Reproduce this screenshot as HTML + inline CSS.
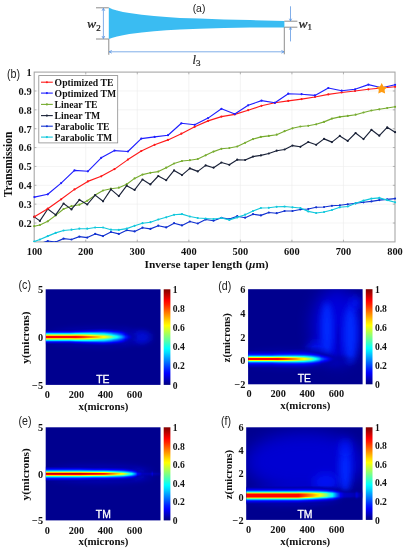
<!DOCTYPE html>
<html lang="en">
<head>
<meta charset="utf-8">
<title>Inverse taper transmission figure</title>
<style>
html,body{margin:0;padding:0;background:#fff;}
body{width:405px;height:550px;overflow:hidden;font-family:'Liberation Sans',sans-serif;}
svg{display:block;}
</style>
</head>
<body>
<svg width="405" height="550" viewBox="0 0 405 550">
<defs>
<clipPath id="cpb"><rect x="32.7" y="70.6" width="363.8" height="171.3"/></clipPath>
<clipPath id="c1"><rect x="45.7" y="289.3" width="114.8" height="95.6"/></clipPath>
<filter id="f2" x="-100%" y="-100%" width="300%" height="300%"><feGaussianBlur stdDeviation="4"/></filter>
<filter id="f3" x="-100%" y="-100%" width="300%" height="300%"><feGaussianBlur stdDeviation="3.2"/></filter>
<filter id="f4" x="-100%" y="-100%" width="300%" height="300%"><feGaussianBlur stdDeviation="3"/></filter>
<linearGradient id="g6" gradientUnits="userSpaceOnUse" x1="45.7" x2="160.5" y1="0" y2="0"><stop offset="-0" stop-color="#000080" stop-opacity="0"/><stop offset="0.45" stop-color="#000080" stop-opacity="0"/><stop offset="0.47" stop-color="#000083" stop-opacity="0"/><stop offset="0.5" stop-color="#000085" stop-opacity="0.03"/><stop offset="0.57" stop-color="#000085" stop-opacity="0.03"/><stop offset="0.59" stop-color="#000085" stop-opacity="0.02"/><stop offset="0.62" stop-color="#000084" stop-opacity="0.01"/><stop offset="0.66" stop-color="#000083" stop-opacity="0"/><stop offset="0.69" stop-color="#000082" stop-opacity="0"/><stop offset="0.69" stop-color="#000082" stop-opacity="0"/><stop offset="0.72" stop-color="#000081" stop-opacity="0"/><stop offset="0.74" stop-color="#000081" stop-opacity="0"/><stop offset="0.76" stop-color="#000080" stop-opacity="0"/><stop offset="1" stop-color="#000080" stop-opacity="0"/></linearGradient>
<linearGradient id="g7" gradientUnits="userSpaceOnUse" x1="45.7" x2="160.5" y1="0" y2="0"><stop offset="-0" stop-color="#000080" stop-opacity="0"/><stop offset="0.33" stop-color="#000080" stop-opacity="0"/><stop offset="0.36" stop-color="#000084" stop-opacity="0"/><stop offset="0.39" stop-color="#000087" stop-opacity="0.06"/><stop offset="0.42" stop-color="#000089" stop-opacity="0.12"/><stop offset="0.45" stop-color="#00008c" stop-opacity="0.16"/><stop offset="0.47" stop-color="#00008e" stop-opacity="0.2"/><stop offset="0.5" stop-color="#000091" stop-opacity="0.26"/><stop offset="0.51" stop-color="#000091" stop-opacity="0.26"/><stop offset="0.54" stop-color="#000090" stop-opacity="0.25"/><stop offset="0.57" stop-color="#00008f" stop-opacity="0.23"/><stop offset="0.59" stop-color="#00008e" stop-opacity="0.2"/><stop offset="0.62" stop-color="#00008c" stop-opacity="0.17"/><stop offset="0.66" stop-color="#00008a" stop-opacity="0.12"/><stop offset="0.69" stop-color="#000086" stop-opacity="0.05"/><stop offset="0.69" stop-color="#000086" stop-opacity="0.05"/><stop offset="0.72" stop-color="#000083" stop-opacity="0"/><stop offset="0.74" stop-color="#000082" stop-opacity="0"/><stop offset="0.76" stop-color="#000081" stop-opacity="0"/><stop offset="0.78" stop-color="#000081" stop-opacity="0"/><stop offset="0.8" stop-color="#000080" stop-opacity="0"/><stop offset="1" stop-color="#000080" stop-opacity="0"/></linearGradient>
<linearGradient id="g8" gradientUnits="userSpaceOnUse" x1="45.7" x2="160.5" y1="0" y2="0"><stop offset="-0" stop-color="#000080" stop-opacity="0"/><stop offset="0.21" stop-color="#000080" stop-opacity="0"/><stop offset="0.24" stop-color="#000083" stop-opacity="0"/><stop offset="0.26" stop-color="#000087" stop-opacity="0.06"/><stop offset="0.29" stop-color="#00008a" stop-opacity="0.12"/><stop offset="0.31" stop-color="#00008c" stop-opacity="0.17"/><stop offset="0.33" stop-color="#00008f" stop-opacity="0.22"/><stop offset="0.36" stop-color="#000093" stop-opacity="0.3"/><stop offset="0.39" stop-color="#000098" stop-opacity="0.4"/><stop offset="0.42" stop-color="#00009c" stop-opacity="0.48"/><stop offset="0.45" stop-color="#00009f" stop-opacity="0.53"/><stop offset="0.47" stop-color="#0000a1" stop-opacity="0.58"/><stop offset="0.5" stop-color="#0000a3" stop-opacity="0.62"/><stop offset="0.51" stop-color="#0000a3" stop-opacity="0.61"/><stop offset="0.54" stop-color="#0000a0" stop-opacity="0.56"/><stop offset="0.57" stop-color="#00009e" stop-opacity="0.52"/><stop offset="0.59" stop-color="#00009b" stop-opacity="0.46"/><stop offset="0.62" stop-color="#000098" stop-opacity="0.4"/><stop offset="0.66" stop-color="#000092" stop-opacity="0.29"/><stop offset="0.69" stop-color="#00008c" stop-opacity="0.16"/><stop offset="0.69" stop-color="#00008b" stop-opacity="0.15"/><stop offset="0.72" stop-color="#000086" stop-opacity="0.06"/><stop offset="0.74" stop-color="#000084" stop-opacity="0.01"/><stop offset="0.76" stop-color="#000082" stop-opacity="0"/><stop offset="0.78" stop-color="#000081" stop-opacity="0"/><stop offset="0.8" stop-color="#000081" stop-opacity="0"/><stop offset="0.83" stop-color="#000080" stop-opacity="0"/><stop offset="1" stop-color="#000080" stop-opacity="0"/></linearGradient>
<linearGradient id="g9" gradientUnits="userSpaceOnUse" x1="45.7" x2="160.5" y1="0" y2="0"><stop offset="-0" stop-color="#000091" stop-opacity="0.27"/><stop offset="0.21" stop-color="#000091" stop-opacity="0.27"/><stop offset="0.24" stop-color="#000097" stop-opacity="0.39"/><stop offset="0.26" stop-color="#00009d" stop-opacity="0.5"/><stop offset="0.29" stop-color="#0000a2" stop-opacity="0.59"/><stop offset="0.31" stop-color="#0000a6" stop-opacity="0.67"/><stop offset="0.33" stop-color="#0000a9" stop-opacity="0.74"/><stop offset="0.36" stop-color="#0000ad" stop-opacity="0.81"/><stop offset="0.39" stop-color="#0000b2" stop-opacity="0.9"/><stop offset="0.42" stop-color="#0000b6" stop-opacity="0.98"/><stop offset="0.45" stop-color="#0000b9" stop-opacity="1"/><stop offset="0.47" stop-color="#0000bc" stop-opacity="1"/><stop offset="0.5" stop-color="#0000be" stop-opacity="1"/><stop offset="0.51" stop-color="#0000be" stop-opacity="1"/><stop offset="0.54" stop-color="#0000b9" stop-opacity="1"/><stop offset="0.57" stop-color="#0000b4" stop-opacity="0.95"/><stop offset="0.59" stop-color="#0000ae" stop-opacity="0.84"/><stop offset="0.62" stop-color="#0000a9" stop-opacity="0.73"/><stop offset="0.66" stop-color="#00009f" stop-opacity="0.53"/><stop offset="0.69" stop-color="#000094" stop-opacity="0.32"/><stop offset="0.69" stop-color="#000093" stop-opacity="0.3"/><stop offset="0.72" stop-color="#00008b" stop-opacity="0.14"/><stop offset="0.74" stop-color="#000087" stop-opacity="0.08"/><stop offset="0.76" stop-color="#000084" stop-opacity="0.01"/><stop offset="0.78" stop-color="#000083" stop-opacity="0"/><stop offset="0.8" stop-color="#000081" stop-opacity="0"/><stop offset="0.88" stop-color="#000081" stop-opacity="0"/><stop offset="0.9" stop-color="#000080" stop-opacity="0"/><stop offset="1" stop-color="#000080" stop-opacity="0"/></linearGradient>
<linearGradient id="g10" gradientUnits="userSpaceOnUse" x1="45.7" x2="160.5" y1="0" y2="0"><stop offset="-0" stop-color="#0000b2" stop-opacity="0.92"/><stop offset="0.11" stop-color="#0000b2" stop-opacity="0.92"/><stop offset="0.13" stop-color="#0000b2" stop-opacity="0.91"/><stop offset="0.21" stop-color="#0000b2" stop-opacity="0.91"/><stop offset="0.24" stop-color="#0000ba" stop-opacity="1"/><stop offset="0.26" stop-color="#0000c1" stop-opacity="1"/><stop offset="0.29" stop-color="#0000c5" stop-opacity="1"/><stop offset="0.31" stop-color="#0000ca" stop-opacity="1"/><stop offset="0.33" stop-color="#0000cf" stop-opacity="1"/><stop offset="0.36" stop-color="#0000d4" stop-opacity="1"/><stop offset="0.39" stop-color="#0000d8" stop-opacity="1"/><stop offset="0.42" stop-color="#0000dd" stop-opacity="1"/><stop offset="0.45" stop-color="#0000e0" stop-opacity="1"/><stop offset="0.47" stop-color="#0000e2" stop-opacity="1"/><stop offset="0.5" stop-color="#0000e3" stop-opacity="1"/><stop offset="0.51" stop-color="#0000e2" stop-opacity="1"/><stop offset="0.54" stop-color="#0000da" stop-opacity="1"/><stop offset="0.57" stop-color="#0000d2" stop-opacity="1"/><stop offset="0.59" stop-color="#0000ca" stop-opacity="1"/><stop offset="0.62" stop-color="#0000c1" stop-opacity="1"/><stop offset="0.66" stop-color="#0000b1" stop-opacity="0.88"/><stop offset="0.69" stop-color="#0000a0" stop-opacity="0.55"/><stop offset="0.69" stop-color="#00009e" stop-opacity="0.51"/><stop offset="0.72" stop-color="#000091" stop-opacity="0.27"/><stop offset="0.74" stop-color="#00008c" stop-opacity="0.17"/><stop offset="0.76" stop-color="#000087" stop-opacity="0.06"/><stop offset="0.78" stop-color="#000084" stop-opacity="0.02"/><stop offset="0.8" stop-color="#000082" stop-opacity="0"/><stop offset="0.85" stop-color="#000082" stop-opacity="0"/><stop offset="0.88" stop-color="#000081" stop-opacity="0"/><stop offset="0.93" stop-color="#000081" stop-opacity="0"/><stop offset="0.95" stop-color="#000080" stop-opacity="0"/><stop offset="1" stop-color="#000080" stop-opacity="0"/></linearGradient>
<linearGradient id="g11" gradientUnits="userSpaceOnUse" x1="45.7" x2="160.5" y1="0" y2="0"><stop offset="-0" stop-color="#0000e6" stop-opacity="1"/><stop offset="0.21" stop-color="#0000e6" stop-opacity="1"/><stop offset="0.24" stop-color="#0000ef" stop-opacity="1"/><stop offset="0.26" stop-color="#0000f9" stop-opacity="1"/><stop offset="0.29" stop-color="#0000fe" stop-opacity="1"/><stop offset="0.31" stop-color="#0004ff" stop-opacity="1"/><stop offset="0.33" stop-color="#000aff" stop-opacity="1"/><stop offset="0.36" stop-color="#0011ff" stop-opacity="1"/><stop offset="0.39" stop-color="#0015ff" stop-opacity="1"/><stop offset="0.42" stop-color="#0018ff" stop-opacity="1"/><stop offset="0.45" stop-color="#001eff" stop-opacity="1"/><stop offset="0.47" stop-color="#0023ff" stop-opacity="1"/><stop offset="0.5" stop-color="#0026ff" stop-opacity="1"/><stop offset="0.51" stop-color="#0025ff" stop-opacity="1"/><stop offset="0.54" stop-color="#0017ff" stop-opacity="1"/><stop offset="0.57" stop-color="#0009ff" stop-opacity="1"/><stop offset="0.59" stop-color="#0000fa" stop-opacity="1"/><stop offset="0.62" stop-color="#0000eb" stop-opacity="1"/><stop offset="0.66" stop-color="#0000d0" stop-opacity="1"/><stop offset="0.69" stop-color="#0000b4" stop-opacity="0.95"/><stop offset="0.69" stop-color="#0000b1" stop-opacity="0.89"/><stop offset="0.72" stop-color="#00009d" stop-opacity="0.49"/><stop offset="0.74" stop-color="#000094" stop-opacity="0.32"/><stop offset="0.76" stop-color="#00008b" stop-opacity="0.15"/><stop offset="0.78" stop-color="#000088" stop-opacity="0.08"/><stop offset="0.8" stop-color="#000084" stop-opacity="0.01"/><stop offset="0.83" stop-color="#000083" stop-opacity="0"/><stop offset="0.85" stop-color="#000083" stop-opacity="0"/><stop offset="0.88" stop-color="#000082" stop-opacity="0"/><stop offset="0.9" stop-color="#000082" stop-opacity="0"/><stop offset="0.93" stop-color="#000081" stop-opacity="0"/><stop offset="0.95" stop-color="#000081" stop-opacity="0"/><stop offset="0.98" stop-color="#000080" stop-opacity="0"/><stop offset="1" stop-color="#000080" stop-opacity="0"/></linearGradient>
<linearGradient id="g12" gradientUnits="userSpaceOnUse" x1="45.7" x2="160.5" y1="0" y2="0"><stop offset="-0" stop-color="#003cff" stop-opacity="1"/><stop offset="0.08" stop-color="#003cff" stop-opacity="1"/><stop offset="0.11" stop-color="#003bff" stop-opacity="1"/><stop offset="0.21" stop-color="#003bff" stop-opacity="1"/><stop offset="0.24" stop-color="#004dff" stop-opacity="1"/><stop offset="0.26" stop-color="#005eff" stop-opacity="1"/><stop offset="0.29" stop-color="#0068ff" stop-opacity="1"/><stop offset="0.31" stop-color="#0071ff" stop-opacity="1"/><stop offset="0.33" stop-color="#0079ff" stop-opacity="1"/><stop offset="0.36" stop-color="#007fff" stop-opacity="1"/><stop offset="0.39" stop-color="#0084ff" stop-opacity="1"/><stop offset="0.42" stop-color="#0086ff" stop-opacity="1"/><stop offset="0.45" stop-color="#0086ff" stop-opacity="1"/><stop offset="0.47" stop-color="#0085ff" stop-opacity="1"/><stop offset="0.5" stop-color="#0082ff" stop-opacity="1"/><stop offset="0.51" stop-color="#007fff" stop-opacity="1"/><stop offset="0.54" stop-color="#0069ff" stop-opacity="1"/><stop offset="0.57" stop-color="#0052ff" stop-opacity="1"/><stop offset="0.59" stop-color="#003aff" stop-opacity="1"/><stop offset="0.62" stop-color="#0022ff" stop-opacity="1"/><stop offset="0.66" stop-color="#0000f8" stop-opacity="1"/><stop offset="0.69" stop-color="#0000ce" stop-opacity="1"/><stop offset="0.69" stop-color="#0000c9" stop-opacity="1"/><stop offset="0.72" stop-color="#0000ab" stop-opacity="0.77"/><stop offset="0.74" stop-color="#00009e" stop-opacity="0.52"/><stop offset="0.76" stop-color="#000091" stop-opacity="0.26"/><stop offset="0.78" stop-color="#00008b" stop-opacity="0.15"/><stop offset="0.8" stop-color="#000086" stop-opacity="0.05"/><stop offset="0.83" stop-color="#000085" stop-opacity="0.03"/><stop offset="0.85" stop-color="#000084" stop-opacity="0.02"/><stop offset="0.88" stop-color="#000084" stop-opacity="0"/><stop offset="0.9" stop-color="#000083" stop-opacity="0"/><stop offset="0.93" stop-color="#000082" stop-opacity="0"/><stop offset="0.95" stop-color="#000081" stop-opacity="0"/><stop offset="0.98" stop-color="#000080" stop-opacity="0"/><stop offset="1" stop-color="#000080" stop-opacity="0"/></linearGradient>
<linearGradient id="g13" gradientUnits="userSpaceOnUse" x1="45.7" x2="160.5" y1="0" y2="0"><stop offset="-0" stop-color="#00e1ff" stop-opacity="1"/><stop offset="0.05" stop-color="#00e1ff" stop-opacity="1"/><stop offset="0.08" stop-color="#00e0ff" stop-opacity="1"/><stop offset="0.19" stop-color="#00e0ff" stop-opacity="1"/><stop offset="0.21" stop-color="#00dfff" stop-opacity="1"/><stop offset="0.24" stop-color="#00eeff" stop-opacity="1"/><stop offset="0.26" stop-color="#00fcff" stop-opacity="1"/><stop offset="0.29" stop-color="#01fffe" stop-opacity="1"/><stop offset="0.31" stop-color="#05fffa" stop-opacity="1"/><stop offset="0.33" stop-color="#07fff8" stop-opacity="1"/><stop offset="0.36" stop-color="#05fffa" stop-opacity="1"/><stop offset="0.39" stop-color="#00ffff" stop-opacity="1"/><stop offset="0.42" stop-color="#00f8ff" stop-opacity="1"/><stop offset="0.45" stop-color="#00f0ff" stop-opacity="1"/><stop offset="0.47" stop-color="#00e8ff" stop-opacity="1"/><stop offset="0.5" stop-color="#00deff" stop-opacity="1"/><stop offset="0.51" stop-color="#00daff" stop-opacity="1"/><stop offset="0.54" stop-color="#00baff" stop-opacity="1"/><stop offset="0.57" stop-color="#009aff" stop-opacity="1"/><stop offset="0.59" stop-color="#0079ff" stop-opacity="1"/><stop offset="0.62" stop-color="#0058ff" stop-opacity="1"/><stop offset="0.66" stop-color="#0020ff" stop-opacity="1"/><stop offset="0.69" stop-color="#0000e7" stop-opacity="1"/><stop offset="0.69" stop-color="#0000e0" stop-opacity="1"/><stop offset="0.72" stop-color="#0000b9" stop-opacity="1"/><stop offset="0.74" stop-color="#0000a8" stop-opacity="0.71"/><stop offset="0.76" stop-color="#000096" stop-opacity="0.37"/><stop offset="0.78" stop-color="#00008f" stop-opacity="0.23"/><stop offset="0.8" stop-color="#000088" stop-opacity="0.09"/><stop offset="0.83" stop-color="#000087" stop-opacity="0.07"/><stop offset="0.85" stop-color="#000086" stop-opacity="0.05"/><stop offset="0.88" stop-color="#000085" stop-opacity="0.03"/><stop offset="0.9" stop-color="#000084" stop-opacity="0"/><stop offset="0.93" stop-color="#000083" stop-opacity="0"/><stop offset="0.95" stop-color="#000082" stop-opacity="0"/><stop offset="0.98" stop-color="#000081" stop-opacity="0"/><stop offset="1" stop-color="#000080" stop-opacity="0"/></linearGradient>
<linearGradient id="g14" gradientUnits="userSpaceOnUse" x1="45.7" x2="160.5" y1="0" y2="0"><stop offset="-0" stop-color="#87ff78" stop-opacity="1"/><stop offset="0.05" stop-color="#87ff78" stop-opacity="1"/><stop offset="0.08" stop-color="#86ff79" stop-opacity="1"/><stop offset="0.13" stop-color="#86ff79" stop-opacity="1"/><stop offset="0.16" stop-color="#85ff7a" stop-opacity="1"/><stop offset="0.21" stop-color="#85ff7a" stop-opacity="1"/><stop offset="0.24" stop-color="#8fff70" stop-opacity="1"/><stop offset="0.26" stop-color="#98ff67" stop-opacity="1"/><stop offset="0.29" stop-color="#95ff6a" stop-opacity="1"/><stop offset="0.31" stop-color="#92ff6d" stop-opacity="1"/><stop offset="0.33" stop-color="#8fff70" stop-opacity="1"/><stop offset="0.36" stop-color="#82ff7d" stop-opacity="1"/><stop offset="0.39" stop-color="#75ff8a" stop-opacity="1"/><stop offset="0.42" stop-color="#66ff99" stop-opacity="1"/><stop offset="0.45" stop-color="#57ffa8" stop-opacity="1"/><stop offset="0.47" stop-color="#48ffb7" stop-opacity="1"/><stop offset="0.5" stop-color="#38ffc7" stop-opacity="1"/><stop offset="0.51" stop-color="#33ffcc" stop-opacity="1"/><stop offset="0.54" stop-color="#0afff5" stop-opacity="1"/><stop offset="0.57" stop-color="#00e0ff" stop-opacity="1"/><stop offset="0.59" stop-color="#00b7ff" stop-opacity="1"/><stop offset="0.62" stop-color="#008dff" stop-opacity="1"/><stop offset="0.66" stop-color="#0047ff" stop-opacity="1"/><stop offset="0.69" stop-color="#0001ff" stop-opacity="1"/><stop offset="0.69" stop-color="#0000f8" stop-opacity="1"/><stop offset="0.72" stop-color="#0000c7" stop-opacity="1"/><stop offset="0.74" stop-color="#0000b1" stop-opacity="0.9"/><stop offset="0.76" stop-color="#00009c" stop-opacity="0.48"/><stop offset="0.78" stop-color="#000093" stop-opacity="0.3"/><stop offset="0.8" stop-color="#00008a" stop-opacity="0.13"/><stop offset="0.83" stop-color="#000089" stop-opacity="0.1"/><stop offset="0.85" stop-color="#000088" stop-opacity="0.08"/><stop offset="0.88" stop-color="#000086" stop-opacity="0.05"/><stop offset="0.9" stop-color="#000085" stop-opacity="0.02"/><stop offset="0.93" stop-color="#000084" stop-opacity="0"/><stop offset="0.95" stop-color="#000082" stop-opacity="0"/><stop offset="0.98" stop-color="#000081" stop-opacity="0"/><stop offset="1" stop-color="#000080" stop-opacity="0"/></linearGradient>
<linearGradient id="g15" gradientUnits="userSpaceOnUse" x1="45.7" x2="160.5" y1="0" y2="0"><stop offset="-0" stop-color="#ffd200" stop-opacity="1"/><stop offset="0.03" stop-color="#ffd200" stop-opacity="1"/><stop offset="0.05" stop-color="#ffd300" stop-opacity="1"/><stop offset="0.11" stop-color="#ffd300" stop-opacity="1"/><stop offset="0.13" stop-color="#ffd400" stop-opacity="1"/><stop offset="0.19" stop-color="#ffd400" stop-opacity="1"/><stop offset="0.21" stop-color="#ffd500" stop-opacity="1"/><stop offset="0.24" stop-color="#ffcc00" stop-opacity="1"/><stop offset="0.26" stop-color="#ffc400" stop-opacity="1"/><stop offset="0.29" stop-color="#ffca00" stop-opacity="1"/><stop offset="0.31" stop-color="#ffd100" stop-opacity="1"/><stop offset="0.33" stop-color="#ffd800" stop-opacity="1"/><stop offset="0.36" stop-color="#ffec00" stop-opacity="1"/><stop offset="0.39" stop-color="#feff01" stop-opacity="1"/><stop offset="0.42" stop-color="#e8ff17" stop-opacity="1"/><stop offset="0.45" stop-color="#d3ff2c" stop-opacity="1"/><stop offset="0.47" stop-color="#bdff42" stop-opacity="1"/><stop offset="0.5" stop-color="#a7ff58" stop-opacity="1"/><stop offset="0.51" stop-color="#a1ff5e" stop-opacity="1"/><stop offset="0.54" stop-color="#6dff92" stop-opacity="1"/><stop offset="0.57" stop-color="#39ffc6" stop-opacity="1"/><stop offset="0.59" stop-color="#05fffa" stop-opacity="1"/><stop offset="0.62" stop-color="#00d0ff" stop-opacity="1"/><stop offset="0.66" stop-color="#0078ff" stop-opacity="1"/><stop offset="0.69" stop-color="#0020ff" stop-opacity="1"/><stop offset="0.69" stop-color="#0016ff" stop-opacity="1"/><stop offset="0.72" stop-color="#0000d8" stop-opacity="1"/><stop offset="0.74" stop-color="#0000be" stop-opacity="1"/><stop offset="0.76" stop-color="#0000a3" stop-opacity="0.62"/><stop offset="0.78" stop-color="#000098" stop-opacity="0.4"/><stop offset="0.8" stop-color="#00008d" stop-opacity="0.18"/><stop offset="0.83" stop-color="#00008b" stop-opacity="0.15"/><stop offset="0.85" stop-color="#000089" stop-opacity="0.12"/><stop offset="0.88" stop-color="#000088" stop-opacity="0.08"/><stop offset="0.9" stop-color="#000086" stop-opacity="0.05"/><stop offset="0.93" stop-color="#000084" stop-opacity="0.02"/><stop offset="0.95" stop-color="#000083" stop-opacity="0"/><stop offset="0.98" stop-color="#000081" stop-opacity="0"/><stop offset="1" stop-color="#000080" stop-opacity="0"/></linearGradient>
<linearGradient id="g16" gradientUnits="userSpaceOnUse" x1="45.7" x2="160.5" y1="0" y2="0"><stop offset="-0" stop-color="#ff0000" stop-opacity="1"/><stop offset="0" stop-color="#ff0000" stop-opacity="1"/><stop offset="0.03" stop-color="#ff0100" stop-opacity="1"/><stop offset="0.05" stop-color="#ff0100" stop-opacity="1"/><stop offset="0.08" stop-color="#ff0200" stop-opacity="1"/><stop offset="0.11" stop-color="#ff0200" stop-opacity="1"/><stop offset="0.13" stop-color="#ff0300" stop-opacity="1"/><stop offset="0.16" stop-color="#ff0300" stop-opacity="1"/><stop offset="0.19" stop-color="#ff0400" stop-opacity="1"/><stop offset="0.21" stop-color="#ff0400" stop-opacity="1"/><stop offset="0.24" stop-color="#ff0500" stop-opacity="1"/><stop offset="0.26" stop-color="#ff0500" stop-opacity="1"/><stop offset="0.29" stop-color="#ff1600" stop-opacity="1"/><stop offset="0.31" stop-color="#ff2700" stop-opacity="1"/><stop offset="0.33" stop-color="#ff3800" stop-opacity="1"/><stop offset="0.36" stop-color="#ff5a00" stop-opacity="1"/><stop offset="0.39" stop-color="#ff7c00" stop-opacity="1"/><stop offset="0.42" stop-color="#ff9e00" stop-opacity="1"/><stop offset="0.45" stop-color="#ffbd00" stop-opacity="1"/><stop offset="0.47" stop-color="#ffdd00" stop-opacity="1"/><stop offset="0.5" stop-color="#fffc00" stop-opacity="1"/><stop offset="0.51" stop-color="#faff05" stop-opacity="1"/><stop offset="0.54" stop-color="#bdff42" stop-opacity="1"/><stop offset="0.57" stop-color="#80ff80" stop-opacity="1"/><stop offset="0.59" stop-color="#42ffbd" stop-opacity="1"/><stop offset="0.62" stop-color="#05fffa" stop-opacity="1"/><stop offset="0.66" stop-color="#009eff" stop-opacity="1"/><stop offset="0.69" stop-color="#0038ff" stop-opacity="1"/><stop offset="0.69" stop-color="#002cff" stop-opacity="1"/><stop offset="0.72" stop-color="#0000e6" stop-opacity="1"/><stop offset="0.74" stop-color="#0000c7" stop-opacity="1"/><stop offset="0.76" stop-color="#0000a8" stop-opacity="0.72"/><stop offset="0.78" stop-color="#00009c" stop-opacity="0.47"/><stop offset="0.8" stop-color="#00008f" stop-opacity="0.22"/><stop offset="0.83" stop-color="#00008d" stop-opacity="0.18"/><stop offset="0.85" stop-color="#00008b" stop-opacity="0.14"/><stop offset="0.88" stop-color="#000089" stop-opacity="0.11"/><stop offset="0.9" stop-color="#000087" stop-opacity="0.07"/><stop offset="0.93" stop-color="#000085" stop-opacity="0.03"/><stop offset="0.95" stop-color="#000083" stop-opacity="0"/><stop offset="0.98" stop-color="#000081" stop-opacity="0"/><stop offset="1" stop-color="#000080" stop-opacity="0"/></linearGradient>
<linearGradient id="g17" gradientUnits="userSpaceOnUse" x1="45.7" x2="160.5" y1="0" y2="0"><stop offset="-0" stop-color="#ff0000" stop-opacity="1"/><stop offset="0" stop-color="#ff0000" stop-opacity="1"/><stop offset="0.03" stop-color="#ff0100" stop-opacity="1"/><stop offset="0.05" stop-color="#ff0100" stop-opacity="1"/><stop offset="0.08" stop-color="#ff0200" stop-opacity="1"/><stop offset="0.11" stop-color="#ff0200" stop-opacity="1"/><stop offset="0.13" stop-color="#ff0300" stop-opacity="1"/><stop offset="0.16" stop-color="#ff0300" stop-opacity="1"/><stop offset="0.19" stop-color="#ff0400" stop-opacity="1"/><stop offset="0.21" stop-color="#ff0400" stop-opacity="1"/><stop offset="0.24" stop-color="#ff0500" stop-opacity="1"/><stop offset="0.26" stop-color="#ff0500" stop-opacity="1"/><stop offset="0.29" stop-color="#ff1600" stop-opacity="1"/><stop offset="0.31" stop-color="#ff2700" stop-opacity="1"/><stop offset="0.33" stop-color="#ff3800" stop-opacity="1"/><stop offset="0.36" stop-color="#ff5a00" stop-opacity="1"/><stop offset="0.39" stop-color="#ff7c00" stop-opacity="1"/><stop offset="0.42" stop-color="#ff9e00" stop-opacity="1"/><stop offset="0.45" stop-color="#ffbd00" stop-opacity="1"/><stop offset="0.47" stop-color="#ffdd00" stop-opacity="1"/><stop offset="0.5" stop-color="#fffc00" stop-opacity="1"/><stop offset="0.51" stop-color="#faff05" stop-opacity="1"/><stop offset="0.54" stop-color="#bdff42" stop-opacity="1"/><stop offset="0.57" stop-color="#80ff80" stop-opacity="1"/><stop offset="0.59" stop-color="#42ffbd" stop-opacity="1"/><stop offset="0.62" stop-color="#05fffa" stop-opacity="1"/><stop offset="0.66" stop-color="#009eff" stop-opacity="1"/><stop offset="0.69" stop-color="#0038ff" stop-opacity="1"/><stop offset="0.69" stop-color="#002cff" stop-opacity="1"/><stop offset="0.72" stop-color="#0000e6" stop-opacity="1"/><stop offset="0.74" stop-color="#0000c7" stop-opacity="1"/><stop offset="0.76" stop-color="#0000a8" stop-opacity="0.72"/><stop offset="0.78" stop-color="#00009c" stop-opacity="0.47"/><stop offset="0.8" stop-color="#00008f" stop-opacity="0.22"/><stop offset="0.83" stop-color="#00008d" stop-opacity="0.18"/><stop offset="0.85" stop-color="#00008b" stop-opacity="0.14"/><stop offset="0.88" stop-color="#000089" stop-opacity="0.11"/><stop offset="0.9" stop-color="#000087" stop-opacity="0.07"/><stop offset="0.93" stop-color="#000085" stop-opacity="0.03"/><stop offset="0.95" stop-color="#000083" stop-opacity="0"/><stop offset="0.98" stop-color="#000081" stop-opacity="0"/><stop offset="1" stop-color="#000080" stop-opacity="0"/></linearGradient>
<linearGradient id="g18" gradientUnits="userSpaceOnUse" x1="45.7" x2="160.5" y1="0" y2="0"><stop offset="-0" stop-color="#ffd200" stop-opacity="1"/><stop offset="0.03" stop-color="#ffd200" stop-opacity="1"/><stop offset="0.05" stop-color="#ffd300" stop-opacity="1"/><stop offset="0.11" stop-color="#ffd300" stop-opacity="1"/><stop offset="0.13" stop-color="#ffd400" stop-opacity="1"/><stop offset="0.19" stop-color="#ffd400" stop-opacity="1"/><stop offset="0.21" stop-color="#ffd500" stop-opacity="1"/><stop offset="0.24" stop-color="#ffcc00" stop-opacity="1"/><stop offset="0.26" stop-color="#ffc400" stop-opacity="1"/><stop offset="0.29" stop-color="#ffca00" stop-opacity="1"/><stop offset="0.31" stop-color="#ffd100" stop-opacity="1"/><stop offset="0.33" stop-color="#ffd800" stop-opacity="1"/><stop offset="0.36" stop-color="#ffec00" stop-opacity="1"/><stop offset="0.39" stop-color="#feff01" stop-opacity="1"/><stop offset="0.42" stop-color="#e8ff17" stop-opacity="1"/><stop offset="0.45" stop-color="#d3ff2c" stop-opacity="1"/><stop offset="0.47" stop-color="#bdff42" stop-opacity="1"/><stop offset="0.5" stop-color="#a7ff58" stop-opacity="1"/><stop offset="0.51" stop-color="#a1ff5e" stop-opacity="1"/><stop offset="0.54" stop-color="#6dff92" stop-opacity="1"/><stop offset="0.57" stop-color="#39ffc6" stop-opacity="1"/><stop offset="0.59" stop-color="#05fffa" stop-opacity="1"/><stop offset="0.62" stop-color="#00d0ff" stop-opacity="1"/><stop offset="0.66" stop-color="#0078ff" stop-opacity="1"/><stop offset="0.69" stop-color="#0020ff" stop-opacity="1"/><stop offset="0.69" stop-color="#0016ff" stop-opacity="1"/><stop offset="0.72" stop-color="#0000d8" stop-opacity="1"/><stop offset="0.74" stop-color="#0000be" stop-opacity="1"/><stop offset="0.76" stop-color="#0000a3" stop-opacity="0.62"/><stop offset="0.78" stop-color="#000098" stop-opacity="0.4"/><stop offset="0.8" stop-color="#00008d" stop-opacity="0.18"/><stop offset="0.83" stop-color="#00008b" stop-opacity="0.15"/><stop offset="0.85" stop-color="#000089" stop-opacity="0.12"/><stop offset="0.88" stop-color="#000088" stop-opacity="0.08"/><stop offset="0.9" stop-color="#000086" stop-opacity="0.05"/><stop offset="0.93" stop-color="#000084" stop-opacity="0.02"/><stop offset="0.95" stop-color="#000083" stop-opacity="0"/><stop offset="0.98" stop-color="#000081" stop-opacity="0"/><stop offset="1" stop-color="#000080" stop-opacity="0"/></linearGradient>
<linearGradient id="g19" gradientUnits="userSpaceOnUse" x1="45.7" x2="160.5" y1="0" y2="0"><stop offset="-0" stop-color="#87ff78" stop-opacity="1"/><stop offset="0.05" stop-color="#87ff78" stop-opacity="1"/><stop offset="0.08" stop-color="#86ff79" stop-opacity="1"/><stop offset="0.13" stop-color="#86ff79" stop-opacity="1"/><stop offset="0.16" stop-color="#85ff7a" stop-opacity="1"/><stop offset="0.21" stop-color="#85ff7a" stop-opacity="1"/><stop offset="0.24" stop-color="#8fff70" stop-opacity="1"/><stop offset="0.26" stop-color="#98ff67" stop-opacity="1"/><stop offset="0.29" stop-color="#95ff6a" stop-opacity="1"/><stop offset="0.31" stop-color="#92ff6d" stop-opacity="1"/><stop offset="0.33" stop-color="#8fff70" stop-opacity="1"/><stop offset="0.36" stop-color="#82ff7d" stop-opacity="1"/><stop offset="0.39" stop-color="#75ff8a" stop-opacity="1"/><stop offset="0.42" stop-color="#66ff99" stop-opacity="1"/><stop offset="0.45" stop-color="#57ffa8" stop-opacity="1"/><stop offset="0.47" stop-color="#48ffb7" stop-opacity="1"/><stop offset="0.5" stop-color="#38ffc7" stop-opacity="1"/><stop offset="0.51" stop-color="#33ffcc" stop-opacity="1"/><stop offset="0.54" stop-color="#0afff5" stop-opacity="1"/><stop offset="0.57" stop-color="#00e0ff" stop-opacity="1"/><stop offset="0.59" stop-color="#00b7ff" stop-opacity="1"/><stop offset="0.62" stop-color="#008dff" stop-opacity="1"/><stop offset="0.66" stop-color="#0047ff" stop-opacity="1"/><stop offset="0.69" stop-color="#0001ff" stop-opacity="1"/><stop offset="0.69" stop-color="#0000f8" stop-opacity="1"/><stop offset="0.72" stop-color="#0000c7" stop-opacity="1"/><stop offset="0.74" stop-color="#0000b1" stop-opacity="0.9"/><stop offset="0.76" stop-color="#00009c" stop-opacity="0.48"/><stop offset="0.78" stop-color="#000093" stop-opacity="0.3"/><stop offset="0.8" stop-color="#00008a" stop-opacity="0.13"/><stop offset="0.83" stop-color="#000089" stop-opacity="0.1"/><stop offset="0.85" stop-color="#000088" stop-opacity="0.08"/><stop offset="0.88" stop-color="#000086" stop-opacity="0.05"/><stop offset="0.9" stop-color="#000085" stop-opacity="0.02"/><stop offset="0.93" stop-color="#000084" stop-opacity="0"/><stop offset="0.95" stop-color="#000082" stop-opacity="0"/><stop offset="0.98" stop-color="#000081" stop-opacity="0"/><stop offset="1" stop-color="#000080" stop-opacity="0"/></linearGradient>
<linearGradient id="g20" gradientUnits="userSpaceOnUse" x1="45.7" x2="160.5" y1="0" y2="0"><stop offset="-0" stop-color="#00e1ff" stop-opacity="1"/><stop offset="0.05" stop-color="#00e1ff" stop-opacity="1"/><stop offset="0.08" stop-color="#00e0ff" stop-opacity="1"/><stop offset="0.19" stop-color="#00e0ff" stop-opacity="1"/><stop offset="0.21" stop-color="#00dfff" stop-opacity="1"/><stop offset="0.24" stop-color="#00eeff" stop-opacity="1"/><stop offset="0.26" stop-color="#00fcff" stop-opacity="1"/><stop offset="0.29" stop-color="#01fffe" stop-opacity="1"/><stop offset="0.31" stop-color="#05fffa" stop-opacity="1"/><stop offset="0.33" stop-color="#07fff8" stop-opacity="1"/><stop offset="0.36" stop-color="#05fffa" stop-opacity="1"/><stop offset="0.39" stop-color="#00ffff" stop-opacity="1"/><stop offset="0.42" stop-color="#00f8ff" stop-opacity="1"/><stop offset="0.45" stop-color="#00f0ff" stop-opacity="1"/><stop offset="0.47" stop-color="#00e8ff" stop-opacity="1"/><stop offset="0.5" stop-color="#00deff" stop-opacity="1"/><stop offset="0.51" stop-color="#00daff" stop-opacity="1"/><stop offset="0.54" stop-color="#00baff" stop-opacity="1"/><stop offset="0.57" stop-color="#009aff" stop-opacity="1"/><stop offset="0.59" stop-color="#0079ff" stop-opacity="1"/><stop offset="0.62" stop-color="#0058ff" stop-opacity="1"/><stop offset="0.66" stop-color="#0020ff" stop-opacity="1"/><stop offset="0.69" stop-color="#0000e7" stop-opacity="1"/><stop offset="0.69" stop-color="#0000e0" stop-opacity="1"/><stop offset="0.72" stop-color="#0000b9" stop-opacity="1"/><stop offset="0.74" stop-color="#0000a8" stop-opacity="0.71"/><stop offset="0.76" stop-color="#000096" stop-opacity="0.37"/><stop offset="0.78" stop-color="#00008f" stop-opacity="0.23"/><stop offset="0.8" stop-color="#000088" stop-opacity="0.09"/><stop offset="0.83" stop-color="#000087" stop-opacity="0.07"/><stop offset="0.85" stop-color="#000086" stop-opacity="0.05"/><stop offset="0.88" stop-color="#000085" stop-opacity="0.03"/><stop offset="0.9" stop-color="#000084" stop-opacity="0"/><stop offset="0.93" stop-color="#000083" stop-opacity="0"/><stop offset="0.95" stop-color="#000082" stop-opacity="0"/><stop offset="0.98" stop-color="#000081" stop-opacity="0"/><stop offset="1" stop-color="#000080" stop-opacity="0"/></linearGradient>
<linearGradient id="g21" gradientUnits="userSpaceOnUse" x1="45.7" x2="160.5" y1="0" y2="0"><stop offset="-0" stop-color="#003cff" stop-opacity="1"/><stop offset="0.08" stop-color="#003cff" stop-opacity="1"/><stop offset="0.11" stop-color="#003bff" stop-opacity="1"/><stop offset="0.21" stop-color="#003bff" stop-opacity="1"/><stop offset="0.24" stop-color="#004dff" stop-opacity="1"/><stop offset="0.26" stop-color="#005eff" stop-opacity="1"/><stop offset="0.29" stop-color="#0068ff" stop-opacity="1"/><stop offset="0.31" stop-color="#0071ff" stop-opacity="1"/><stop offset="0.33" stop-color="#0079ff" stop-opacity="1"/><stop offset="0.36" stop-color="#007fff" stop-opacity="1"/><stop offset="0.39" stop-color="#0084ff" stop-opacity="1"/><stop offset="0.42" stop-color="#0086ff" stop-opacity="1"/><stop offset="0.45" stop-color="#0086ff" stop-opacity="1"/><stop offset="0.47" stop-color="#0085ff" stop-opacity="1"/><stop offset="0.5" stop-color="#0082ff" stop-opacity="1"/><stop offset="0.51" stop-color="#007fff" stop-opacity="1"/><stop offset="0.54" stop-color="#0069ff" stop-opacity="1"/><stop offset="0.57" stop-color="#0052ff" stop-opacity="1"/><stop offset="0.59" stop-color="#003aff" stop-opacity="1"/><stop offset="0.62" stop-color="#0022ff" stop-opacity="1"/><stop offset="0.66" stop-color="#0000f8" stop-opacity="1"/><stop offset="0.69" stop-color="#0000ce" stop-opacity="1"/><stop offset="0.69" stop-color="#0000c9" stop-opacity="1"/><stop offset="0.72" stop-color="#0000ab" stop-opacity="0.77"/><stop offset="0.74" stop-color="#00009e" stop-opacity="0.52"/><stop offset="0.76" stop-color="#000091" stop-opacity="0.26"/><stop offset="0.78" stop-color="#00008b" stop-opacity="0.15"/><stop offset="0.8" stop-color="#000086" stop-opacity="0.05"/><stop offset="0.83" stop-color="#000085" stop-opacity="0.03"/><stop offset="0.85" stop-color="#000084" stop-opacity="0.02"/><stop offset="0.88" stop-color="#000084" stop-opacity="0"/><stop offset="0.9" stop-color="#000083" stop-opacity="0"/><stop offset="0.93" stop-color="#000082" stop-opacity="0"/><stop offset="0.95" stop-color="#000081" stop-opacity="0"/><stop offset="0.98" stop-color="#000080" stop-opacity="0"/><stop offset="1" stop-color="#000080" stop-opacity="0"/></linearGradient>
<linearGradient id="g22" gradientUnits="userSpaceOnUse" x1="45.7" x2="160.5" y1="0" y2="0"><stop offset="-0" stop-color="#0000e6" stop-opacity="1"/><stop offset="0.21" stop-color="#0000e6" stop-opacity="1"/><stop offset="0.24" stop-color="#0000ef" stop-opacity="1"/><stop offset="0.26" stop-color="#0000f9" stop-opacity="1"/><stop offset="0.29" stop-color="#0000fe" stop-opacity="1"/><stop offset="0.31" stop-color="#0004ff" stop-opacity="1"/><stop offset="0.33" stop-color="#000aff" stop-opacity="1"/><stop offset="0.36" stop-color="#0011ff" stop-opacity="1"/><stop offset="0.39" stop-color="#0015ff" stop-opacity="1"/><stop offset="0.42" stop-color="#0018ff" stop-opacity="1"/><stop offset="0.45" stop-color="#001eff" stop-opacity="1"/><stop offset="0.47" stop-color="#0023ff" stop-opacity="1"/><stop offset="0.5" stop-color="#0026ff" stop-opacity="1"/><stop offset="0.51" stop-color="#0025ff" stop-opacity="1"/><stop offset="0.54" stop-color="#0017ff" stop-opacity="1"/><stop offset="0.57" stop-color="#0009ff" stop-opacity="1"/><stop offset="0.59" stop-color="#0000fa" stop-opacity="1"/><stop offset="0.62" stop-color="#0000eb" stop-opacity="1"/><stop offset="0.66" stop-color="#0000d0" stop-opacity="1"/><stop offset="0.69" stop-color="#0000b4" stop-opacity="0.95"/><stop offset="0.69" stop-color="#0000b1" stop-opacity="0.89"/><stop offset="0.72" stop-color="#00009d" stop-opacity="0.49"/><stop offset="0.74" stop-color="#000094" stop-opacity="0.32"/><stop offset="0.76" stop-color="#00008b" stop-opacity="0.15"/><stop offset="0.78" stop-color="#000088" stop-opacity="0.08"/><stop offset="0.8" stop-color="#000084" stop-opacity="0.01"/><stop offset="0.83" stop-color="#000083" stop-opacity="0"/><stop offset="0.85" stop-color="#000083" stop-opacity="0"/><stop offset="0.88" stop-color="#000082" stop-opacity="0"/><stop offset="0.9" stop-color="#000082" stop-opacity="0"/><stop offset="0.93" stop-color="#000081" stop-opacity="0"/><stop offset="0.95" stop-color="#000081" stop-opacity="0"/><stop offset="0.98" stop-color="#000080" stop-opacity="0"/><stop offset="1" stop-color="#000080" stop-opacity="0"/></linearGradient>
<linearGradient id="g23" gradientUnits="userSpaceOnUse" x1="45.7" x2="160.5" y1="0" y2="0"><stop offset="-0" stop-color="#0000b2" stop-opacity="0.92"/><stop offset="0.11" stop-color="#0000b2" stop-opacity="0.92"/><stop offset="0.13" stop-color="#0000b2" stop-opacity="0.91"/><stop offset="0.21" stop-color="#0000b2" stop-opacity="0.91"/><stop offset="0.24" stop-color="#0000ba" stop-opacity="1"/><stop offset="0.26" stop-color="#0000c1" stop-opacity="1"/><stop offset="0.29" stop-color="#0000c5" stop-opacity="1"/><stop offset="0.31" stop-color="#0000ca" stop-opacity="1"/><stop offset="0.33" stop-color="#0000cf" stop-opacity="1"/><stop offset="0.36" stop-color="#0000d4" stop-opacity="1"/><stop offset="0.39" stop-color="#0000d8" stop-opacity="1"/><stop offset="0.42" stop-color="#0000dd" stop-opacity="1"/><stop offset="0.45" stop-color="#0000e0" stop-opacity="1"/><stop offset="0.47" stop-color="#0000e2" stop-opacity="1"/><stop offset="0.5" stop-color="#0000e3" stop-opacity="1"/><stop offset="0.51" stop-color="#0000e2" stop-opacity="1"/><stop offset="0.54" stop-color="#0000da" stop-opacity="1"/><stop offset="0.57" stop-color="#0000d2" stop-opacity="1"/><stop offset="0.59" stop-color="#0000ca" stop-opacity="1"/><stop offset="0.62" stop-color="#0000c1" stop-opacity="1"/><stop offset="0.66" stop-color="#0000b1" stop-opacity="0.88"/><stop offset="0.69" stop-color="#0000a0" stop-opacity="0.55"/><stop offset="0.69" stop-color="#00009e" stop-opacity="0.51"/><stop offset="0.72" stop-color="#000091" stop-opacity="0.27"/><stop offset="0.74" stop-color="#00008c" stop-opacity="0.17"/><stop offset="0.76" stop-color="#000087" stop-opacity="0.06"/><stop offset="0.78" stop-color="#000084" stop-opacity="0.02"/><stop offset="0.8" stop-color="#000082" stop-opacity="0"/><stop offset="0.85" stop-color="#000082" stop-opacity="0"/><stop offset="0.88" stop-color="#000081" stop-opacity="0"/><stop offset="0.93" stop-color="#000081" stop-opacity="0"/><stop offset="0.95" stop-color="#000080" stop-opacity="0"/><stop offset="1" stop-color="#000080" stop-opacity="0"/></linearGradient>
<linearGradient id="g24" gradientUnits="userSpaceOnUse" x1="45.7" x2="160.5" y1="0" y2="0"><stop offset="-0" stop-color="#000091" stop-opacity="0.27"/><stop offset="0.21" stop-color="#000091" stop-opacity="0.27"/><stop offset="0.24" stop-color="#000097" stop-opacity="0.39"/><stop offset="0.26" stop-color="#00009d" stop-opacity="0.5"/><stop offset="0.29" stop-color="#0000a2" stop-opacity="0.59"/><stop offset="0.31" stop-color="#0000a6" stop-opacity="0.67"/><stop offset="0.33" stop-color="#0000a9" stop-opacity="0.74"/><stop offset="0.36" stop-color="#0000ad" stop-opacity="0.81"/><stop offset="0.39" stop-color="#0000b2" stop-opacity="0.9"/><stop offset="0.42" stop-color="#0000b6" stop-opacity="0.98"/><stop offset="0.45" stop-color="#0000b9" stop-opacity="1"/><stop offset="0.47" stop-color="#0000bc" stop-opacity="1"/><stop offset="0.5" stop-color="#0000be" stop-opacity="1"/><stop offset="0.51" stop-color="#0000be" stop-opacity="1"/><stop offset="0.54" stop-color="#0000b9" stop-opacity="1"/><stop offset="0.57" stop-color="#0000b4" stop-opacity="0.95"/><stop offset="0.59" stop-color="#0000ae" stop-opacity="0.84"/><stop offset="0.62" stop-color="#0000a9" stop-opacity="0.73"/><stop offset="0.66" stop-color="#00009f" stop-opacity="0.53"/><stop offset="0.69" stop-color="#000094" stop-opacity="0.32"/><stop offset="0.69" stop-color="#000093" stop-opacity="0.3"/><stop offset="0.72" stop-color="#00008b" stop-opacity="0.14"/><stop offset="0.74" stop-color="#000087" stop-opacity="0.08"/><stop offset="0.76" stop-color="#000084" stop-opacity="0.01"/><stop offset="0.78" stop-color="#000083" stop-opacity="0"/><stop offset="0.8" stop-color="#000081" stop-opacity="0"/><stop offset="0.88" stop-color="#000081" stop-opacity="0"/><stop offset="0.9" stop-color="#000080" stop-opacity="0"/><stop offset="1" stop-color="#000080" stop-opacity="0"/></linearGradient>
<linearGradient id="g25" gradientUnits="userSpaceOnUse" x1="45.7" x2="160.5" y1="0" y2="0"><stop offset="-0" stop-color="#000080" stop-opacity="0"/><stop offset="0.21" stop-color="#000080" stop-opacity="0"/><stop offset="0.24" stop-color="#000083" stop-opacity="0"/><stop offset="0.26" stop-color="#000087" stop-opacity="0.06"/><stop offset="0.29" stop-color="#00008a" stop-opacity="0.12"/><stop offset="0.31" stop-color="#00008c" stop-opacity="0.17"/><stop offset="0.33" stop-color="#00008f" stop-opacity="0.22"/><stop offset="0.36" stop-color="#000093" stop-opacity="0.3"/><stop offset="0.39" stop-color="#000098" stop-opacity="0.4"/><stop offset="0.42" stop-color="#00009c" stop-opacity="0.48"/><stop offset="0.45" stop-color="#00009f" stop-opacity="0.53"/><stop offset="0.47" stop-color="#0000a1" stop-opacity="0.58"/><stop offset="0.5" stop-color="#0000a3" stop-opacity="0.62"/><stop offset="0.51" stop-color="#0000a3" stop-opacity="0.61"/><stop offset="0.54" stop-color="#0000a0" stop-opacity="0.56"/><stop offset="0.57" stop-color="#00009e" stop-opacity="0.52"/><stop offset="0.59" stop-color="#00009b" stop-opacity="0.46"/><stop offset="0.62" stop-color="#000098" stop-opacity="0.4"/><stop offset="0.66" stop-color="#000092" stop-opacity="0.29"/><stop offset="0.69" stop-color="#00008c" stop-opacity="0.16"/><stop offset="0.69" stop-color="#00008b" stop-opacity="0.15"/><stop offset="0.72" stop-color="#000086" stop-opacity="0.06"/><stop offset="0.74" stop-color="#000084" stop-opacity="0.01"/><stop offset="0.76" stop-color="#000082" stop-opacity="0"/><stop offset="0.78" stop-color="#000081" stop-opacity="0"/><stop offset="0.8" stop-color="#000081" stop-opacity="0"/><stop offset="0.83" stop-color="#000080" stop-opacity="0"/><stop offset="1" stop-color="#000080" stop-opacity="0"/></linearGradient>
<linearGradient id="g26" gradientUnits="userSpaceOnUse" x1="45.7" x2="160.5" y1="0" y2="0"><stop offset="-0" stop-color="#000080" stop-opacity="0"/><stop offset="0.33" stop-color="#000080" stop-opacity="0"/><stop offset="0.36" stop-color="#000084" stop-opacity="0"/><stop offset="0.39" stop-color="#000087" stop-opacity="0.06"/><stop offset="0.42" stop-color="#000089" stop-opacity="0.12"/><stop offset="0.45" stop-color="#00008c" stop-opacity="0.16"/><stop offset="0.47" stop-color="#00008e" stop-opacity="0.2"/><stop offset="0.5" stop-color="#000091" stop-opacity="0.26"/><stop offset="0.51" stop-color="#000091" stop-opacity="0.26"/><stop offset="0.54" stop-color="#000090" stop-opacity="0.25"/><stop offset="0.57" stop-color="#00008f" stop-opacity="0.23"/><stop offset="0.59" stop-color="#00008e" stop-opacity="0.2"/><stop offset="0.62" stop-color="#00008c" stop-opacity="0.17"/><stop offset="0.66" stop-color="#00008a" stop-opacity="0.12"/><stop offset="0.69" stop-color="#000086" stop-opacity="0.05"/><stop offset="0.69" stop-color="#000086" stop-opacity="0.05"/><stop offset="0.72" stop-color="#000083" stop-opacity="0"/><stop offset="0.74" stop-color="#000082" stop-opacity="0"/><stop offset="0.76" stop-color="#000081" stop-opacity="0"/><stop offset="0.78" stop-color="#000081" stop-opacity="0"/><stop offset="0.8" stop-color="#000080" stop-opacity="0"/><stop offset="1" stop-color="#000080" stop-opacity="0"/></linearGradient>
<linearGradient id="g27" gradientUnits="userSpaceOnUse" x1="45.7" x2="160.5" y1="0" y2="0"><stop offset="-0" stop-color="#000080" stop-opacity="0"/><stop offset="0.45" stop-color="#000080" stop-opacity="0"/><stop offset="0.47" stop-color="#000083" stop-opacity="0"/><stop offset="0.5" stop-color="#000085" stop-opacity="0.03"/><stop offset="0.57" stop-color="#000085" stop-opacity="0.03"/><stop offset="0.59" stop-color="#000085" stop-opacity="0.02"/><stop offset="0.62" stop-color="#000084" stop-opacity="0.01"/><stop offset="0.66" stop-color="#000083" stop-opacity="0"/><stop offset="0.69" stop-color="#000082" stop-opacity="0"/><stop offset="0.69" stop-color="#000082" stop-opacity="0"/><stop offset="0.72" stop-color="#000081" stop-opacity="0"/><stop offset="0.74" stop-color="#000081" stop-opacity="0"/><stop offset="0.76" stop-color="#000080" stop-opacity="0"/><stop offset="1" stop-color="#000080" stop-opacity="0"/></linearGradient>
<linearGradient id="g30" x1="0" x2="0" y1="0" y2="1"><stop offset="0" stop-color="#800000"/><stop offset="0.03" stop-color="#9f0000"/><stop offset="0.06" stop-color="#bf0000"/><stop offset="0.09" stop-color="#df0000"/><stop offset="0.12" stop-color="#ff0000"/><stop offset="0.16" stop-color="#ff2000"/><stop offset="0.19" stop-color="#ff4000"/><stop offset="0.22" stop-color="#ff6000"/><stop offset="0.25" stop-color="#ff8000"/><stop offset="0.28" stop-color="#ff9f00"/><stop offset="0.31" stop-color="#ffbf00"/><stop offset="0.34" stop-color="#ffdf00"/><stop offset="0.38" stop-color="#ffff00"/><stop offset="0.41" stop-color="#dfff20"/><stop offset="0.44" stop-color="#bfff40"/><stop offset="0.47" stop-color="#9fff60"/><stop offset="0.5" stop-color="#80ff80"/><stop offset="0.53" stop-color="#60ff9f"/><stop offset="0.56" stop-color="#40ffbf"/><stop offset="0.59" stop-color="#20ffdf"/><stop offset="0.62" stop-color="#00ffff"/><stop offset="0.66" stop-color="#00dfff"/><stop offset="0.69" stop-color="#00bfff"/><stop offset="0.72" stop-color="#009fff"/><stop offset="0.75" stop-color="#0080ff"/><stop offset="0.78" stop-color="#0060ff"/><stop offset="0.81" stop-color="#0040ff"/><stop offset="0.84" stop-color="#0020ff"/><stop offset="0.88" stop-color="#0000ff"/><stop offset="0.91" stop-color="#0000df"/><stop offset="0.94" stop-color="#0000bf"/><stop offset="0.97" stop-color="#00009f"/><stop offset="1" stop-color="#000080"/></linearGradient>
<clipPath id="c31"><rect x="248.1" y="289.2" width="114.5" height="95.1"/></clipPath>
<filter id="f32" x="-100%" y="-100%" width="300%" height="300%"><feGaussianBlur stdDeviation="8"/></filter>
<filter id="f33" x="-100%" y="-100%" width="300%" height="300%"><feGaussianBlur stdDeviation="4"/></filter>
<filter id="f34" x="-100%" y="-100%" width="300%" height="300%"><feGaussianBlur stdDeviation="4.5"/></filter>
<filter id="f35" x="-100%" y="-100%" width="300%" height="300%"><feGaussianBlur stdDeviation="3.2"/></filter>
<filter id="f36" x="-100%" y="-100%" width="300%" height="300%"><feGaussianBlur stdDeviation="3.4"/></filter>
<filter id="f37" x="-100%" y="-100%" width="300%" height="300%"><feGaussianBlur stdDeviation="3.5"/></filter>
<filter id="f38" x="-100%" y="-100%" width="300%" height="300%"><feGaussianBlur stdDeviation="1.5"/></filter>
<linearGradient id="g41" gradientUnits="userSpaceOnUse" x1="248.1" x2="362.6" y1="0" y2="0"><stop offset="-0" stop-color="#000080" stop-opacity="0"/><stop offset="0.36" stop-color="#000080" stop-opacity="0"/><stop offset="0.39" stop-color="#000081" stop-opacity="0"/><stop offset="0.42" stop-color="#000086" stop-opacity="0.04"/><stop offset="0.44" stop-color="#000088" stop-opacity="0.1"/><stop offset="0.46" stop-color="#00008b" stop-opacity="0.14"/><stop offset="0.49" stop-color="#00008d" stop-opacity="0.18"/><stop offset="0.52" stop-color="#00008d" stop-opacity="0.18"/><stop offset="0.55" stop-color="#00008c" stop-opacity="0.17"/><stop offset="0.57" stop-color="#00008c" stop-opacity="0.16"/><stop offset="0.59" stop-color="#00008a" stop-opacity="0.14"/><stop offset="0.62" stop-color="#000089" stop-opacity="0.1"/><stop offset="0.64" stop-color="#000087" stop-opacity="0.06"/><stop offset="0.67" stop-color="#000085" stop-opacity="0.03"/><stop offset="0.68" stop-color="#000085" stop-opacity="0.02"/><stop offset="0.7" stop-color="#000083" stop-opacity="0"/><stop offset="0.72" stop-color="#000082" stop-opacity="0"/><stop offset="0.74" stop-color="#000081" stop-opacity="0"/><stop offset="0.77" stop-color="#000081" stop-opacity="0"/><stop offset="0.79" stop-color="#000080" stop-opacity="0"/><stop offset="1" stop-color="#000080" stop-opacity="0"/></linearGradient>
<linearGradient id="g42" gradientUnits="userSpaceOnUse" x1="248.1" x2="362.6" y1="0" y2="0"><stop offset="-0" stop-color="#000080" stop-opacity="0"/><stop offset="0.26" stop-color="#000080" stop-opacity="0"/><stop offset="0.28" stop-color="#000082" stop-opacity="0"/><stop offset="0.31" stop-color="#000085" stop-opacity="0.03"/><stop offset="0.33" stop-color="#000088" stop-opacity="0.09"/><stop offset="0.36" stop-color="#00008d" stop-opacity="0.18"/><stop offset="0.39" stop-color="#000090" stop-opacity="0.25"/><stop offset="0.42" stop-color="#000094" stop-opacity="0.31"/><stop offset="0.44" stop-color="#000096" stop-opacity="0.35"/><stop offset="0.46" stop-color="#000097" stop-opacity="0.38"/><stop offset="0.49" stop-color="#000098" stop-opacity="0.4"/><stop offset="0.49" stop-color="#000098" stop-opacity="0.41"/><stop offset="0.52" stop-color="#000097" stop-opacity="0.38"/><stop offset="0.55" stop-color="#000095" stop-opacity="0.35"/><stop offset="0.57" stop-color="#000093" stop-opacity="0.31"/><stop offset="0.59" stop-color="#000091" stop-opacity="0.27"/><stop offset="0.62" stop-color="#00008e" stop-opacity="0.2"/><stop offset="0.64" stop-color="#00008a" stop-opacity="0.14"/><stop offset="0.67" stop-color="#000088" stop-opacity="0.08"/><stop offset="0.68" stop-color="#000087" stop-opacity="0.07"/><stop offset="0.7" stop-color="#000085" stop-opacity="0.04"/><stop offset="0.72" stop-color="#000084" stop-opacity="0"/><stop offset="0.74" stop-color="#000082" stop-opacity="0"/><stop offset="0.77" stop-color="#000081" stop-opacity="0"/><stop offset="0.85" stop-color="#000081" stop-opacity="0"/><stop offset="0.87" stop-color="#000080" stop-opacity="0"/><stop offset="1" stop-color="#000080" stop-opacity="0"/></linearGradient>
<linearGradient id="g43" gradientUnits="userSpaceOnUse" x1="248.1" x2="362.6" y1="0" y2="0"><stop offset="-0" stop-color="#00008a" stop-opacity="0.12"/><stop offset="0.21" stop-color="#00008a" stop-opacity="0.12"/><stop offset="0.23" stop-color="#00008e" stop-opacity="0.2"/><stop offset="0.26" stop-color="#000091" stop-opacity="0.27"/><stop offset="0.28" stop-color="#000094" stop-opacity="0.33"/><stop offset="0.31" stop-color="#000097" stop-opacity="0.38"/><stop offset="0.33" stop-color="#000099" stop-opacity="0.43"/><stop offset="0.36" stop-color="#00009d" stop-opacity="0.49"/><stop offset="0.39" stop-color="#00009f" stop-opacity="0.55"/><stop offset="0.42" stop-color="#0000a2" stop-opacity="0.59"/><stop offset="0.44" stop-color="#0000a3" stop-opacity="0.61"/><stop offset="0.46" stop-color="#0000a3" stop-opacity="0.62"/><stop offset="0.49" stop-color="#0000a4" stop-opacity="0.63"/><stop offset="0.49" stop-color="#0000a4" stop-opacity="0.63"/><stop offset="0.52" stop-color="#0000a1" stop-opacity="0.57"/><stop offset="0.55" stop-color="#00009e" stop-opacity="0.52"/><stop offset="0.57" stop-color="#00009b" stop-opacity="0.45"/><stop offset="0.59" stop-color="#000097" stop-opacity="0.39"/><stop offset="0.62" stop-color="#000093" stop-opacity="0.3"/><stop offset="0.64" stop-color="#00008e" stop-opacity="0.2"/><stop offset="0.67" stop-color="#00008a" stop-opacity="0.13"/><stop offset="0.68" stop-color="#000089" stop-opacity="0.11"/><stop offset="0.7" stop-color="#000087" stop-opacity="0.07"/><stop offset="0.72" stop-color="#000085" stop-opacity="0.02"/><stop offset="0.74" stop-color="#000083" stop-opacity="0"/><stop offset="0.77" stop-color="#000081" stop-opacity="0"/><stop offset="0.87" stop-color="#000081" stop-opacity="0"/><stop offset="0.9" stop-color="#000080" stop-opacity="0"/><stop offset="1" stop-color="#000080" stop-opacity="0"/></linearGradient>
<linearGradient id="g44" gradientUnits="userSpaceOnUse" x1="248.1" x2="362.6" y1="0" y2="0"><stop offset="-0" stop-color="#00009e" stop-opacity="0.52"/><stop offset="0" stop-color="#00009e" stop-opacity="0.51"/><stop offset="0.21" stop-color="#00009e" stop-opacity="0.51"/><stop offset="0.23" stop-color="#0000a1" stop-opacity="0.58"/><stop offset="0.26" stop-color="#0000a5" stop-opacity="0.65"/><stop offset="0.28" stop-color="#0000a7" stop-opacity="0.69"/><stop offset="0.31" stop-color="#0000a9" stop-opacity="0.73"/><stop offset="0.33" stop-color="#0000ab" stop-opacity="0.77"/><stop offset="0.36" stop-color="#0000ad" stop-opacity="0.81"/><stop offset="0.39" stop-color="#0000ae" stop-opacity="0.83"/><stop offset="0.44" stop-color="#0000ae" stop-opacity="0.83"/><stop offset="0.46" stop-color="#0000ad" stop-opacity="0.81"/><stop offset="0.49" stop-color="#0000ac" stop-opacity="0.79"/><stop offset="0.49" stop-color="#0000ac" stop-opacity="0.79"/><stop offset="0.52" stop-color="#0000a8" stop-opacity="0.72"/><stop offset="0.55" stop-color="#0000a5" stop-opacity="0.65"/><stop offset="0.57" stop-color="#0000a1" stop-opacity="0.57"/><stop offset="0.59" stop-color="#00009d" stop-opacity="0.49"/><stop offset="0.62" stop-color="#000097" stop-opacity="0.38"/><stop offset="0.64" stop-color="#000091" stop-opacity="0.27"/><stop offset="0.67" stop-color="#00008d" stop-opacity="0.18"/><stop offset="0.68" stop-color="#00008c" stop-opacity="0.16"/><stop offset="0.7" stop-color="#000089" stop-opacity="0.11"/><stop offset="0.72" stop-color="#000086" stop-opacity="0.05"/><stop offset="0.74" stop-color="#000084" stop-opacity="0.01"/><stop offset="0.77" stop-color="#000082" stop-opacity="0"/><stop offset="0.79" stop-color="#000082" stop-opacity="0"/><stop offset="0.82" stop-color="#000081" stop-opacity="0"/><stop offset="0.9" stop-color="#000081" stop-opacity="0"/><stop offset="0.92" stop-color="#000080" stop-opacity="0"/><stop offset="1" stop-color="#000080" stop-opacity="0"/></linearGradient>
<linearGradient id="g45" gradientUnits="userSpaceOnUse" x1="248.1" x2="362.6" y1="0" y2="0"><stop offset="-0" stop-color="#0000b2" stop-opacity="0.92"/><stop offset="0.1" stop-color="#0000b2" stop-opacity="0.92"/><stop offset="0.13" stop-color="#0000b2" stop-opacity="0.91"/><stop offset="0.21" stop-color="#0000b2" stop-opacity="0.91"/><stop offset="0.23" stop-color="#0000b4" stop-opacity="0.96"/><stop offset="0.26" stop-color="#0000b7" stop-opacity="1"/><stop offset="0.28" stop-color="#0000b8" stop-opacity="1"/><stop offset="0.31" stop-color="#0000b8" stop-opacity="1"/><stop offset="0.33" stop-color="#0000b9" stop-opacity="1"/><stop offset="0.36" stop-color="#0000b9" stop-opacity="1"/><stop offset="0.39" stop-color="#0000ba" stop-opacity="1"/><stop offset="0.42" stop-color="#0000bc" stop-opacity="1"/><stop offset="0.46" stop-color="#0000bc" stop-opacity="1"/><stop offset="0.49" stop-color="#0000bb" stop-opacity="1"/><stop offset="0.49" stop-color="#0000bb" stop-opacity="1"/><stop offset="0.52" stop-color="#0000b7" stop-opacity="1"/><stop offset="0.55" stop-color="#0000b2" stop-opacity="0.91"/><stop offset="0.57" stop-color="#0000ad" stop-opacity="0.8"/><stop offset="0.59" stop-color="#0000a7" stop-opacity="0.69"/><stop offset="0.62" stop-color="#00009f" stop-opacity="0.54"/><stop offset="0.64" stop-color="#000097" stop-opacity="0.38"/><stop offset="0.67" stop-color="#000091" stop-opacity="0.26"/><stop offset="0.68" stop-color="#000090" stop-opacity="0.24"/><stop offset="0.7" stop-color="#00008c" stop-opacity="0.17"/><stop offset="0.72" stop-color="#000088" stop-opacity="0.09"/><stop offset="0.74" stop-color="#000086" stop-opacity="0.04"/><stop offset="0.77" stop-color="#000083" stop-opacity="0"/><stop offset="0.79" stop-color="#000082" stop-opacity="0"/><stop offset="0.85" stop-color="#000082" stop-opacity="0"/><stop offset="0.87" stop-color="#000081" stop-opacity="0"/><stop offset="0.92" stop-color="#000081" stop-opacity="0"/><stop offset="0.95" stop-color="#000080" stop-opacity="0"/><stop offset="1" stop-color="#000080" stop-opacity="0"/></linearGradient>
<linearGradient id="g46" gradientUnits="userSpaceOnUse" x1="248.1" x2="362.6" y1="0" y2="0"><stop offset="-0" stop-color="#0000c2" stop-opacity="1"/><stop offset="0.03" stop-color="#0000c2" stop-opacity="1"/><stop offset="0.05" stop-color="#0000c1" stop-opacity="1"/><stop offset="0.21" stop-color="#0000c1" stop-opacity="1"/><stop offset="0.23" stop-color="#0000c5" stop-opacity="1"/><stop offset="0.26" stop-color="#0000c9" stop-opacity="1"/><stop offset="0.28" stop-color="#0000cb" stop-opacity="1"/><stop offset="0.31" stop-color="#0000cd" stop-opacity="1"/><stop offset="0.33" stop-color="#0000cf" stop-opacity="1"/><stop offset="0.36" stop-color="#0000d0" stop-opacity="1"/><stop offset="0.39" stop-color="#0000d1" stop-opacity="1"/><stop offset="0.42" stop-color="#0000d2" stop-opacity="1"/><stop offset="0.44" stop-color="#0000d3" stop-opacity="1"/><stop offset="0.46" stop-color="#0000d3" stop-opacity="1"/><stop offset="0.49" stop-color="#0000d2" stop-opacity="1"/><stop offset="0.49" stop-color="#0000d2" stop-opacity="1"/><stop offset="0.52" stop-color="#0000cc" stop-opacity="1"/><stop offset="0.55" stop-color="#0000c5" stop-opacity="1"/><stop offset="0.57" stop-color="#0000be" stop-opacity="1"/><stop offset="0.59" stop-color="#0000b6" stop-opacity="0.99"/><stop offset="0.62" stop-color="#0000ab" stop-opacity="0.78"/><stop offset="0.64" stop-color="#0000a0" stop-opacity="0.56"/><stop offset="0.67" stop-color="#000098" stop-opacity="0.39"/><stop offset="0.68" stop-color="#000096" stop-opacity="0.36"/><stop offset="0.7" stop-color="#000091" stop-opacity="0.26"/><stop offset="0.72" stop-color="#00008c" stop-opacity="0.16"/><stop offset="0.74" stop-color="#000088" stop-opacity="0.08"/><stop offset="0.77" stop-color="#000084" stop-opacity="0.01"/><stop offset="0.79" stop-color="#000084" stop-opacity="0"/><stop offset="0.82" stop-color="#000083" stop-opacity="0"/><stop offset="0.85" stop-color="#000083" stop-opacity="0"/><stop offset="0.87" stop-color="#000082" stop-opacity="0"/><stop offset="0.9" stop-color="#000082" stop-opacity="0"/><stop offset="0.92" stop-color="#000081" stop-opacity="0"/><stop offset="0.95" stop-color="#000081" stop-opacity="0"/><stop offset="0.97" stop-color="#000080" stop-opacity="0"/><stop offset="1" stop-color="#000080" stop-opacity="0"/></linearGradient>
<linearGradient id="g47" gradientUnits="userSpaceOnUse" x1="248.1" x2="362.6" y1="0" y2="0"><stop offset="-0" stop-color="#0000e1" stop-opacity="1"/><stop offset="0.13" stop-color="#0000e1" stop-opacity="1"/><stop offset="0.16" stop-color="#0000e0" stop-opacity="1"/><stop offset="0.21" stop-color="#0000e0" stop-opacity="1"/><stop offset="0.23" stop-color="#0000e6" stop-opacity="1"/><stop offset="0.26" stop-color="#0000ec" stop-opacity="1"/><stop offset="0.28" stop-color="#0000ee" stop-opacity="1"/><stop offset="0.31" stop-color="#0000f1" stop-opacity="1"/><stop offset="0.33" stop-color="#0000f3" stop-opacity="1"/><stop offset="0.36" stop-color="#0000f4" stop-opacity="1"/><stop offset="0.39" stop-color="#0000f5" stop-opacity="1"/><stop offset="0.42" stop-color="#0000f5" stop-opacity="1"/><stop offset="0.44" stop-color="#0000f3" stop-opacity="1"/><stop offset="0.46" stop-color="#0000f3" stop-opacity="1"/><stop offset="0.49" stop-color="#0000f2" stop-opacity="1"/><stop offset="0.49" stop-color="#0000f1" stop-opacity="1"/><stop offset="0.52" stop-color="#0000e9" stop-opacity="1"/><stop offset="0.55" stop-color="#0000e0" stop-opacity="1"/><stop offset="0.57" stop-color="#0000d5" stop-opacity="1"/><stop offset="0.59" stop-color="#0000cb" stop-opacity="1"/><stop offset="0.62" stop-color="#0000bc" stop-opacity="1"/><stop offset="0.64" stop-color="#0000ac" stop-opacity="0.8"/><stop offset="0.67" stop-color="#0000a0" stop-opacity="0.57"/><stop offset="0.68" stop-color="#00009f" stop-opacity="0.53"/><stop offset="0.7" stop-color="#000097" stop-opacity="0.39"/><stop offset="0.72" stop-color="#000090" stop-opacity="0.25"/><stop offset="0.74" stop-color="#00008b" stop-opacity="0.14"/><stop offset="0.77" stop-color="#000086" stop-opacity="0.04"/><stop offset="0.79" stop-color="#000085" stop-opacity="0.03"/><stop offset="0.82" stop-color="#000084" stop-opacity="0.01"/><stop offset="0.85" stop-color="#000084" stop-opacity="0"/><stop offset="0.87" stop-color="#000083" stop-opacity="0"/><stop offset="0.9" stop-color="#000082" stop-opacity="0"/><stop offset="0.92" stop-color="#000082" stop-opacity="0"/><stop offset="0.95" stop-color="#000081" stop-opacity="0"/><stop offset="0.97" stop-color="#000080" stop-opacity="0"/><stop offset="1" stop-color="#000080" stop-opacity="0"/></linearGradient>
<linearGradient id="g48" gradientUnits="userSpaceOnUse" x1="248.1" x2="362.6" y1="0" y2="0"><stop offset="-0" stop-color="#0015ff" stop-opacity="1"/><stop offset="0.03" stop-color="#0015ff" stop-opacity="1"/><stop offset="0.05" stop-color="#0014ff" stop-opacity="1"/><stop offset="0.21" stop-color="#0014ff" stop-opacity="1"/><stop offset="0.23" stop-color="#001bff" stop-opacity="1"/><stop offset="0.26" stop-color="#0022ff" stop-opacity="1"/><stop offset="0.28" stop-color="#0025ff" stop-opacity="1"/><stop offset="0.31" stop-color="#0027ff" stop-opacity="1"/><stop offset="0.33" stop-color="#0029ff" stop-opacity="1"/><stop offset="0.36" stop-color="#002bff" stop-opacity="1"/><stop offset="0.39" stop-color="#002cff" stop-opacity="1"/><stop offset="0.42" stop-color="#002dff" stop-opacity="1"/><stop offset="0.44" stop-color="#002aff" stop-opacity="1"/><stop offset="0.46" stop-color="#0027ff" stop-opacity="1"/><stop offset="0.49" stop-color="#0024ff" stop-opacity="1"/><stop offset="0.49" stop-color="#0023ff" stop-opacity="1"/><stop offset="0.52" stop-color="#0016ff" stop-opacity="1"/><stop offset="0.55" stop-color="#0009ff" stop-opacity="1"/><stop offset="0.57" stop-color="#0000fa" stop-opacity="1"/><stop offset="0.59" stop-color="#0000eb" stop-opacity="1"/><stop offset="0.62" stop-color="#0000d6" stop-opacity="1"/><stop offset="0.64" stop-color="#0000c0" stop-opacity="1"/><stop offset="0.67" stop-color="#0000af" stop-opacity="0.85"/><stop offset="0.68" stop-color="#0000ac" stop-opacity="0.8"/><stop offset="0.7" stop-color="#0000a2" stop-opacity="0.59"/><stop offset="0.72" stop-color="#000097" stop-opacity="0.39"/><stop offset="0.74" stop-color="#000090" stop-opacity="0.24"/><stop offset="0.77" stop-color="#000088" stop-opacity="0.1"/><stop offset="0.79" stop-color="#000087" stop-opacity="0.08"/><stop offset="0.82" stop-color="#000086" stop-opacity="0.06"/><stop offset="0.85" stop-color="#000085" stop-opacity="0.04"/><stop offset="0.87" stop-color="#000084" stop-opacity="0.02"/><stop offset="0.9" stop-color="#000083" stop-opacity="0"/><stop offset="0.92" stop-color="#000082" stop-opacity="0"/><stop offset="0.95" stop-color="#000081" stop-opacity="0"/><stop offset="0.97" stop-color="#000080" stop-opacity="0"/><stop offset="1" stop-color="#000080" stop-opacity="0"/></linearGradient>
<linearGradient id="g49" gradientUnits="userSpaceOnUse" x1="248.1" x2="362.6" y1="0" y2="0"><stop offset="-0" stop-color="#006bff" stop-opacity="1"/><stop offset="0.13" stop-color="#006bff" stop-opacity="1"/><stop offset="0.16" stop-color="#006aff" stop-opacity="1"/><stop offset="0.21" stop-color="#006aff" stop-opacity="1"/><stop offset="0.23" stop-color="#0075ff" stop-opacity="1"/><stop offset="0.26" stop-color="#0080ff" stop-opacity="1"/><stop offset="0.28" stop-color="#0084ff" stop-opacity="1"/><stop offset="0.31" stop-color="#0088ff" stop-opacity="1"/><stop offset="0.33" stop-color="#008bff" stop-opacity="1"/><stop offset="0.36" stop-color="#008cff" stop-opacity="1"/><stop offset="0.39" stop-color="#008cff" stop-opacity="1"/><stop offset="0.42" stop-color="#008dff" stop-opacity="1"/><stop offset="0.44" stop-color="#0089ff" stop-opacity="1"/><stop offset="0.46" stop-color="#0084ff" stop-opacity="1"/><stop offset="0.49" stop-color="#007eff" stop-opacity="1"/><stop offset="0.49" stop-color="#007dff" stop-opacity="1"/><stop offset="0.52" stop-color="#0069ff" stop-opacity="1"/><stop offset="0.55" stop-color="#0054ff" stop-opacity="1"/><stop offset="0.57" stop-color="#003cff" stop-opacity="1"/><stop offset="0.59" stop-color="#0024ff" stop-opacity="1"/><stop offset="0.62" stop-color="#0003ff" stop-opacity="1"/><stop offset="0.64" stop-color="#0000e0" stop-opacity="1"/><stop offset="0.67" stop-color="#0000c6" stop-opacity="1"/><stop offset="0.68" stop-color="#0000c2" stop-opacity="1"/><stop offset="0.7" stop-color="#0000b3" stop-opacity="0.93"/><stop offset="0.72" stop-color="#0000a3" stop-opacity="0.62"/><stop offset="0.74" stop-color="#000098" stop-opacity="0.4"/><stop offset="0.77" stop-color="#00008d" stop-opacity="0.18"/><stop offset="0.79" stop-color="#00008b" stop-opacity="0.15"/><stop offset="0.82" stop-color="#00008a" stop-opacity="0.12"/><stop offset="0.85" stop-color="#000088" stop-opacity="0.09"/><stop offset="0.87" stop-color="#000087" stop-opacity="0.07"/><stop offset="0.9" stop-color="#000085" stop-opacity="0.04"/><stop offset="0.92" stop-color="#000084" stop-opacity="0.01"/><stop offset="0.95" stop-color="#000082" stop-opacity="0"/><stop offset="0.97" stop-color="#000081" stop-opacity="0"/><stop offset="1" stop-color="#000080" stop-opacity="0"/></linearGradient>
<linearGradient id="g50" gradientUnits="userSpaceOnUse" x1="248.1" x2="362.6" y1="0" y2="0"><stop offset="-0" stop-color="#19ffe6" stop-opacity="1"/><stop offset="0.08" stop-color="#19ffe6" stop-opacity="1"/><stop offset="0.1" stop-color="#18ffe7" stop-opacity="1"/><stop offset="0.21" stop-color="#18ffe7" stop-opacity="1"/><stop offset="0.23" stop-color="#23ffdc" stop-opacity="1"/><stop offset="0.26" stop-color="#2effd1" stop-opacity="1"/><stop offset="0.28" stop-color="#30ffcf" stop-opacity="1"/><stop offset="0.33" stop-color="#30ffcf" stop-opacity="1"/><stop offset="0.36" stop-color="#2cffd3" stop-opacity="1"/><stop offset="0.39" stop-color="#26ffd9" stop-opacity="1"/><stop offset="0.42" stop-color="#1effe1" stop-opacity="1"/><stop offset="0.44" stop-color="#12ffed" stop-opacity="1"/><stop offset="0.46" stop-color="#06fff9" stop-opacity="1"/><stop offset="0.49" stop-color="#00f8ff" stop-opacity="1"/><stop offset="0.49" stop-color="#00f6ff" stop-opacity="1"/><stop offset="0.52" stop-color="#00d6ff" stop-opacity="1"/><stop offset="0.55" stop-color="#00b5ff" stop-opacity="1"/><stop offset="0.57" stop-color="#0092ff" stop-opacity="1"/><stop offset="0.59" stop-color="#006eff" stop-opacity="1"/><stop offset="0.62" stop-color="#003dff" stop-opacity="1"/><stop offset="0.64" stop-color="#000cff" stop-opacity="1"/><stop offset="0.67" stop-color="#0000e5" stop-opacity="1"/><stop offset="0.68" stop-color="#0000df" stop-opacity="1"/><stop offset="0.7" stop-color="#0000c9" stop-opacity="1"/><stop offset="0.72" stop-color="#0000b3" stop-opacity="0.92"/><stop offset="0.74" stop-color="#0000a3" stop-opacity="0.61"/><stop offset="0.77" stop-color="#000093" stop-opacity="0.3"/><stop offset="0.79" stop-color="#000091" stop-opacity="0.25"/><stop offset="0.82" stop-color="#00008e" stop-opacity="0.21"/><stop offset="0.85" stop-color="#00008c" stop-opacity="0.17"/><stop offset="0.87" stop-color="#00008a" stop-opacity="0.13"/><stop offset="0.9" stop-color="#000088" stop-opacity="0.09"/><stop offset="0.92" stop-color="#000086" stop-opacity="0.05"/><stop offset="0.95" stop-color="#000084" stop-opacity="0"/><stop offset="0.97" stop-color="#000082" stop-opacity="0"/><stop offset="1" stop-color="#000080" stop-opacity="0"/></linearGradient>
<linearGradient id="g51" gradientUnits="userSpaceOnUse" x1="248.1" x2="362.6" y1="0" y2="0"><stop offset="-0" stop-color="#fff500" stop-opacity="1"/><stop offset="0" stop-color="#fff500" stop-opacity="1"/><stop offset="0.03" stop-color="#fff600" stop-opacity="1"/><stop offset="0.05" stop-color="#fff600" stop-opacity="1"/><stop offset="0.08" stop-color="#fff700" stop-opacity="1"/><stop offset="0.13" stop-color="#fff700" stop-opacity="1"/><stop offset="0.16" stop-color="#fff800" stop-opacity="1"/><stop offset="0.21" stop-color="#fff800" stop-opacity="1"/><stop offset="0.23" stop-color="#fff100" stop-opacity="1"/><stop offset="0.26" stop-color="#ffe900" stop-opacity="1"/><stop offset="0.28" stop-color="#ffef00" stop-opacity="1"/><stop offset="0.31" stop-color="#fff600" stop-opacity="1"/><stop offset="0.33" stop-color="#fffd00" stop-opacity="1"/><stop offset="0.36" stop-color="#f0ff0f" stop-opacity="1"/><stop offset="0.39" stop-color="#ddff22" stop-opacity="1"/><stop offset="0.42" stop-color="#caff35" stop-opacity="1"/><stop offset="0.44" stop-color="#b4ff4b" stop-opacity="1"/><stop offset="0.46" stop-color="#9dff62" stop-opacity="1"/><stop offset="0.49" stop-color="#86ff79" stop-opacity="1"/><stop offset="0.49" stop-color="#84ff7b" stop-opacity="1"/><stop offset="0.52" stop-color="#55ffaa" stop-opacity="1"/><stop offset="0.55" stop-color="#26ffd9" stop-opacity="1"/><stop offset="0.57" stop-color="#00f3ff" stop-opacity="1"/><stop offset="0.59" stop-color="#00c2ff" stop-opacity="1"/><stop offset="0.62" stop-color="#007fff" stop-opacity="1"/><stop offset="0.64" stop-color="#003cff" stop-opacity="1"/><stop offset="0.67" stop-color="#0008ff" stop-opacity="1"/><stop offset="0.68" stop-color="#0001ff" stop-opacity="1"/><stop offset="0.7" stop-color="#0000e2" stop-opacity="1"/><stop offset="0.72" stop-color="#0000c4" stop-opacity="1"/><stop offset="0.74" stop-color="#0000ae" stop-opacity="0.84"/><stop offset="0.77" stop-color="#000099" stop-opacity="0.42"/><stop offset="0.79" stop-color="#000096" stop-opacity="0.37"/><stop offset="0.82" stop-color="#000093" stop-opacity="0.31"/><stop offset="0.85" stop-color="#000091" stop-opacity="0.26"/><stop offset="0.87" stop-color="#00008e" stop-opacity="0.2"/><stop offset="0.9" stop-color="#00008b" stop-opacity="0.14"/><stop offset="0.92" stop-color="#000088" stop-opacity="0.09"/><stop offset="0.95" stop-color="#000085" stop-opacity="0.03"/><stop offset="0.97" stop-color="#000082" stop-opacity="0"/><stop offset="1" stop-color="#000080" stop-opacity="0"/></linearGradient>
<linearGradient id="g52" gradientUnits="userSpaceOnUse" x1="248.1" x2="362.6" y1="0" y2="0"><stop offset="-0" stop-color="#ff0000" stop-opacity="1"/><stop offset="0" stop-color="#ff0000" stop-opacity="1"/><stop offset="0.03" stop-color="#ff0100" stop-opacity="1"/><stop offset="0.05" stop-color="#ff0100" stop-opacity="1"/><stop offset="0.08" stop-color="#ff0200" stop-opacity="1"/><stop offset="0.1" stop-color="#ff0200" stop-opacity="1"/><stop offset="0.13" stop-color="#ff0300" stop-opacity="1"/><stop offset="0.16" stop-color="#ff0300" stop-opacity="1"/><stop offset="0.18" stop-color="#ff0400" stop-opacity="1"/><stop offset="0.21" stop-color="#ff0400" stop-opacity="1"/><stop offset="0.23" stop-color="#ff0500" stop-opacity="1"/><stop offset="0.26" stop-color="#ff0500" stop-opacity="1"/><stop offset="0.28" stop-color="#ff1600" stop-opacity="1"/><stop offset="0.31" stop-color="#ff2700" stop-opacity="1"/><stop offset="0.33" stop-color="#ff3800" stop-opacity="1"/><stop offset="0.36" stop-color="#ff5a00" stop-opacity="1"/><stop offset="0.39" stop-color="#ff7c00" stop-opacity="1"/><stop offset="0.42" stop-color="#ff9e00" stop-opacity="1"/><stop offset="0.44" stop-color="#ffc000" stop-opacity="1"/><stop offset="0.46" stop-color="#ffe200" stop-opacity="1"/><stop offset="0.49" stop-color="#faff05" stop-opacity="1"/><stop offset="0.49" stop-color="#f6ff09" stop-opacity="1"/><stop offset="0.52" stop-color="#bbff44" stop-opacity="1"/><stop offset="0.55" stop-color="#80ff80" stop-opacity="1"/><stop offset="0.57" stop-color="#42ffbd" stop-opacity="1"/><stop offset="0.59" stop-color="#05fffa" stop-opacity="1"/><stop offset="0.62" stop-color="#00b2ff" stop-opacity="1"/><stop offset="0.64" stop-color="#0061ff" stop-opacity="1"/><stop offset="0.67" stop-color="#0023ff" stop-opacity="1"/><stop offset="0.68" stop-color="#0019ff" stop-opacity="1"/><stop offset="0.7" stop-color="#0000f5" stop-opacity="1"/><stop offset="0.72" stop-color="#0000d1" stop-opacity="1"/><stop offset="0.74" stop-color="#0000b8" stop-opacity="1"/><stop offset="0.77" stop-color="#00009e" stop-opacity="0.52"/><stop offset="0.79" stop-color="#00009b" stop-opacity="0.45"/><stop offset="0.82" stop-color="#000097" stop-opacity="0.39"/><stop offset="0.85" stop-color="#000094" stop-opacity="0.32"/><stop offset="0.87" stop-color="#000090" stop-opacity="0.25"/><stop offset="0.9" stop-color="#00008d" stop-opacity="0.19"/><stop offset="0.92" stop-color="#00008a" stop-opacity="0.12"/><stop offset="0.95" stop-color="#000086" stop-opacity="0.05"/><stop offset="0.97" stop-color="#000083" stop-opacity="0"/><stop offset="1" stop-color="#000080" stop-opacity="0"/></linearGradient>
<linearGradient id="g53" gradientUnits="userSpaceOnUse" x1="248.1" x2="362.6" y1="0" y2="0"><stop offset="-0" stop-color="#ff0000" stop-opacity="1"/><stop offset="0" stop-color="#ff0000" stop-opacity="1"/><stop offset="0.03" stop-color="#ff0100" stop-opacity="1"/><stop offset="0.05" stop-color="#ff0100" stop-opacity="1"/><stop offset="0.08" stop-color="#ff0200" stop-opacity="1"/><stop offset="0.1" stop-color="#ff0200" stop-opacity="1"/><stop offset="0.13" stop-color="#ff0300" stop-opacity="1"/><stop offset="0.16" stop-color="#ff0300" stop-opacity="1"/><stop offset="0.18" stop-color="#ff0400" stop-opacity="1"/><stop offset="0.21" stop-color="#ff0400" stop-opacity="1"/><stop offset="0.23" stop-color="#ff0500" stop-opacity="1"/><stop offset="0.26" stop-color="#ff0500" stop-opacity="1"/><stop offset="0.28" stop-color="#ff1600" stop-opacity="1"/><stop offset="0.31" stop-color="#ff2700" stop-opacity="1"/><stop offset="0.33" stop-color="#ff3800" stop-opacity="1"/><stop offset="0.36" stop-color="#ff5a00" stop-opacity="1"/><stop offset="0.39" stop-color="#ff7c00" stop-opacity="1"/><stop offset="0.42" stop-color="#ff9e00" stop-opacity="1"/><stop offset="0.44" stop-color="#ffc000" stop-opacity="1"/><stop offset="0.46" stop-color="#ffe200" stop-opacity="1"/><stop offset="0.49" stop-color="#faff05" stop-opacity="1"/><stop offset="0.49" stop-color="#f6ff09" stop-opacity="1"/><stop offset="0.52" stop-color="#bbff44" stop-opacity="1"/><stop offset="0.55" stop-color="#80ff80" stop-opacity="1"/><stop offset="0.57" stop-color="#42ffbd" stop-opacity="1"/><stop offset="0.59" stop-color="#05fffa" stop-opacity="1"/><stop offset="0.62" stop-color="#00b2ff" stop-opacity="1"/><stop offset="0.64" stop-color="#0061ff" stop-opacity="1"/><stop offset="0.67" stop-color="#0023ff" stop-opacity="1"/><stop offset="0.68" stop-color="#0019ff" stop-opacity="1"/><stop offset="0.7" stop-color="#0000f5" stop-opacity="1"/><stop offset="0.72" stop-color="#0000d1" stop-opacity="1"/><stop offset="0.74" stop-color="#0000b8" stop-opacity="1"/><stop offset="0.77" stop-color="#00009e" stop-opacity="0.52"/><stop offset="0.79" stop-color="#00009b" stop-opacity="0.45"/><stop offset="0.82" stop-color="#000097" stop-opacity="0.39"/><stop offset="0.85" stop-color="#000094" stop-opacity="0.32"/><stop offset="0.87" stop-color="#000090" stop-opacity="0.25"/><stop offset="0.9" stop-color="#00008d" stop-opacity="0.19"/><stop offset="0.92" stop-color="#00008a" stop-opacity="0.12"/><stop offset="0.95" stop-color="#000086" stop-opacity="0.05"/><stop offset="0.97" stop-color="#000083" stop-opacity="0"/><stop offset="1" stop-color="#000080" stop-opacity="0"/></linearGradient>
<linearGradient id="g54" gradientUnits="userSpaceOnUse" x1="248.1" x2="362.6" y1="0" y2="0"><stop offset="-0" stop-color="#fff500" stop-opacity="1"/><stop offset="0" stop-color="#fff500" stop-opacity="1"/><stop offset="0.03" stop-color="#fff600" stop-opacity="1"/><stop offset="0.05" stop-color="#fff600" stop-opacity="1"/><stop offset="0.08" stop-color="#fff700" stop-opacity="1"/><stop offset="0.13" stop-color="#fff700" stop-opacity="1"/><stop offset="0.16" stop-color="#fff800" stop-opacity="1"/><stop offset="0.21" stop-color="#fff800" stop-opacity="1"/><stop offset="0.23" stop-color="#fff100" stop-opacity="1"/><stop offset="0.26" stop-color="#ffe900" stop-opacity="1"/><stop offset="0.28" stop-color="#ffef00" stop-opacity="1"/><stop offset="0.31" stop-color="#fff600" stop-opacity="1"/><stop offset="0.33" stop-color="#fffd00" stop-opacity="1"/><stop offset="0.36" stop-color="#f0ff0f" stop-opacity="1"/><stop offset="0.39" stop-color="#ddff22" stop-opacity="1"/><stop offset="0.42" stop-color="#caff35" stop-opacity="1"/><stop offset="0.44" stop-color="#b4ff4b" stop-opacity="1"/><stop offset="0.46" stop-color="#9dff62" stop-opacity="1"/><stop offset="0.49" stop-color="#86ff79" stop-opacity="1"/><stop offset="0.49" stop-color="#84ff7b" stop-opacity="1"/><stop offset="0.52" stop-color="#55ffaa" stop-opacity="1"/><stop offset="0.55" stop-color="#26ffd9" stop-opacity="1"/><stop offset="0.57" stop-color="#00f3ff" stop-opacity="1"/><stop offset="0.59" stop-color="#00c2ff" stop-opacity="1"/><stop offset="0.62" stop-color="#007fff" stop-opacity="1"/><stop offset="0.64" stop-color="#003cff" stop-opacity="1"/><stop offset="0.67" stop-color="#0008ff" stop-opacity="1"/><stop offset="0.68" stop-color="#0001ff" stop-opacity="1"/><stop offset="0.7" stop-color="#0000e2" stop-opacity="1"/><stop offset="0.72" stop-color="#0000c4" stop-opacity="1"/><stop offset="0.74" stop-color="#0000ae" stop-opacity="0.84"/><stop offset="0.77" stop-color="#000099" stop-opacity="0.42"/><stop offset="0.79" stop-color="#000096" stop-opacity="0.37"/><stop offset="0.82" stop-color="#000093" stop-opacity="0.31"/><stop offset="0.85" stop-color="#000091" stop-opacity="0.26"/><stop offset="0.87" stop-color="#00008e" stop-opacity="0.2"/><stop offset="0.9" stop-color="#00008b" stop-opacity="0.14"/><stop offset="0.92" stop-color="#000088" stop-opacity="0.09"/><stop offset="0.95" stop-color="#000085" stop-opacity="0.03"/><stop offset="0.97" stop-color="#000082" stop-opacity="0"/><stop offset="1" stop-color="#000080" stop-opacity="0"/></linearGradient>
<linearGradient id="g55" gradientUnits="userSpaceOnUse" x1="248.1" x2="362.6" y1="0" y2="0"><stop offset="-0" stop-color="#19ffe6" stop-opacity="1"/><stop offset="0.08" stop-color="#19ffe6" stop-opacity="1"/><stop offset="0.1" stop-color="#18ffe7" stop-opacity="1"/><stop offset="0.21" stop-color="#18ffe7" stop-opacity="1"/><stop offset="0.23" stop-color="#23ffdc" stop-opacity="1"/><stop offset="0.26" stop-color="#2effd1" stop-opacity="1"/><stop offset="0.28" stop-color="#30ffcf" stop-opacity="1"/><stop offset="0.33" stop-color="#30ffcf" stop-opacity="1"/><stop offset="0.36" stop-color="#2cffd3" stop-opacity="1"/><stop offset="0.39" stop-color="#26ffd9" stop-opacity="1"/><stop offset="0.42" stop-color="#1effe1" stop-opacity="1"/><stop offset="0.44" stop-color="#12ffed" stop-opacity="1"/><stop offset="0.46" stop-color="#06fff9" stop-opacity="1"/><stop offset="0.49" stop-color="#00f8ff" stop-opacity="1"/><stop offset="0.49" stop-color="#00f6ff" stop-opacity="1"/><stop offset="0.52" stop-color="#00d6ff" stop-opacity="1"/><stop offset="0.55" stop-color="#00b5ff" stop-opacity="1"/><stop offset="0.57" stop-color="#0092ff" stop-opacity="1"/><stop offset="0.59" stop-color="#006eff" stop-opacity="1"/><stop offset="0.62" stop-color="#003dff" stop-opacity="1"/><stop offset="0.64" stop-color="#000cff" stop-opacity="1"/><stop offset="0.67" stop-color="#0000e5" stop-opacity="1"/><stop offset="0.68" stop-color="#0000df" stop-opacity="1"/><stop offset="0.7" stop-color="#0000c9" stop-opacity="1"/><stop offset="0.72" stop-color="#0000b3" stop-opacity="0.92"/><stop offset="0.74" stop-color="#0000a3" stop-opacity="0.61"/><stop offset="0.77" stop-color="#000093" stop-opacity="0.3"/><stop offset="0.79" stop-color="#000091" stop-opacity="0.25"/><stop offset="0.82" stop-color="#00008e" stop-opacity="0.21"/><stop offset="0.85" stop-color="#00008c" stop-opacity="0.17"/><stop offset="0.87" stop-color="#00008a" stop-opacity="0.13"/><stop offset="0.9" stop-color="#000088" stop-opacity="0.09"/><stop offset="0.92" stop-color="#000086" stop-opacity="0.05"/><stop offset="0.95" stop-color="#000084" stop-opacity="0"/><stop offset="0.97" stop-color="#000082" stop-opacity="0"/><stop offset="1" stop-color="#000080" stop-opacity="0"/></linearGradient>
<linearGradient id="g56" gradientUnits="userSpaceOnUse" x1="248.1" x2="362.6" y1="0" y2="0"><stop offset="-0" stop-color="#006bff" stop-opacity="1"/><stop offset="0.13" stop-color="#006bff" stop-opacity="1"/><stop offset="0.16" stop-color="#006aff" stop-opacity="1"/><stop offset="0.21" stop-color="#006aff" stop-opacity="1"/><stop offset="0.23" stop-color="#0075ff" stop-opacity="1"/><stop offset="0.26" stop-color="#0080ff" stop-opacity="1"/><stop offset="0.28" stop-color="#0084ff" stop-opacity="1"/><stop offset="0.31" stop-color="#0088ff" stop-opacity="1"/><stop offset="0.33" stop-color="#008bff" stop-opacity="1"/><stop offset="0.36" stop-color="#008cff" stop-opacity="1"/><stop offset="0.39" stop-color="#008cff" stop-opacity="1"/><stop offset="0.42" stop-color="#008dff" stop-opacity="1"/><stop offset="0.44" stop-color="#0089ff" stop-opacity="1"/><stop offset="0.46" stop-color="#0084ff" stop-opacity="1"/><stop offset="0.49" stop-color="#007eff" stop-opacity="1"/><stop offset="0.49" stop-color="#007dff" stop-opacity="1"/><stop offset="0.52" stop-color="#0069ff" stop-opacity="1"/><stop offset="0.55" stop-color="#0054ff" stop-opacity="1"/><stop offset="0.57" stop-color="#003cff" stop-opacity="1"/><stop offset="0.59" stop-color="#0024ff" stop-opacity="1"/><stop offset="0.62" stop-color="#0003ff" stop-opacity="1"/><stop offset="0.64" stop-color="#0000e0" stop-opacity="1"/><stop offset="0.67" stop-color="#0000c6" stop-opacity="1"/><stop offset="0.68" stop-color="#0000c2" stop-opacity="1"/><stop offset="0.7" stop-color="#0000b3" stop-opacity="0.93"/><stop offset="0.72" stop-color="#0000a3" stop-opacity="0.62"/><stop offset="0.74" stop-color="#000098" stop-opacity="0.4"/><stop offset="0.77" stop-color="#00008d" stop-opacity="0.18"/><stop offset="0.79" stop-color="#00008b" stop-opacity="0.15"/><stop offset="0.82" stop-color="#00008a" stop-opacity="0.12"/><stop offset="0.85" stop-color="#000088" stop-opacity="0.09"/><stop offset="0.87" stop-color="#000087" stop-opacity="0.07"/><stop offset="0.9" stop-color="#000085" stop-opacity="0.04"/><stop offset="0.92" stop-color="#000084" stop-opacity="0.01"/><stop offset="0.95" stop-color="#000082" stop-opacity="0"/><stop offset="0.97" stop-color="#000081" stop-opacity="0"/><stop offset="1" stop-color="#000080" stop-opacity="0"/></linearGradient>
<linearGradient id="g57" gradientUnits="userSpaceOnUse" x1="248.1" x2="362.6" y1="0" y2="0"><stop offset="-0" stop-color="#0015ff" stop-opacity="1"/><stop offset="0.03" stop-color="#0015ff" stop-opacity="1"/><stop offset="0.05" stop-color="#0014ff" stop-opacity="1"/><stop offset="0.21" stop-color="#0014ff" stop-opacity="1"/><stop offset="0.23" stop-color="#001bff" stop-opacity="1"/><stop offset="0.26" stop-color="#0022ff" stop-opacity="1"/><stop offset="0.28" stop-color="#0025ff" stop-opacity="1"/><stop offset="0.31" stop-color="#0027ff" stop-opacity="1"/><stop offset="0.33" stop-color="#0029ff" stop-opacity="1"/><stop offset="0.36" stop-color="#002bff" stop-opacity="1"/><stop offset="0.39" stop-color="#002cff" stop-opacity="1"/><stop offset="0.42" stop-color="#002dff" stop-opacity="1"/><stop offset="0.44" stop-color="#002aff" stop-opacity="1"/><stop offset="0.46" stop-color="#0027ff" stop-opacity="1"/><stop offset="0.49" stop-color="#0024ff" stop-opacity="1"/><stop offset="0.49" stop-color="#0023ff" stop-opacity="1"/><stop offset="0.52" stop-color="#0016ff" stop-opacity="1"/><stop offset="0.55" stop-color="#0009ff" stop-opacity="1"/><stop offset="0.57" stop-color="#0000fa" stop-opacity="1"/><stop offset="0.59" stop-color="#0000eb" stop-opacity="1"/><stop offset="0.62" stop-color="#0000d6" stop-opacity="1"/><stop offset="0.64" stop-color="#0000c0" stop-opacity="1"/><stop offset="0.67" stop-color="#0000af" stop-opacity="0.85"/><stop offset="0.68" stop-color="#0000ac" stop-opacity="0.8"/><stop offset="0.7" stop-color="#0000a2" stop-opacity="0.59"/><stop offset="0.72" stop-color="#000097" stop-opacity="0.39"/><stop offset="0.74" stop-color="#000090" stop-opacity="0.24"/><stop offset="0.77" stop-color="#000088" stop-opacity="0.1"/><stop offset="0.79" stop-color="#000087" stop-opacity="0.08"/><stop offset="0.82" stop-color="#000086" stop-opacity="0.06"/><stop offset="0.85" stop-color="#000085" stop-opacity="0.04"/><stop offset="0.87" stop-color="#000084" stop-opacity="0.02"/><stop offset="0.9" stop-color="#000083" stop-opacity="0"/><stop offset="0.92" stop-color="#000082" stop-opacity="0"/><stop offset="0.95" stop-color="#000081" stop-opacity="0"/><stop offset="0.97" stop-color="#000080" stop-opacity="0"/><stop offset="1" stop-color="#000080" stop-opacity="0"/></linearGradient>
<linearGradient id="g58" gradientUnits="userSpaceOnUse" x1="248.1" x2="362.6" y1="0" y2="0"><stop offset="-0" stop-color="#0000e1" stop-opacity="1"/><stop offset="0.13" stop-color="#0000e1" stop-opacity="1"/><stop offset="0.16" stop-color="#0000e0" stop-opacity="1"/><stop offset="0.21" stop-color="#0000e0" stop-opacity="1"/><stop offset="0.23" stop-color="#0000e6" stop-opacity="1"/><stop offset="0.26" stop-color="#0000ec" stop-opacity="1"/><stop offset="0.28" stop-color="#0000ee" stop-opacity="1"/><stop offset="0.31" stop-color="#0000f1" stop-opacity="1"/><stop offset="0.33" stop-color="#0000f3" stop-opacity="1"/><stop offset="0.36" stop-color="#0000f4" stop-opacity="1"/><stop offset="0.39" stop-color="#0000f5" stop-opacity="1"/><stop offset="0.42" stop-color="#0000f5" stop-opacity="1"/><stop offset="0.44" stop-color="#0000f3" stop-opacity="1"/><stop offset="0.46" stop-color="#0000f3" stop-opacity="1"/><stop offset="0.49" stop-color="#0000f2" stop-opacity="1"/><stop offset="0.49" stop-color="#0000f1" stop-opacity="1"/><stop offset="0.52" stop-color="#0000e9" stop-opacity="1"/><stop offset="0.55" stop-color="#0000e0" stop-opacity="1"/><stop offset="0.57" stop-color="#0000d5" stop-opacity="1"/><stop offset="0.59" stop-color="#0000cb" stop-opacity="1"/><stop offset="0.62" stop-color="#0000bc" stop-opacity="1"/><stop offset="0.64" stop-color="#0000ac" stop-opacity="0.8"/><stop offset="0.67" stop-color="#0000a0" stop-opacity="0.57"/><stop offset="0.68" stop-color="#00009f" stop-opacity="0.53"/><stop offset="0.7" stop-color="#000097" stop-opacity="0.39"/><stop offset="0.72" stop-color="#000090" stop-opacity="0.25"/><stop offset="0.74" stop-color="#00008b" stop-opacity="0.14"/><stop offset="0.77" stop-color="#000086" stop-opacity="0.04"/><stop offset="0.79" stop-color="#000085" stop-opacity="0.03"/><stop offset="0.82" stop-color="#000084" stop-opacity="0.01"/><stop offset="0.85" stop-color="#000084" stop-opacity="0"/><stop offset="0.87" stop-color="#000083" stop-opacity="0"/><stop offset="0.9" stop-color="#000082" stop-opacity="0"/><stop offset="0.92" stop-color="#000082" stop-opacity="0"/><stop offset="0.95" stop-color="#000081" stop-opacity="0"/><stop offset="0.97" stop-color="#000080" stop-opacity="0"/><stop offset="1" stop-color="#000080" stop-opacity="0"/></linearGradient>
<linearGradient id="g59" gradientUnits="userSpaceOnUse" x1="248.1" x2="362.6" y1="0" y2="0"><stop offset="-0" stop-color="#0000c2" stop-opacity="1"/><stop offset="0.03" stop-color="#0000c2" stop-opacity="1"/><stop offset="0.05" stop-color="#0000c1" stop-opacity="1"/><stop offset="0.21" stop-color="#0000c1" stop-opacity="1"/><stop offset="0.23" stop-color="#0000c5" stop-opacity="1"/><stop offset="0.26" stop-color="#0000c9" stop-opacity="1"/><stop offset="0.28" stop-color="#0000cb" stop-opacity="1"/><stop offset="0.31" stop-color="#0000cd" stop-opacity="1"/><stop offset="0.33" stop-color="#0000cf" stop-opacity="1"/><stop offset="0.36" stop-color="#0000d0" stop-opacity="1"/><stop offset="0.39" stop-color="#0000d1" stop-opacity="1"/><stop offset="0.42" stop-color="#0000d2" stop-opacity="1"/><stop offset="0.44" stop-color="#0000d3" stop-opacity="1"/><stop offset="0.46" stop-color="#0000d3" stop-opacity="1"/><stop offset="0.49" stop-color="#0000d2" stop-opacity="1"/><stop offset="0.49" stop-color="#0000d2" stop-opacity="1"/><stop offset="0.52" stop-color="#0000cc" stop-opacity="1"/><stop offset="0.55" stop-color="#0000c5" stop-opacity="1"/><stop offset="0.57" stop-color="#0000be" stop-opacity="1"/><stop offset="0.59" stop-color="#0000b6" stop-opacity="0.99"/><stop offset="0.62" stop-color="#0000ab" stop-opacity="0.78"/><stop offset="0.64" stop-color="#0000a0" stop-opacity="0.56"/><stop offset="0.67" stop-color="#000098" stop-opacity="0.39"/><stop offset="0.68" stop-color="#000096" stop-opacity="0.36"/><stop offset="0.7" stop-color="#000091" stop-opacity="0.26"/><stop offset="0.72" stop-color="#00008c" stop-opacity="0.16"/><stop offset="0.74" stop-color="#000088" stop-opacity="0.08"/><stop offset="0.77" stop-color="#000084" stop-opacity="0.01"/><stop offset="0.79" stop-color="#000084" stop-opacity="0"/><stop offset="0.82" stop-color="#000083" stop-opacity="0"/><stop offset="0.85" stop-color="#000083" stop-opacity="0"/><stop offset="0.87" stop-color="#000082" stop-opacity="0"/><stop offset="0.9" stop-color="#000082" stop-opacity="0"/><stop offset="0.92" stop-color="#000081" stop-opacity="0"/><stop offset="0.95" stop-color="#000081" stop-opacity="0"/><stop offset="0.97" stop-color="#000080" stop-opacity="0"/><stop offset="1" stop-color="#000080" stop-opacity="0"/></linearGradient>
<linearGradient id="g60" gradientUnits="userSpaceOnUse" x1="248.1" x2="362.6" y1="0" y2="0"><stop offset="-0" stop-color="#0000b2" stop-opacity="0.92"/><stop offset="0.1" stop-color="#0000b2" stop-opacity="0.92"/><stop offset="0.13" stop-color="#0000b2" stop-opacity="0.91"/><stop offset="0.21" stop-color="#0000b2" stop-opacity="0.91"/><stop offset="0.23" stop-color="#0000b4" stop-opacity="0.96"/><stop offset="0.26" stop-color="#0000b7" stop-opacity="1"/><stop offset="0.28" stop-color="#0000b8" stop-opacity="1"/><stop offset="0.31" stop-color="#0000b8" stop-opacity="1"/><stop offset="0.33" stop-color="#0000b9" stop-opacity="1"/><stop offset="0.36" stop-color="#0000b9" stop-opacity="1"/><stop offset="0.39" stop-color="#0000ba" stop-opacity="1"/><stop offset="0.42" stop-color="#0000bc" stop-opacity="1"/><stop offset="0.46" stop-color="#0000bc" stop-opacity="1"/><stop offset="0.49" stop-color="#0000bb" stop-opacity="1"/><stop offset="0.49" stop-color="#0000bb" stop-opacity="1"/><stop offset="0.52" stop-color="#0000b7" stop-opacity="1"/><stop offset="0.55" stop-color="#0000b2" stop-opacity="0.91"/><stop offset="0.57" stop-color="#0000ad" stop-opacity="0.8"/><stop offset="0.59" stop-color="#0000a7" stop-opacity="0.69"/><stop offset="0.62" stop-color="#00009f" stop-opacity="0.54"/><stop offset="0.64" stop-color="#000097" stop-opacity="0.38"/><stop offset="0.67" stop-color="#000091" stop-opacity="0.26"/><stop offset="0.68" stop-color="#000090" stop-opacity="0.24"/><stop offset="0.7" stop-color="#00008c" stop-opacity="0.17"/><stop offset="0.72" stop-color="#000088" stop-opacity="0.09"/><stop offset="0.74" stop-color="#000086" stop-opacity="0.04"/><stop offset="0.77" stop-color="#000083" stop-opacity="0"/><stop offset="0.79" stop-color="#000082" stop-opacity="0"/><stop offset="0.85" stop-color="#000082" stop-opacity="0"/><stop offset="0.87" stop-color="#000081" stop-opacity="0"/><stop offset="0.92" stop-color="#000081" stop-opacity="0"/><stop offset="0.95" stop-color="#000080" stop-opacity="0"/><stop offset="1" stop-color="#000080" stop-opacity="0"/></linearGradient>
<linearGradient id="g61" gradientUnits="userSpaceOnUse" x1="248.1" x2="362.6" y1="0" y2="0"><stop offset="-0" stop-color="#00009e" stop-opacity="0.52"/><stop offset="0" stop-color="#00009e" stop-opacity="0.51"/><stop offset="0.21" stop-color="#00009e" stop-opacity="0.51"/><stop offset="0.23" stop-color="#0000a1" stop-opacity="0.58"/><stop offset="0.26" stop-color="#0000a5" stop-opacity="0.65"/><stop offset="0.28" stop-color="#0000a7" stop-opacity="0.69"/><stop offset="0.31" stop-color="#0000a9" stop-opacity="0.73"/><stop offset="0.33" stop-color="#0000ab" stop-opacity="0.77"/><stop offset="0.36" stop-color="#0000ad" stop-opacity="0.81"/><stop offset="0.39" stop-color="#0000ae" stop-opacity="0.83"/><stop offset="0.44" stop-color="#0000ae" stop-opacity="0.83"/><stop offset="0.46" stop-color="#0000ad" stop-opacity="0.81"/><stop offset="0.49" stop-color="#0000ac" stop-opacity="0.79"/><stop offset="0.49" stop-color="#0000ac" stop-opacity="0.79"/><stop offset="0.52" stop-color="#0000a8" stop-opacity="0.72"/><stop offset="0.55" stop-color="#0000a5" stop-opacity="0.65"/><stop offset="0.57" stop-color="#0000a1" stop-opacity="0.57"/><stop offset="0.59" stop-color="#00009d" stop-opacity="0.49"/><stop offset="0.62" stop-color="#000097" stop-opacity="0.38"/><stop offset="0.64" stop-color="#000091" stop-opacity="0.27"/><stop offset="0.67" stop-color="#00008d" stop-opacity="0.18"/><stop offset="0.68" stop-color="#00008c" stop-opacity="0.16"/><stop offset="0.7" stop-color="#000089" stop-opacity="0.11"/><stop offset="0.72" stop-color="#000086" stop-opacity="0.05"/><stop offset="0.74" stop-color="#000084" stop-opacity="0.01"/><stop offset="0.77" stop-color="#000082" stop-opacity="0"/><stop offset="0.79" stop-color="#000082" stop-opacity="0"/><stop offset="0.82" stop-color="#000081" stop-opacity="0"/><stop offset="0.9" stop-color="#000081" stop-opacity="0"/><stop offset="0.92" stop-color="#000080" stop-opacity="0"/><stop offset="1" stop-color="#000080" stop-opacity="0"/></linearGradient>
<linearGradient id="g62" gradientUnits="userSpaceOnUse" x1="248.1" x2="362.6" y1="0" y2="0"><stop offset="-0" stop-color="#00008a" stop-opacity="0.12"/><stop offset="0.21" stop-color="#00008a" stop-opacity="0.12"/><stop offset="0.23" stop-color="#00008e" stop-opacity="0.2"/><stop offset="0.26" stop-color="#000091" stop-opacity="0.27"/><stop offset="0.28" stop-color="#000094" stop-opacity="0.33"/><stop offset="0.31" stop-color="#000097" stop-opacity="0.38"/><stop offset="0.33" stop-color="#000099" stop-opacity="0.43"/><stop offset="0.36" stop-color="#00009d" stop-opacity="0.49"/><stop offset="0.39" stop-color="#00009f" stop-opacity="0.55"/><stop offset="0.42" stop-color="#0000a2" stop-opacity="0.59"/><stop offset="0.44" stop-color="#0000a3" stop-opacity="0.61"/><stop offset="0.46" stop-color="#0000a3" stop-opacity="0.62"/><stop offset="0.49" stop-color="#0000a4" stop-opacity="0.63"/><stop offset="0.49" stop-color="#0000a4" stop-opacity="0.63"/><stop offset="0.52" stop-color="#0000a1" stop-opacity="0.57"/><stop offset="0.55" stop-color="#00009e" stop-opacity="0.52"/><stop offset="0.57" stop-color="#00009b" stop-opacity="0.45"/><stop offset="0.59" stop-color="#000097" stop-opacity="0.39"/><stop offset="0.62" stop-color="#000093" stop-opacity="0.3"/><stop offset="0.64" stop-color="#00008e" stop-opacity="0.2"/><stop offset="0.67" stop-color="#00008a" stop-opacity="0.13"/><stop offset="0.68" stop-color="#000089" stop-opacity="0.11"/><stop offset="0.7" stop-color="#000087" stop-opacity="0.07"/><stop offset="0.72" stop-color="#000085" stop-opacity="0.02"/><stop offset="0.74" stop-color="#000083" stop-opacity="0"/><stop offset="0.77" stop-color="#000081" stop-opacity="0"/><stop offset="0.87" stop-color="#000081" stop-opacity="0"/><stop offset="0.9" stop-color="#000080" stop-opacity="0"/><stop offset="1" stop-color="#000080" stop-opacity="0"/></linearGradient>
<linearGradient id="g63" gradientUnits="userSpaceOnUse" x1="248.1" x2="362.6" y1="0" y2="0"><stop offset="-0" stop-color="#000080" stop-opacity="0"/><stop offset="0.26" stop-color="#000080" stop-opacity="0"/><stop offset="0.28" stop-color="#000082" stop-opacity="0"/><stop offset="0.31" stop-color="#000085" stop-opacity="0.03"/><stop offset="0.33" stop-color="#000088" stop-opacity="0.09"/><stop offset="0.36" stop-color="#00008d" stop-opacity="0.18"/><stop offset="0.39" stop-color="#000090" stop-opacity="0.25"/><stop offset="0.42" stop-color="#000094" stop-opacity="0.31"/><stop offset="0.44" stop-color="#000096" stop-opacity="0.35"/><stop offset="0.46" stop-color="#000097" stop-opacity="0.38"/><stop offset="0.49" stop-color="#000098" stop-opacity="0.4"/><stop offset="0.49" stop-color="#000098" stop-opacity="0.41"/><stop offset="0.52" stop-color="#000097" stop-opacity="0.38"/><stop offset="0.55" stop-color="#000095" stop-opacity="0.35"/><stop offset="0.57" stop-color="#000093" stop-opacity="0.31"/><stop offset="0.59" stop-color="#000091" stop-opacity="0.27"/><stop offset="0.62" stop-color="#00008e" stop-opacity="0.2"/><stop offset="0.64" stop-color="#00008a" stop-opacity="0.14"/><stop offset="0.67" stop-color="#000088" stop-opacity="0.08"/><stop offset="0.68" stop-color="#000087" stop-opacity="0.07"/><stop offset="0.7" stop-color="#000085" stop-opacity="0.04"/><stop offset="0.72" stop-color="#000084" stop-opacity="0"/><stop offset="0.74" stop-color="#000082" stop-opacity="0"/><stop offset="0.77" stop-color="#000081" stop-opacity="0"/><stop offset="0.85" stop-color="#000081" stop-opacity="0"/><stop offset="0.87" stop-color="#000080" stop-opacity="0"/><stop offset="1" stop-color="#000080" stop-opacity="0"/></linearGradient>
<linearGradient id="g64" gradientUnits="userSpaceOnUse" x1="248.1" x2="362.6" y1="0" y2="0"><stop offset="-0" stop-color="#000080" stop-opacity="0"/><stop offset="0.36" stop-color="#000080" stop-opacity="0"/><stop offset="0.39" stop-color="#000081" stop-opacity="0"/><stop offset="0.42" stop-color="#000086" stop-opacity="0.04"/><stop offset="0.44" stop-color="#000088" stop-opacity="0.1"/><stop offset="0.46" stop-color="#00008b" stop-opacity="0.14"/><stop offset="0.49" stop-color="#00008d" stop-opacity="0.18"/><stop offset="0.52" stop-color="#00008d" stop-opacity="0.18"/><stop offset="0.55" stop-color="#00008c" stop-opacity="0.17"/><stop offset="0.57" stop-color="#00008c" stop-opacity="0.16"/><stop offset="0.59" stop-color="#00008a" stop-opacity="0.14"/><stop offset="0.62" stop-color="#000089" stop-opacity="0.1"/><stop offset="0.64" stop-color="#000087" stop-opacity="0.06"/><stop offset="0.67" stop-color="#000085" stop-opacity="0.03"/><stop offset="0.68" stop-color="#000085" stop-opacity="0.02"/><stop offset="0.7" stop-color="#000083" stop-opacity="0"/><stop offset="0.72" stop-color="#000082" stop-opacity="0"/><stop offset="0.74" stop-color="#000081" stop-opacity="0"/><stop offset="0.77" stop-color="#000081" stop-opacity="0"/><stop offset="0.79" stop-color="#000080" stop-opacity="0"/><stop offset="1" stop-color="#000080" stop-opacity="0"/></linearGradient>
<linearGradient id="g68" x1="0" x2="0" y1="0" y2="1"><stop offset="0" stop-color="#800000"/><stop offset="0.03" stop-color="#9f0000"/><stop offset="0.06" stop-color="#bf0000"/><stop offset="0.09" stop-color="#df0000"/><stop offset="0.12" stop-color="#ff0000"/><stop offset="0.16" stop-color="#ff2000"/><stop offset="0.19" stop-color="#ff4000"/><stop offset="0.22" stop-color="#ff6000"/><stop offset="0.25" stop-color="#ff8000"/><stop offset="0.28" stop-color="#ff9f00"/><stop offset="0.31" stop-color="#ffbf00"/><stop offset="0.34" stop-color="#ffdf00"/><stop offset="0.38" stop-color="#ffff00"/><stop offset="0.41" stop-color="#dfff20"/><stop offset="0.44" stop-color="#bfff40"/><stop offset="0.47" stop-color="#9fff60"/><stop offset="0.5" stop-color="#80ff80"/><stop offset="0.53" stop-color="#60ff9f"/><stop offset="0.56" stop-color="#40ffbf"/><stop offset="0.59" stop-color="#20ffdf"/><stop offset="0.62" stop-color="#00ffff"/><stop offset="0.66" stop-color="#00dfff"/><stop offset="0.69" stop-color="#00bfff"/><stop offset="0.72" stop-color="#009fff"/><stop offset="0.75" stop-color="#0080ff"/><stop offset="0.78" stop-color="#0060ff"/><stop offset="0.81" stop-color="#0040ff"/><stop offset="0.84" stop-color="#0020ff"/><stop offset="0.88" stop-color="#0000ff"/><stop offset="0.91" stop-color="#0000df"/><stop offset="0.94" stop-color="#0000bf"/><stop offset="0.97" stop-color="#00009f"/><stop offset="1" stop-color="#000080"/></linearGradient>
<clipPath id="c69"><rect x="45.7" y="427.3" width="114.8" height="93.1"/></clipPath>
<filter id="f70" x="-100%" y="-100%" width="300%" height="300%"><feGaussianBlur stdDeviation="4"/></filter>
<filter id="f71" x="-100%" y="-100%" width="300%" height="300%"><feGaussianBlur stdDeviation="2.5"/></filter>
<linearGradient id="g73" gradientUnits="userSpaceOnUse" x1="45.7" x2="160.5" y1="0" y2="0"><stop offset="-0" stop-color="#000096" stop-opacity="0.36"/><stop offset="0.3" stop-color="#000096" stop-opacity="0.36"/><stop offset="0.32" stop-color="#000093" stop-opacity="0.31"/><stop offset="0.35" stop-color="#000091" stop-opacity="0.27"/><stop offset="0.38" stop-color="#000090" stop-opacity="0.24"/><stop offset="0.4" stop-color="#00008e" stop-opacity="0.21"/><stop offset="0.43" stop-color="#00008d" stop-opacity="0.18"/><stop offset="0.46" stop-color="#00008d" stop-opacity="0.19"/><stop offset="0.48" stop-color="#00008e" stop-opacity="0.2"/><stop offset="0.51" stop-color="#00008f" stop-opacity="0.22"/><stop offset="0.66" stop-color="#00008f" stop-opacity="0.22"/><stop offset="0.68" stop-color="#00008e" stop-opacity="0.2"/><stop offset="0.71" stop-color="#00008b" stop-opacity="0.15"/><stop offset="0.73" stop-color="#00008a" stop-opacity="0.13"/><stop offset="0.75" stop-color="#000089" stop-opacity="0.1"/><stop offset="0.78" stop-color="#000085" stop-opacity="0.04"/><stop offset="0.8" stop-color="#000083" stop-opacity="0"/><stop offset="0.84" stop-color="#000081" stop-opacity="0"/><stop offset="0.91" stop-color="#000081" stop-opacity="0"/><stop offset="0.93" stop-color="#000082" stop-opacity="0"/><stop offset="0.94" stop-color="#000081" stop-opacity="0"/><stop offset="0.97" stop-color="#000081" stop-opacity="0"/><stop offset="1" stop-color="#000080" stop-opacity="0"/></linearGradient>
<linearGradient id="g74" gradientUnits="userSpaceOnUse" x1="45.7" x2="160.5" y1="0" y2="0"><stop offset="-0" stop-color="#0000b6" stop-opacity="1"/><stop offset="0.3" stop-color="#0000b6" stop-opacity="1"/><stop offset="0.32" stop-color="#0000b3" stop-opacity="0.94"/><stop offset="0.35" stop-color="#0000b0" stop-opacity="0.88"/><stop offset="0.38" stop-color="#0000ae" stop-opacity="0.83"/><stop offset="0.4" stop-color="#0000ab" stop-opacity="0.78"/><stop offset="0.43" stop-color="#0000a9" stop-opacity="0.73"/><stop offset="0.46" stop-color="#0000aa" stop-opacity="0.75"/><stop offset="0.48" stop-color="#0000aa" stop-opacity="0.76"/><stop offset="0.51" stop-color="#0000ab" stop-opacity="0.78"/><stop offset="0.54" stop-color="#0000aa" stop-opacity="0.76"/><stop offset="0.56" stop-color="#0000a9" stop-opacity="0.74"/><stop offset="0.59" stop-color="#0000a8" stop-opacity="0.72"/><stop offset="0.62" stop-color="#0000a7" stop-opacity="0.69"/><stop offset="0.65" stop-color="#0000a5" stop-opacity="0.66"/><stop offset="0.66" stop-color="#0000a5" stop-opacity="0.65"/><stop offset="0.68" stop-color="#0000a3" stop-opacity="0.61"/><stop offset="0.71" stop-color="#00009d" stop-opacity="0.49"/><stop offset="0.73" stop-color="#000099" stop-opacity="0.42"/><stop offset="0.75" stop-color="#000096" stop-opacity="0.36"/><stop offset="0.78" stop-color="#00008e" stop-opacity="0.21"/><stop offset="0.8" stop-color="#000087" stop-opacity="0.07"/><stop offset="0.84" stop-color="#000083" stop-opacity="0"/><stop offset="0.89" stop-color="#000083" stop-opacity="0"/><stop offset="0.91" stop-color="#000082" stop-opacity="0"/><stop offset="0.93" stop-color="#000085" stop-opacity="0.02"/><stop offset="0.94" stop-color="#000082" stop-opacity="0"/><stop offset="1" stop-color="#000082" stop-opacity="0"/></linearGradient>
<linearGradient id="g75" gradientUnits="userSpaceOnUse" x1="45.7" x2="160.5" y1="0" y2="0"><stop offset="-0" stop-color="#0000e1" stop-opacity="1"/><stop offset="0.3" stop-color="#0000e1" stop-opacity="1"/><stop offset="0.32" stop-color="#0000dd" stop-opacity="1"/><stop offset="0.35" stop-color="#0000da" stop-opacity="1"/><stop offset="0.38" stop-color="#0000d7" stop-opacity="1"/><stop offset="0.4" stop-color="#0000d3" stop-opacity="1"/><stop offset="0.43" stop-color="#0000d0" stop-opacity="1"/><stop offset="0.46" stop-color="#0000d1" stop-opacity="1"/><stop offset="0.48" stop-color="#0000d1" stop-opacity="1"/><stop offset="0.51" stop-color="#0000d2" stop-opacity="1"/><stop offset="0.54" stop-color="#0000cf" stop-opacity="1"/><stop offset="0.56" stop-color="#0000cc" stop-opacity="1"/><stop offset="0.59" stop-color="#0000ca" stop-opacity="1"/><stop offset="0.62" stop-color="#0000c6" stop-opacity="1"/><stop offset="0.65" stop-color="#0000c3" stop-opacity="1"/><stop offset="0.66" stop-color="#0000c2" stop-opacity="1"/><stop offset="0.68" stop-color="#0000be" stop-opacity="1"/><stop offset="0.71" stop-color="#0000b3" stop-opacity="0.94"/><stop offset="0.73" stop-color="#0000ad" stop-opacity="0.82"/><stop offset="0.75" stop-color="#0000a7" stop-opacity="0.69"/><stop offset="0.78" stop-color="#000099" stop-opacity="0.43"/><stop offset="0.8" stop-color="#00008d" stop-opacity="0.18"/><stop offset="0.84" stop-color="#000086" stop-opacity="0.04"/><stop offset="0.86" stop-color="#000085" stop-opacity="0.04"/><stop offset="0.89" stop-color="#000085" stop-opacity="0.03"/><stop offset="0.91" stop-color="#000085" stop-opacity="0.02"/><stop offset="0.93" stop-color="#000089" stop-opacity="0.1"/><stop offset="0.94" stop-color="#000085" stop-opacity="0.02"/><stop offset="0.97" stop-color="#000084" stop-opacity="0.01"/><stop offset="1" stop-color="#000084" stop-opacity="0"/></linearGradient>
<linearGradient id="g76" gradientUnits="userSpaceOnUse" x1="45.7" x2="160.5" y1="0" y2="0"><stop offset="-0" stop-color="#001fff" stop-opacity="1"/><stop offset="0.3" stop-color="#001fff" stop-opacity="1"/><stop offset="0.32" stop-color="#0019ff" stop-opacity="1"/><stop offset="0.35" stop-color="#0013ff" stop-opacity="1"/><stop offset="0.38" stop-color="#000eff" stop-opacity="1"/><stop offset="0.4" stop-color="#000bff" stop-opacity="1"/><stop offset="0.43" stop-color="#0007ff" stop-opacity="1"/><stop offset="0.51" stop-color="#0007ff" stop-opacity="1"/><stop offset="0.54" stop-color="#0002ff" stop-opacity="1"/><stop offset="0.56" stop-color="#0000fc" stop-opacity="1"/><stop offset="0.59" stop-color="#0000f8" stop-opacity="1"/><stop offset="0.62" stop-color="#0000f3" stop-opacity="1"/><stop offset="0.65" stop-color="#0000ec" stop-opacity="1"/><stop offset="0.66" stop-color="#0000eb" stop-opacity="1"/><stop offset="0.68" stop-color="#0000e5" stop-opacity="1"/><stop offset="0.71" stop-color="#0000d4" stop-opacity="1"/><stop offset="0.73" stop-color="#0000ca" stop-opacity="1"/><stop offset="0.75" stop-color="#0000c0" stop-opacity="1"/><stop offset="0.78" stop-color="#0000aa" stop-opacity="0.75"/><stop offset="0.8" stop-color="#000095" stop-opacity="0.35"/><stop offset="0.84" stop-color="#00008a" stop-opacity="0.12"/><stop offset="0.86" stop-color="#000089" stop-opacity="0.11"/><stop offset="0.89" stop-color="#000088" stop-opacity="0.1"/><stop offset="0.91" stop-color="#000088" stop-opacity="0.09"/><stop offset="0.93" stop-color="#00008f" stop-opacity="0.22"/><stop offset="0.94" stop-color="#000088" stop-opacity="0.09"/><stop offset="0.97" stop-color="#000087" stop-opacity="0.07"/><stop offset="1" stop-color="#000086" stop-opacity="0.05"/></linearGradient>
<linearGradient id="g77" gradientUnits="userSpaceOnUse" x1="45.7" x2="160.5" y1="0" y2="0"><stop offset="-0" stop-color="#0094ff" stop-opacity="1"/><stop offset="0.3" stop-color="#0094ff" stop-opacity="1"/><stop offset="0.32" stop-color="#008eff" stop-opacity="1"/><stop offset="0.35" stop-color="#0088ff" stop-opacity="1"/><stop offset="0.38" stop-color="#0082ff" stop-opacity="1"/><stop offset="0.4" stop-color="#007cff" stop-opacity="1"/><stop offset="0.43" stop-color="#0076ff" stop-opacity="1"/><stop offset="0.46" stop-color="#0075ff" stop-opacity="1"/><stop offset="0.48" stop-color="#0075ff" stop-opacity="1"/><stop offset="0.51" stop-color="#0074ff" stop-opacity="1"/><stop offset="0.54" stop-color="#006bff" stop-opacity="1"/><stop offset="0.56" stop-color="#0061ff" stop-opacity="1"/><stop offset="0.59" stop-color="#0058ff" stop-opacity="1"/><stop offset="0.62" stop-color="#004bff" stop-opacity="1"/><stop offset="0.65" stop-color="#003eff" stop-opacity="1"/><stop offset="0.66" stop-color="#003bff" stop-opacity="1"/><stop offset="0.68" stop-color="#0030ff" stop-opacity="1"/><stop offset="0.71" stop-color="#0013ff" stop-opacity="1"/><stop offset="0.73" stop-color="#0001ff" stop-opacity="1"/><stop offset="0.75" stop-color="#0000ef" stop-opacity="1"/><stop offset="0.78" stop-color="#0000c9" stop-opacity="1"/><stop offset="0.8" stop-color="#0000a6" stop-opacity="0.67"/><stop offset="0.84" stop-color="#000091" stop-opacity="0.26"/><stop offset="0.86" stop-color="#000090" stop-opacity="0.25"/><stop offset="0.89" stop-color="#00008f" stop-opacity="0.23"/><stop offset="0.91" stop-color="#00008e" stop-opacity="0.21"/><stop offset="0.93" stop-color="#00009a" stop-opacity="0.44"/><stop offset="0.94" stop-color="#00008e" stop-opacity="0.21"/><stop offset="0.97" stop-color="#00008d" stop-opacity="0.18"/><stop offset="1" stop-color="#00008b" stop-opacity="0.15"/></linearGradient>
<linearGradient id="g78" gradientUnits="userSpaceOnUse" x1="45.7" x2="160.5" y1="0" y2="0"><stop offset="-0" stop-color="#4effb1" stop-opacity="1"/><stop offset="0.3" stop-color="#4effb1" stop-opacity="1"/><stop offset="0.32" stop-color="#43ffbc" stop-opacity="1"/><stop offset="0.35" stop-color="#39ffc6" stop-opacity="1"/><stop offset="0.38" stop-color="#2fffd0" stop-opacity="1"/><stop offset="0.4" stop-color="#25ffda" stop-opacity="1"/><stop offset="0.43" stop-color="#1affe5" stop-opacity="1"/><stop offset="0.46" stop-color="#1affe5" stop-opacity="1"/><stop offset="0.48" stop-color="#19ffe6" stop-opacity="1"/><stop offset="0.51" stop-color="#18ffe7" stop-opacity="1"/><stop offset="0.54" stop-color="#09fff6" stop-opacity="1"/><stop offset="0.56" stop-color="#00f8ff" stop-opacity="1"/><stop offset="0.59" stop-color="#00e8ff" stop-opacity="1"/><stop offset="0.62" stop-color="#00d3ff" stop-opacity="1"/><stop offset="0.65" stop-color="#00beff" stop-opacity="1"/><stop offset="0.66" stop-color="#00b8ff" stop-opacity="1"/><stop offset="0.68" stop-color="#00a6ff" stop-opacity="1"/><stop offset="0.71" stop-color="#0075ff" stop-opacity="1"/><stop offset="0.73" stop-color="#0058ff" stop-opacity="1"/><stop offset="0.75" stop-color="#003bff" stop-opacity="1"/><stop offset="0.78" stop-color="#0000fa" stop-opacity="1"/><stop offset="0.8" stop-color="#0000bf" stop-opacity="1"/><stop offset="0.84" stop-color="#00009d" stop-opacity="0.5"/><stop offset="0.86" stop-color="#00009b" stop-opacity="0.46"/><stop offset="0.89" stop-color="#00009a" stop-opacity="0.43"/><stop offset="0.91" stop-color="#000098" stop-opacity="0.4"/><stop offset="0.93" stop-color="#0000ac" stop-opacity="0.78"/><stop offset="0.94" stop-color="#000098" stop-opacity="0.4"/><stop offset="0.97" stop-color="#000096" stop-opacity="0.35"/><stop offset="1" stop-color="#000093" stop-opacity="0.3"/></linearGradient>
<linearGradient id="g79" gradientUnits="userSpaceOnUse" x1="45.7" x2="160.5" y1="0" y2="0"><stop offset="-0" stop-color="#ffc500" stop-opacity="1"/><stop offset="0.3" stop-color="#ffc500" stop-opacity="1"/><stop offset="0.32" stop-color="#ffcd00" stop-opacity="1"/><stop offset="0.35" stop-color="#ffd500" stop-opacity="1"/><stop offset="0.38" stop-color="#ffdc00" stop-opacity="1"/><stop offset="0.4" stop-color="#ffe400" stop-opacity="1"/><stop offset="0.43" stop-color="#ffeb00" stop-opacity="1"/><stop offset="0.46" stop-color="#fff200" stop-opacity="1"/><stop offset="0.48" stop-color="#fff800" stop-opacity="1"/><stop offset="0.51" stop-color="#fffe00" stop-opacity="1"/><stop offset="0.54" stop-color="#e3ff1c" stop-opacity="1"/><stop offset="0.56" stop-color="#c7ff38" stop-opacity="1"/><stop offset="0.59" stop-color="#aaff55" stop-opacity="1"/><stop offset="0.62" stop-color="#86ff79" stop-opacity="1"/><stop offset="0.65" stop-color="#62ff9d" stop-opacity="1"/><stop offset="0.66" stop-color="#58ffa7" stop-opacity="1"/><stop offset="0.68" stop-color="#3dffc2" stop-opacity="1"/><stop offset="0.71" stop-color="#00f2ff" stop-opacity="1"/><stop offset="0.73" stop-color="#00c6ff" stop-opacity="1"/><stop offset="0.75" stop-color="#009aff" stop-opacity="1"/><stop offset="0.78" stop-color="#0039ff" stop-opacity="1"/><stop offset="0.8" stop-color="#0000e0" stop-opacity="1"/><stop offset="0.84" stop-color="#0000ac" stop-opacity="0.79"/><stop offset="0.86" stop-color="#0000a9" stop-opacity="0.74"/><stop offset="0.89" stop-color="#0000a7" stop-opacity="0.69"/><stop offset="0.91" stop-color="#0000a4" stop-opacity="0.65"/><stop offset="0.93" stop-color="#0000c2" stop-opacity="1"/><stop offset="0.94" stop-color="#0000a4" stop-opacity="0.65"/><stop offset="0.97" stop-color="#0000a1" stop-opacity="0.57"/><stop offset="1" stop-color="#00009d" stop-opacity="0.5"/></linearGradient>
<linearGradient id="g80" gradientUnits="userSpaceOnUse" x1="45.7" x2="160.5" y1="0" y2="0"><stop offset="-0" stop-color="#c60000" stop-opacity="1"/><stop offset="0.3" stop-color="#c60000" stop-opacity="1"/><stop offset="0.32" stop-color="#cf0000" stop-opacity="1"/><stop offset="0.35" stop-color="#d90000" stop-opacity="1"/><stop offset="0.38" stop-color="#e20000" stop-opacity="1"/><stop offset="0.4" stop-color="#eb0000" stop-opacity="1"/><stop offset="0.43" stop-color="#f40000" stop-opacity="1"/><stop offset="0.46" stop-color="#fd0000" stop-opacity="1"/><stop offset="0.48" stop-color="#ff0800" stop-opacity="1"/><stop offset="0.51" stop-color="#ff1100" stop-opacity="1"/><stop offset="0.54" stop-color="#ff3900" stop-opacity="1"/><stop offset="0.56" stop-color="#ff6100" stop-opacity="1"/><stop offset="0.59" stop-color="#ff8800" stop-opacity="1"/><stop offset="0.62" stop-color="#ffba00" stop-opacity="1"/><stop offset="0.65" stop-color="#ffec00" stop-opacity="1"/><stop offset="0.66" stop-color="#fffb00" stop-opacity="1"/><stop offset="0.68" stop-color="#dfff20" stop-opacity="1"/><stop offset="0.71" stop-color="#7aff85" stop-opacity="1"/><stop offset="0.73" stop-color="#3effc1" stop-opacity="1"/><stop offset="0.75" stop-color="#01fffe" stop-opacity="1"/><stop offset="0.78" stop-color="#007dff" stop-opacity="1"/><stop offset="0.8" stop-color="#0004ff" stop-opacity="1"/><stop offset="0.84" stop-color="#0000bc" stop-opacity="1"/><stop offset="0.86" stop-color="#0000b9" stop-opacity="1"/><stop offset="0.89" stop-color="#0000b5" stop-opacity="0.98"/><stop offset="0.91" stop-color="#0000b2" stop-opacity="0.91"/><stop offset="0.93" stop-color="#0000da" stop-opacity="1"/><stop offset="0.94" stop-color="#0000b2" stop-opacity="0.91"/><stop offset="0.97" stop-color="#0000ad" stop-opacity="0.81"/><stop offset="1" stop-color="#0000a8" stop-opacity="0.71"/></linearGradient>
<linearGradient id="g81" gradientUnits="userSpaceOnUse" x1="45.7" x2="160.5" y1="0" y2="0"><stop offset="-0" stop-color="#fb0000" stop-opacity="1"/><stop offset="0.3" stop-color="#fb0000" stop-opacity="1"/><stop offset="0.32" stop-color="#ff0500" stop-opacity="1"/><stop offset="0.35" stop-color="#ff0e00" stop-opacity="1"/><stop offset="0.38" stop-color="#ff1700" stop-opacity="1"/><stop offset="0.4" stop-color="#ff2100" stop-opacity="1"/><stop offset="0.43" stop-color="#ff2a00" stop-opacity="1"/><stop offset="0.46" stop-color="#ff3200" stop-opacity="1"/><stop offset="0.48" stop-color="#ff3b00" stop-opacity="1"/><stop offset="0.51" stop-color="#ff4400" stop-opacity="1"/><stop offset="0.54" stop-color="#ff6900" stop-opacity="1"/><stop offset="0.56" stop-color="#ff8e00" stop-opacity="1"/><stop offset="0.59" stop-color="#ffb300" stop-opacity="1"/><stop offset="0.62" stop-color="#ffe200" stop-opacity="1"/><stop offset="0.65" stop-color="#edff12" stop-opacity="1"/><stop offset="0.66" stop-color="#e0ff1f" stop-opacity="1"/><stop offset="0.68" stop-color="#beff41" stop-opacity="1"/><stop offset="0.71" stop-color="#5effa1" stop-opacity="1"/><stop offset="0.73" stop-color="#25ffda" stop-opacity="1"/><stop offset="0.75" stop-color="#00ebff" stop-opacity="1"/><stop offset="0.78" stop-color="#006fff" stop-opacity="1"/><stop offset="0.8" stop-color="#0000fb" stop-opacity="1"/><stop offset="0.84" stop-color="#0000b9" stop-opacity="1"/><stop offset="0.86" stop-color="#0000b6" stop-opacity="0.98"/><stop offset="0.89" stop-color="#0000b2" stop-opacity="0.92"/><stop offset="0.91" stop-color="#0000af" stop-opacity="0.85"/><stop offset="0.93" stop-color="#0000d5" stop-opacity="1"/><stop offset="0.94" stop-color="#0000af" stop-opacity="0.85"/><stop offset="0.97" stop-color="#0000aa" stop-opacity="0.76"/><stop offset="1" stop-color="#0000a6" stop-opacity="0.67"/></linearGradient>
<linearGradient id="g82" gradientUnits="userSpaceOnUse" x1="45.7" x2="160.5" y1="0" y2="0"><stop offset="-0" stop-color="#ffdd00" stop-opacity="1"/><stop offset="0.3" stop-color="#ffdd00" stop-opacity="1"/><stop offset="0.32" stop-color="#ffe700" stop-opacity="1"/><stop offset="0.35" stop-color="#fff100" stop-opacity="1"/><stop offset="0.38" stop-color="#fffb00" stop-opacity="1"/><stop offset="0.4" stop-color="#f9ff06" stop-opacity="1"/><stop offset="0.43" stop-color="#efff10" stop-opacity="1"/><stop offset="0.46" stop-color="#eaff15" stop-opacity="1"/><stop offset="0.48" stop-color="#e6ff19" stop-opacity="1"/><stop offset="0.51" stop-color="#e1ff1e" stop-opacity="1"/><stop offset="0.54" stop-color="#c8ff37" stop-opacity="1"/><stop offset="0.56" stop-color="#aeff51" stop-opacity="1"/><stop offset="0.59" stop-color="#94ff6b" stop-opacity="1"/><stop offset="0.62" stop-color="#73ff8c" stop-opacity="1"/><stop offset="0.65" stop-color="#51ffae" stop-opacity="1"/><stop offset="0.66" stop-color="#47ffb8" stop-opacity="1"/><stop offset="0.68" stop-color="#2effd1" stop-opacity="1"/><stop offset="0.71" stop-color="#00e5ff" stop-opacity="1"/><stop offset="0.73" stop-color="#00bbff" stop-opacity="1"/><stop offset="0.75" stop-color="#0090ff" stop-opacity="1"/><stop offset="0.78" stop-color="#0033ff" stop-opacity="1"/><stop offset="0.8" stop-color="#0000dc" stop-opacity="1"/><stop offset="0.84" stop-color="#0000aa" stop-opacity="0.76"/><stop offset="0.86" stop-color="#0000a8" stop-opacity="0.71"/><stop offset="0.89" stop-color="#0000a6" stop-opacity="0.67"/><stop offset="0.91" stop-color="#0000a3" stop-opacity="0.62"/><stop offset="0.93" stop-color="#0000c0" stop-opacity="1"/><stop offset="0.94" stop-color="#0000a3" stop-opacity="0.62"/><stop offset="0.97" stop-color="#0000a0" stop-opacity="0.55"/><stop offset="1" stop-color="#00009c" stop-opacity="0.48"/></linearGradient>
<linearGradient id="g83" gradientUnits="userSpaceOnUse" x1="45.7" x2="160.5" y1="0" y2="0"><stop offset="-0" stop-color="#19ffe6" stop-opacity="1"/><stop offset="0.3" stop-color="#19ffe6" stop-opacity="1"/><stop offset="0.32" stop-color="#11ffee" stop-opacity="1"/><stop offset="0.35" stop-color="#09fff6" stop-opacity="1"/><stop offset="0.38" stop-color="#00ffff" stop-opacity="1"/><stop offset="0.4" stop-color="#00f7ff" stop-opacity="1"/><stop offset="0.43" stop-color="#00efff" stop-opacity="1"/><stop offset="0.46" stop-color="#00eeff" stop-opacity="1"/><stop offset="0.48" stop-color="#00ecff" stop-opacity="1"/><stop offset="0.51" stop-color="#00ebff" stop-opacity="1"/><stop offset="0.54" stop-color="#00ddff" stop-opacity="1"/><stop offset="0.56" stop-color="#00cfff" stop-opacity="1"/><stop offset="0.59" stop-color="#00c0ff" stop-opacity="1"/><stop offset="0.62" stop-color="#00adff" stop-opacity="1"/><stop offset="0.65" stop-color="#009aff" stop-opacity="1"/><stop offset="0.66" stop-color="#0094ff" stop-opacity="1"/><stop offset="0.68" stop-color="#0085ff" stop-opacity="1"/><stop offset="0.71" stop-color="#0059ff" stop-opacity="1"/><stop offset="0.73" stop-color="#003fff" stop-opacity="1"/><stop offset="0.75" stop-color="#0025ff" stop-opacity="1"/><stop offset="0.78" stop-color="#0000ec" stop-opacity="1"/><stop offset="0.8" stop-color="#0000b8" stop-opacity="1"/><stop offset="0.84" stop-color="#00009a" stop-opacity="0.43"/><stop offset="0.86" stop-color="#000098" stop-opacity="0.4"/><stop offset="0.89" stop-color="#000097" stop-opacity="0.37"/><stop offset="0.91" stop-color="#000095" stop-opacity="0.34"/><stop offset="0.93" stop-color="#0000a7" stop-opacity="0.68"/><stop offset="0.94" stop-color="#000095" stop-opacity="0.34"/><stop offset="0.97" stop-color="#000093" stop-opacity="0.3"/><stop offset="1" stop-color="#000091" stop-opacity="0.26"/></linearGradient>
<linearGradient id="g84" gradientUnits="userSpaceOnUse" x1="45.7" x2="160.5" y1="0" y2="0"><stop offset="-0" stop-color="#007fff" stop-opacity="1"/><stop offset="0.3" stop-color="#007fff" stop-opacity="1"/><stop offset="0.32" stop-color="#0078ff" stop-opacity="1"/><stop offset="0.35" stop-color="#0071ff" stop-opacity="1"/><stop offset="0.38" stop-color="#006aff" stop-opacity="1"/><stop offset="0.4" stop-color="#0063ff" stop-opacity="1"/><stop offset="0.43" stop-color="#005cff" stop-opacity="1"/><stop offset="0.46" stop-color="#005cff" stop-opacity="1"/><stop offset="0.48" stop-color="#005dff" stop-opacity="1"/><stop offset="0.51" stop-color="#005dff" stop-opacity="1"/><stop offset="0.54" stop-color="#0055ff" stop-opacity="1"/><stop offset="0.56" stop-color="#004eff" stop-opacity="1"/><stop offset="0.59" stop-color="#0046ff" stop-opacity="1"/><stop offset="0.62" stop-color="#003bff" stop-opacity="1"/><stop offset="0.65" stop-color="#0030ff" stop-opacity="1"/><stop offset="0.66" stop-color="#002cff" stop-opacity="1"/><stop offset="0.68" stop-color="#0023ff" stop-opacity="1"/><stop offset="0.71" stop-color="#0008ff" stop-opacity="1"/><stop offset="0.73" stop-color="#0000f6" stop-opacity="1"/><stop offset="0.75" stop-color="#0000e6" stop-opacity="1"/><stop offset="0.78" stop-color="#0000c3" stop-opacity="1"/><stop offset="0.8" stop-color="#0000a3" stop-opacity="0.61"/><stop offset="0.84" stop-color="#000090" stop-opacity="0.24"/><stop offset="0.86" stop-color="#00008f" stop-opacity="0.22"/><stop offset="0.89" stop-color="#00008e" stop-opacity="0.2"/><stop offset="0.91" stop-color="#00008d" stop-opacity="0.18"/><stop offset="0.93" stop-color="#000098" stop-opacity="0.4"/><stop offset="0.94" stop-color="#00008d" stop-opacity="0.18"/><stop offset="0.97" stop-color="#00008c" stop-opacity="0.16"/><stop offset="1" stop-color="#00008a" stop-opacity="0.13"/></linearGradient>
<linearGradient id="g85" gradientUnits="userSpaceOnUse" x1="45.7" x2="160.5" y1="0" y2="0"><stop offset="-0" stop-color="#000fff" stop-opacity="1"/><stop offset="0.3" stop-color="#000fff" stop-opacity="1"/><stop offset="0.32" stop-color="#000bff" stop-opacity="1"/><stop offset="0.35" stop-color="#0007ff" stop-opacity="1"/><stop offset="0.38" stop-color="#0003ff" stop-opacity="1"/><stop offset="0.4" stop-color="#0000fe" stop-opacity="1"/><stop offset="0.43" stop-color="#0000fb" stop-opacity="1"/><stop offset="0.51" stop-color="#0000fb" stop-opacity="1"/><stop offset="0.54" stop-color="#0000f7" stop-opacity="1"/><stop offset="0.56" stop-color="#0000f2" stop-opacity="1"/><stop offset="0.59" stop-color="#0000ee" stop-opacity="1"/><stop offset="0.62" stop-color="#0000e8" stop-opacity="1"/><stop offset="0.65" stop-color="#0000e1" stop-opacity="1"/><stop offset="0.66" stop-color="#0000e0" stop-opacity="1"/><stop offset="0.68" stop-color="#0000da" stop-opacity="1"/><stop offset="0.71" stop-color="#0000cb" stop-opacity="1"/><stop offset="0.73" stop-color="#0000c2" stop-opacity="1"/><stop offset="0.75" stop-color="#0000b9" stop-opacity="1"/><stop offset="0.78" stop-color="#0000a5" stop-opacity="0.66"/><stop offset="0.8" stop-color="#000093" stop-opacity="0.31"/><stop offset="0.84" stop-color="#000089" stop-opacity="0.1"/><stop offset="0.86" stop-color="#000088" stop-opacity="0.09"/><stop offset="0.89" stop-color="#000088" stop-opacity="0.08"/><stop offset="0.91" stop-color="#000087" stop-opacity="0.07"/><stop offset="0.93" stop-color="#00008d" stop-opacity="0.19"/><stop offset="0.94" stop-color="#000087" stop-opacity="0.07"/><stop offset="0.97" stop-color="#000086" stop-opacity="0.05"/><stop offset="1" stop-color="#000086" stop-opacity="0.04"/></linearGradient>
<linearGradient id="g86" gradientUnits="userSpaceOnUse" x1="45.7" x2="160.5" y1="0" y2="0"><stop offset="-0" stop-color="#0000d7" stop-opacity="1"/><stop offset="0.3" stop-color="#0000d7" stop-opacity="1"/><stop offset="0.32" stop-color="#0000d4" stop-opacity="1"/><stop offset="0.35" stop-color="#0000d1" stop-opacity="1"/><stop offset="0.38" stop-color="#0000ce" stop-opacity="1"/><stop offset="0.4" stop-color="#0000cb" stop-opacity="1"/><stop offset="0.43" stop-color="#0000c8" stop-opacity="1"/><stop offset="0.46" stop-color="#0000c9" stop-opacity="1"/><stop offset="0.48" stop-color="#0000c9" stop-opacity="1"/><stop offset="0.51" stop-color="#0000ca" stop-opacity="1"/><stop offset="0.54" stop-color="#0000c8" stop-opacity="1"/><stop offset="0.56" stop-color="#0000c5" stop-opacity="1"/><stop offset="0.59" stop-color="#0000c3" stop-opacity="1"/><stop offset="0.62" stop-color="#0000c0" stop-opacity="1"/><stop offset="0.65" stop-color="#0000bc" stop-opacity="1"/><stop offset="0.66" stop-color="#0000bb" stop-opacity="1"/><stop offset="0.68" stop-color="#0000b8" stop-opacity="1"/><stop offset="0.71" stop-color="#0000ae" stop-opacity="0.84"/><stop offset="0.73" stop-color="#0000a9" stop-opacity="0.73"/><stop offset="0.75" stop-color="#0000a3" stop-opacity="0.62"/><stop offset="0.78" stop-color="#000097" stop-opacity="0.38"/><stop offset="0.8" stop-color="#00008c" stop-opacity="0.16"/><stop offset="0.84" stop-color="#000085" stop-opacity="0.03"/><stop offset="0.86" stop-color="#000085" stop-opacity="0.02"/><stop offset="0.89" stop-color="#000084" stop-opacity="0.02"/><stop offset="0.91" stop-color="#000084" stop-opacity="0.01"/><stop offset="0.93" stop-color="#000088" stop-opacity="0.09"/><stop offset="0.94" stop-color="#000084" stop-opacity="0.01"/><stop offset="0.97" stop-color="#000084" stop-opacity="0"/><stop offset="1" stop-color="#000083" stop-opacity="0"/></linearGradient>
<linearGradient id="g87" gradientUnits="userSpaceOnUse" x1="45.7" x2="160.5" y1="0" y2="0"><stop offset="-0" stop-color="#0000af" stop-opacity="0.85"/><stop offset="0.3" stop-color="#0000af" stop-opacity="0.85"/><stop offset="0.32" stop-color="#0000ad" stop-opacity="0.81"/><stop offset="0.35" stop-color="#0000aa" stop-opacity="0.76"/><stop offset="0.38" stop-color="#0000a8" stop-opacity="0.71"/><stop offset="0.4" stop-color="#0000a5" stop-opacity="0.66"/><stop offset="0.43" stop-color="#0000a3" stop-opacity="0.61"/><stop offset="0.46" stop-color="#0000a3" stop-opacity="0.63"/><stop offset="0.48" stop-color="#0000a4" stop-opacity="0.64"/><stop offset="0.51" stop-color="#0000a5" stop-opacity="0.66"/><stop offset="0.54" stop-color="#0000a5" stop-opacity="0.65"/><stop offset="0.56" stop-color="#0000a4" stop-opacity="0.63"/><stop offset="0.59" stop-color="#0000a3" stop-opacity="0.62"/><stop offset="0.62" stop-color="#0000a2" stop-opacity="0.59"/><stop offset="0.65" stop-color="#0000a0" stop-opacity="0.56"/><stop offset="0.66" stop-color="#0000a0" stop-opacity="0.55"/><stop offset="0.68" stop-color="#00009e" stop-opacity="0.52"/><stop offset="0.71" stop-color="#000099" stop-opacity="0.42"/><stop offset="0.73" stop-color="#000096" stop-opacity="0.36"/><stop offset="0.75" stop-color="#000093" stop-opacity="0.3"/><stop offset="0.78" stop-color="#00008c" stop-opacity="0.17"/><stop offset="0.8" stop-color="#000086" stop-opacity="0.05"/><stop offset="0.84" stop-color="#000083" stop-opacity="0"/><stop offset="0.86" stop-color="#000082" stop-opacity="0"/><stop offset="0.91" stop-color="#000082" stop-opacity="0"/><stop offset="0.93" stop-color="#000084" stop-opacity="0.01"/><stop offset="0.94" stop-color="#000082" stop-opacity="0"/><stop offset="1" stop-color="#000082" stop-opacity="0"/></linearGradient>
<linearGradient id="g88" gradientUnits="userSpaceOnUse" x1="45.7" x2="160.5" y1="0" y2="0"><stop offset="-0" stop-color="#000091" stop-opacity="0.26"/><stop offset="0.3" stop-color="#000091" stop-opacity="0.26"/><stop offset="0.32" stop-color="#00008f" stop-opacity="0.23"/><stop offset="0.35" stop-color="#00008e" stop-opacity="0.2"/><stop offset="0.38" stop-color="#00008c" stop-opacity="0.16"/><stop offset="0.4" stop-color="#00008a" stop-opacity="0.13"/><stop offset="0.43" stop-color="#000089" stop-opacity="0.1"/><stop offset="0.46" stop-color="#000089" stop-opacity="0.12"/><stop offset="0.48" stop-color="#00008a" stop-opacity="0.13"/><stop offset="0.51" stop-color="#00008b" stop-opacity="0.14"/><stop offset="0.54" stop-color="#00008b" stop-opacity="0.15"/><stop offset="0.56" stop-color="#00008b" stop-opacity="0.15"/><stop offset="0.59" stop-color="#00008c" stop-opacity="0.16"/><stop offset="0.62" stop-color="#00008b" stop-opacity="0.15"/><stop offset="0.66" stop-color="#00008b" stop-opacity="0.15"/><stop offset="0.68" stop-color="#00008b" stop-opacity="0.14"/><stop offset="0.71" stop-color="#000089" stop-opacity="0.1"/><stop offset="0.73" stop-color="#000088" stop-opacity="0.08"/><stop offset="0.75" stop-color="#000086" stop-opacity="0.06"/><stop offset="0.78" stop-color="#000084" stop-opacity="0.01"/><stop offset="0.8" stop-color="#000082" stop-opacity="0"/><stop offset="0.84" stop-color="#000081" stop-opacity="0"/><stop offset="0.86" stop-color="#000081" stop-opacity="0"/><stop offset="0.89" stop-color="#000080" stop-opacity="0"/><stop offset="0.91" stop-color="#000080" stop-opacity="0"/><stop offset="0.93" stop-color="#000081" stop-opacity="0"/><stop offset="0.94" stop-color="#000080" stop-opacity="0"/><stop offset="1" stop-color="#000080" stop-opacity="0"/></linearGradient>
<linearGradient id="g91" x1="0" x2="0" y1="0" y2="1"><stop offset="0" stop-color="#800000"/><stop offset="0.03" stop-color="#9f0000"/><stop offset="0.06" stop-color="#bf0000"/><stop offset="0.09" stop-color="#df0000"/><stop offset="0.12" stop-color="#ff0000"/><stop offset="0.16" stop-color="#ff2000"/><stop offset="0.19" stop-color="#ff4000"/><stop offset="0.22" stop-color="#ff6000"/><stop offset="0.25" stop-color="#ff8000"/><stop offset="0.28" stop-color="#ff9f00"/><stop offset="0.31" stop-color="#ffbf00"/><stop offset="0.34" stop-color="#ffdf00"/><stop offset="0.38" stop-color="#ffff00"/><stop offset="0.41" stop-color="#dfff20"/><stop offset="0.44" stop-color="#bfff40"/><stop offset="0.47" stop-color="#9fff60"/><stop offset="0.5" stop-color="#80ff80"/><stop offset="0.53" stop-color="#60ff9f"/><stop offset="0.56" stop-color="#40ffbf"/><stop offset="0.59" stop-color="#20ffdf"/><stop offset="0.62" stop-color="#00ffff"/><stop offset="0.66" stop-color="#00dfff"/><stop offset="0.69" stop-color="#00bfff"/><stop offset="0.72" stop-color="#009fff"/><stop offset="0.75" stop-color="#0080ff"/><stop offset="0.78" stop-color="#0060ff"/><stop offset="0.81" stop-color="#0040ff"/><stop offset="0.84" stop-color="#0020ff"/><stop offset="0.88" stop-color="#0000ff"/><stop offset="0.91" stop-color="#0000df"/><stop offset="0.94" stop-color="#0000bf"/><stop offset="0.97" stop-color="#00009f"/><stop offset="1" stop-color="#000080"/></linearGradient>
<clipPath id="c92"><rect x="246.2" y="427.3" width="116.4" height="92.6"/></clipPath>
<filter id="f93" x="-100%" y="-100%" width="300%" height="300%"><feGaussianBlur stdDeviation="8"/></filter>
<filter id="f94" x="-100%" y="-100%" width="300%" height="300%"><feGaussianBlur stdDeviation="4"/></filter>
<filter id="f95" x="-100%" y="-100%" width="300%" height="300%"><feGaussianBlur stdDeviation="4.5"/></filter>
<filter id="f96" x="-100%" y="-100%" width="300%" height="300%"><feGaussianBlur stdDeviation="3.2"/></filter>
<filter id="f97" x="-100%" y="-100%" width="300%" height="300%"><feGaussianBlur stdDeviation="4"/></filter>
<linearGradient id="g99" gradientUnits="userSpaceOnUse" x1="246.2" x2="362.6" y1="0" y2="0"><stop offset="-0" stop-color="#00008d" stop-opacity="0.18"/><stop offset="0.43" stop-color="#00008d" stop-opacity="0.18"/><stop offset="0.45" stop-color="#00008e" stop-opacity="0.2"/><stop offset="0.47" stop-color="#00008f" stop-opacity="0.22"/><stop offset="0.49" stop-color="#000090" stop-opacity="0.24"/><stop offset="0.51" stop-color="#000091" stop-opacity="0.26"/><stop offset="0.54" stop-color="#000091" stop-opacity="0.27"/><stop offset="0.57" stop-color="#000092" stop-opacity="0.27"/><stop offset="0.6" stop-color="#000092" stop-opacity="0.28"/><stop offset="0.64" stop-color="#000092" stop-opacity="0.28"/><stop offset="0.66" stop-color="#000091" stop-opacity="0.26"/><stop offset="0.69" stop-color="#00008f" stop-opacity="0.22"/><stop offset="0.71" stop-color="#00008d" stop-opacity="0.18"/><stop offset="0.74" stop-color="#00008b" stop-opacity="0.15"/><stop offset="0.76" stop-color="#000089" stop-opacity="0.1"/><stop offset="0.78" stop-color="#000086" stop-opacity="0.05"/><stop offset="0.81" stop-color="#000083" stop-opacity="0"/><stop offset="0.84" stop-color="#000082" stop-opacity="0"/><stop offset="0.86" stop-color="#000081" stop-opacity="0"/><stop offset="0.93" stop-color="#000081" stop-opacity="0"/><stop offset="0.95" stop-color="#000082" stop-opacity="0"/><stop offset="0.97" stop-color="#000081" stop-opacity="0"/><stop offset="1" stop-color="#000081" stop-opacity="0"/></linearGradient>
<linearGradient id="g100" gradientUnits="userSpaceOnUse" x1="246.2" x2="362.6" y1="0" y2="0"><stop offset="-0" stop-color="#0000a8" stop-opacity="0.71"/><stop offset="0.24" stop-color="#0000a8" stop-opacity="0.71"/><stop offset="0.26" stop-color="#0000a8" stop-opacity="0.7"/><stop offset="0.31" stop-color="#0000a8" stop-opacity="0.7"/><stop offset="0.34" stop-color="#0000a7" stop-opacity="0.7"/><stop offset="0.43" stop-color="#0000a7" stop-opacity="0.7"/><stop offset="0.45" stop-color="#0000a9" stop-opacity="0.73"/><stop offset="0.47" stop-color="#0000a9" stop-opacity="0.74"/><stop offset="0.49" stop-color="#0000aa" stop-opacity="0.74"/><stop offset="0.51" stop-color="#0000aa" stop-opacity="0.75"/><stop offset="0.54" stop-color="#0000a9" stop-opacity="0.74"/><stop offset="0.57" stop-color="#0000a9" stop-opacity="0.73"/><stop offset="0.6" stop-color="#0000a8" stop-opacity="0.71"/><stop offset="0.63" stop-color="#0000a6" stop-opacity="0.68"/><stop offset="0.64" stop-color="#0000a5" stop-opacity="0.66"/><stop offset="0.66" stop-color="#0000a3" stop-opacity="0.62"/><stop offset="0.69" stop-color="#00009f" stop-opacity="0.54"/><stop offset="0.71" stop-color="#00009c" stop-opacity="0.47"/><stop offset="0.74" stop-color="#000098" stop-opacity="0.39"/><stop offset="0.76" stop-color="#000093" stop-opacity="0.29"/><stop offset="0.78" stop-color="#00008e" stop-opacity="0.19"/><stop offset="0.81" stop-color="#000087" stop-opacity="0.07"/><stop offset="0.84" stop-color="#000084" stop-opacity="0.01"/><stop offset="0.86" stop-color="#000084" stop-opacity="0"/><stop offset="0.89" stop-color="#000083" stop-opacity="0"/><stop offset="0.93" stop-color="#000083" stop-opacity="0"/><stop offset="0.95" stop-color="#000085" stop-opacity="0.03"/><stop offset="0.97" stop-color="#000083" stop-opacity="0"/><stop offset="1" stop-color="#000082" stop-opacity="0"/></linearGradient>
<linearGradient id="g101" gradientUnits="userSpaceOnUse" x1="246.2" x2="362.6" y1="0" y2="0"><stop offset="-0" stop-color="#0000c7" stop-opacity="1"/><stop offset="0.43" stop-color="#0000c7" stop-opacity="1"/><stop offset="0.45" stop-color="#0000c8" stop-opacity="1"/><stop offset="0.51" stop-color="#0000c8" stop-opacity="1"/><stop offset="0.54" stop-color="#0000c7" stop-opacity="1"/><stop offset="0.57" stop-color="#0000c5" stop-opacity="1"/><stop offset="0.6" stop-color="#0000c2" stop-opacity="1"/><stop offset="0.63" stop-color="#0000bf" stop-opacity="1"/><stop offset="0.64" stop-color="#0000be" stop-opacity="1"/><stop offset="0.66" stop-color="#0000ba" stop-opacity="1"/><stop offset="0.69" stop-color="#0000b4" stop-opacity="0.94"/><stop offset="0.71" stop-color="#0000ae" stop-opacity="0.82"/><stop offset="0.74" stop-color="#0000a7" stop-opacity="0.7"/><stop offset="0.76" stop-color="#00009f" stop-opacity="0.53"/><stop offset="0.78" stop-color="#000097" stop-opacity="0.37"/><stop offset="0.81" stop-color="#00008c" stop-opacity="0.17"/><stop offset="0.84" stop-color="#000087" stop-opacity="0.06"/><stop offset="0.86" stop-color="#000086" stop-opacity="0.05"/><stop offset="0.89" stop-color="#000086" stop-opacity="0.04"/><stop offset="0.91" stop-color="#000085" stop-opacity="0.03"/><stop offset="0.93" stop-color="#000085" stop-opacity="0.02"/><stop offset="0.95" stop-color="#000089" stop-opacity="0.1"/><stop offset="0.97" stop-color="#000085" stop-opacity="0.02"/><stop offset="1" stop-color="#000084" stop-opacity="0"/></linearGradient>
<linearGradient id="g102" gradientUnits="userSpaceOnUse" x1="246.2" x2="362.6" y1="0" y2="0"><stop offset="-0" stop-color="#0000ef" stop-opacity="1"/><stop offset="0.37" stop-color="#0000ef" stop-opacity="1"/><stop offset="0.39" stop-color="#0000ee" stop-opacity="1"/><stop offset="0.43" stop-color="#0000ee" stop-opacity="1"/><stop offset="0.45" stop-color="#0000f1" stop-opacity="1"/><stop offset="0.47" stop-color="#0000f1" stop-opacity="1"/><stop offset="0.49" stop-color="#0000f2" stop-opacity="1"/><stop offset="0.51" stop-color="#0000f2" stop-opacity="1"/><stop offset="0.54" stop-color="#0000ef" stop-opacity="1"/><stop offset="0.57" stop-color="#0000ed" stop-opacity="1"/><stop offset="0.6" stop-color="#0000e9" stop-opacity="1"/><stop offset="0.63" stop-color="#0000e5" stop-opacity="1"/><stop offset="0.64" stop-color="#0000e2" stop-opacity="1"/><stop offset="0.66" stop-color="#0000dc" stop-opacity="1"/><stop offset="0.69" stop-color="#0000d2" stop-opacity="1"/><stop offset="0.71" stop-color="#0000c8" stop-opacity="1"/><stop offset="0.74" stop-color="#0000be" stop-opacity="1"/><stop offset="0.76" stop-color="#0000b1" stop-opacity="0.89"/><stop offset="0.78" stop-color="#0000a4" stop-opacity="0.64"/><stop offset="0.81" stop-color="#000093" stop-opacity="0.31"/><stop offset="0.84" stop-color="#00008b" stop-opacity="0.15"/><stop offset="0.86" stop-color="#00008a" stop-opacity="0.13"/><stop offset="0.89" stop-color="#000089" stop-opacity="0.12"/><stop offset="0.91" stop-color="#000089" stop-opacity="0.1"/><stop offset="0.93" stop-color="#000088" stop-opacity="0.08"/><stop offset="0.95" stop-color="#00008e" stop-opacity="0.21"/><stop offset="0.97" stop-color="#000088" stop-opacity="0.08"/><stop offset="1" stop-color="#000086" stop-opacity="0.05"/></linearGradient>
<linearGradient id="g103" gradientUnits="userSpaceOnUse" x1="246.2" x2="362.6" y1="0" y2="0"><stop offset="-0" stop-color="#0033ff" stop-opacity="1"/><stop offset="0.21" stop-color="#0033ff" stop-opacity="1"/><stop offset="0.24" stop-color="#0032ff" stop-opacity="1"/><stop offset="0.43" stop-color="#0032ff" stop-opacity="1"/><stop offset="0.45" stop-color="#0037ff" stop-opacity="1"/><stop offset="0.47" stop-color="#003aff" stop-opacity="1"/><stop offset="0.49" stop-color="#003bff" stop-opacity="1"/><stop offset="0.51" stop-color="#003dff" stop-opacity="1"/><stop offset="0.54" stop-color="#003bff" stop-opacity="1"/><stop offset="0.57" stop-color="#0038ff" stop-opacity="1"/><stop offset="0.6" stop-color="#0033ff" stop-opacity="1"/><stop offset="0.63" stop-color="#002dff" stop-opacity="1"/><stop offset="0.64" stop-color="#0029ff" stop-opacity="1"/><stop offset="0.66" stop-color="#001fff" stop-opacity="1"/><stop offset="0.69" stop-color="#000eff" stop-opacity="1"/><stop offset="0.71" stop-color="#0000fc" stop-opacity="1"/><stop offset="0.74" stop-color="#0000eb" stop-opacity="1"/><stop offset="0.76" stop-color="#0000d4" stop-opacity="1"/><stop offset="0.78" stop-color="#0000be" stop-opacity="1"/><stop offset="0.81" stop-color="#0000a1" stop-opacity="0.59"/><stop offset="0.84" stop-color="#000093" stop-opacity="0.31"/><stop offset="0.86" stop-color="#000092" stop-opacity="0.28"/><stop offset="0.89" stop-color="#000090" stop-opacity="0.25"/><stop offset="0.91" stop-color="#00008f" stop-opacity="0.23"/><stop offset="0.93" stop-color="#00008e" stop-opacity="0.2"/><stop offset="0.95" stop-color="#000099" stop-opacity="0.42"/><stop offset="0.97" stop-color="#00008e" stop-opacity="0.2"/><stop offset="1" stop-color="#00008b" stop-opacity="0.14"/></linearGradient>
<linearGradient id="g104" gradientUnits="userSpaceOnUse" x1="246.2" x2="362.6" y1="0" y2="0"><stop offset="-0" stop-color="#00bdff" stop-opacity="1"/><stop offset="0.18" stop-color="#00bdff" stop-opacity="1"/><stop offset="0.21" stop-color="#00bcff" stop-opacity="1"/><stop offset="0.43" stop-color="#00bcff" stop-opacity="1"/><stop offset="0.45" stop-color="#00c2ff" stop-opacity="1"/><stop offset="0.49" stop-color="#00c2ff" stop-opacity="1"/><stop offset="0.51" stop-color="#00c1ff" stop-opacity="1"/><stop offset="0.54" stop-color="#00baff" stop-opacity="1"/><stop offset="0.57" stop-color="#00b2ff" stop-opacity="1"/><stop offset="0.6" stop-color="#00a6ff" stop-opacity="1"/><stop offset="0.63" stop-color="#0099ff" stop-opacity="1"/><stop offset="0.64" stop-color="#0092ff" stop-opacity="1"/><stop offset="0.66" stop-color="#0082ff" stop-opacity="1"/><stop offset="0.69" stop-color="#0066ff" stop-opacity="1"/><stop offset="0.71" stop-color="#004aff" stop-opacity="1"/><stop offset="0.74" stop-color="#002fff" stop-opacity="1"/><stop offset="0.76" stop-color="#000aff" stop-opacity="1"/><stop offset="0.78" stop-color="#0000e4" stop-opacity="1"/><stop offset="0.81" stop-color="#0000b7" stop-opacity="1"/><stop offset="0.84" stop-color="#0000a0" stop-opacity="0.55"/><stop offset="0.86" stop-color="#00009d" stop-opacity="0.51"/><stop offset="0.89" stop-color="#00009b" stop-opacity="0.46"/><stop offset="0.91" stop-color="#000099" stop-opacity="0.42"/><stop offset="0.93" stop-color="#000096" stop-opacity="0.37"/><stop offset="0.95" stop-color="#0000a9" stop-opacity="0.73"/><stop offset="0.97" stop-color="#000096" stop-opacity="0.37"/><stop offset="1" stop-color="#000092" stop-opacity="0.28"/></linearGradient>
<linearGradient id="g105" gradientUnits="userSpaceOnUse" x1="246.2" x2="362.6" y1="0" y2="0"><stop offset="-0" stop-color="#7eff81" stop-opacity="1"/><stop offset="0.1" stop-color="#7eff81" stop-opacity="1"/><stop offset="0.13" stop-color="#7dff82" stop-opacity="1"/><stop offset="0.26" stop-color="#7dff82" stop-opacity="1"/><stop offset="0.29" stop-color="#7cff83" stop-opacity="1"/><stop offset="0.39" stop-color="#7cff83" stop-opacity="1"/><stop offset="0.42" stop-color="#7bff84" stop-opacity="1"/><stop offset="0.43" stop-color="#7bff84" stop-opacity="1"/><stop offset="0.45" stop-color="#86ff79" stop-opacity="1"/><stop offset="0.47" stop-color="#86ff79" stop-opacity="1"/><stop offset="0.49" stop-color="#85ff7a" stop-opacity="1"/><stop offset="0.51" stop-color="#83ff7c" stop-opacity="1"/><stop offset="0.54" stop-color="#78ff87" stop-opacity="1"/><stop offset="0.57" stop-color="#6bff94" stop-opacity="1"/><stop offset="0.6" stop-color="#58ffa7" stop-opacity="1"/><stop offset="0.63" stop-color="#43ffbc" stop-opacity="1"/><stop offset="0.64" stop-color="#37ffc8" stop-opacity="1"/><stop offset="0.66" stop-color="#1dffe2" stop-opacity="1"/><stop offset="0.69" stop-color="#00f0ff" stop-opacity="1"/><stop offset="0.71" stop-color="#00c4ff" stop-opacity="1"/><stop offset="0.74" stop-color="#0098ff" stop-opacity="1"/><stop offset="0.76" stop-color="#005dff" stop-opacity="1"/><stop offset="0.78" stop-color="#0022ff" stop-opacity="1"/><stop offset="0.81" stop-color="#0000d8" stop-opacity="1"/><stop offset="0.84" stop-color="#0000b3" stop-opacity="0.93"/><stop offset="0.86" stop-color="#0000af" stop-opacity="0.86"/><stop offset="0.89" stop-color="#0000ac" stop-opacity="0.78"/><stop offset="0.91" stop-color="#0000a8" stop-opacity="0.71"/><stop offset="0.93" stop-color="#0000a4" stop-opacity="0.64"/><stop offset="0.95" stop-color="#0000c2" stop-opacity="1"/><stop offset="0.97" stop-color="#0000a4" stop-opacity="0.64"/><stop offset="1" stop-color="#00009d" stop-opacity="0.5"/></linearGradient>
<linearGradient id="g106" gradientUnits="userSpaceOnUse" x1="246.2" x2="362.6" y1="0" y2="0"><stop offset="-0" stop-color="#ff7d00" stop-opacity="1"/><stop offset="0.05" stop-color="#ff7d00" stop-opacity="1"/><stop offset="0.08" stop-color="#ff7e00" stop-opacity="1"/><stop offset="0.13" stop-color="#ff7e00" stop-opacity="1"/><stop offset="0.16" stop-color="#ff7f00" stop-opacity="1"/><stop offset="0.24" stop-color="#ff7f00" stop-opacity="1"/><stop offset="0.26" stop-color="#ff8000" stop-opacity="1"/><stop offset="0.34" stop-color="#ff8000" stop-opacity="1"/><stop offset="0.37" stop-color="#ff8100" stop-opacity="1"/><stop offset="0.43" stop-color="#ff8100" stop-opacity="1"/><stop offset="0.45" stop-color="#ff7b00" stop-opacity="1"/><stop offset="0.47" stop-color="#ff8700" stop-opacity="1"/><stop offset="0.49" stop-color="#ff9400" stop-opacity="1"/><stop offset="0.51" stop-color="#ffa200" stop-opacity="1"/><stop offset="0.54" stop-color="#ffbe00" stop-opacity="1"/><stop offset="0.57" stop-color="#ffdb00" stop-opacity="1"/><stop offset="0.6" stop-color="#feff01" stop-opacity="1"/><stop offset="0.63" stop-color="#d7ff28" stop-opacity="1"/><stop offset="0.64" stop-color="#c3ff3c" stop-opacity="1"/><stop offset="0.66" stop-color="#a0ff5f" stop-opacity="1"/><stop offset="0.69" stop-color="#66ff99" stop-opacity="1"/><stop offset="0.71" stop-color="#2cffd3" stop-opacity="1"/><stop offset="0.74" stop-color="#00f1ff" stop-opacity="1"/><stop offset="0.76" stop-color="#00a3ff" stop-opacity="1"/><stop offset="0.78" stop-color="#0056ff" stop-opacity="1"/><stop offset="0.81" stop-color="#0000f4" stop-opacity="1"/><stop offset="0.84" stop-color="#0000c3" stop-opacity="1"/><stop offset="0.86" stop-color="#0000be" stop-opacity="1"/><stop offset="0.89" stop-color="#0000ba" stop-opacity="1"/><stop offset="0.91" stop-color="#0000b5" stop-opacity="0.96"/><stop offset="0.93" stop-color="#0000b0" stop-opacity="0.87"/><stop offset="0.95" stop-color="#0000d7" stop-opacity="1"/><stop offset="0.97" stop-color="#0000b0" stop-opacity="0.87"/><stop offset="1" stop-color="#0000a6" stop-opacity="0.68"/></linearGradient>
<linearGradient id="g107" gradientUnits="userSpaceOnUse" x1="246.2" x2="362.6" y1="0" y2="0"><stop offset="-0" stop-color="#ff0000" stop-opacity="1"/><stop offset="0.03" stop-color="#ff0000" stop-opacity="1"/><stop offset="0.05" stop-color="#ff0100" stop-opacity="1"/><stop offset="0.1" stop-color="#ff0100" stop-opacity="1"/><stop offset="0.13" stop-color="#ff0200" stop-opacity="1"/><stop offset="0.21" stop-color="#ff0200" stop-opacity="1"/><stop offset="0.24" stop-color="#ff0300" stop-opacity="1"/><stop offset="0.29" stop-color="#ff0300" stop-opacity="1"/><stop offset="0.31" stop-color="#ff0400" stop-opacity="1"/><stop offset="0.37" stop-color="#ff0400" stop-opacity="1"/><stop offset="0.39" stop-color="#ff0500" stop-opacity="1"/><stop offset="0.45" stop-color="#ff0500" stop-opacity="1"/><stop offset="0.47" stop-color="#ff1d00" stop-opacity="1"/><stop offset="0.49" stop-color="#ff3500" stop-opacity="1"/><stop offset="0.51" stop-color="#ff4c00" stop-opacity="1"/><stop offset="0.54" stop-color="#ff7500" stop-opacity="1"/><stop offset="0.57" stop-color="#ff9e00" stop-opacity="1"/><stop offset="0.6" stop-color="#ffd100" stop-opacity="1"/><stop offset="0.63" stop-color="#faff05" stop-opacity="1"/><stop offset="0.64" stop-color="#e1ff1e" stop-opacity="1"/><stop offset="0.66" stop-color="#bdff42" stop-opacity="1"/><stop offset="0.69" stop-color="#80ff80" stop-opacity="1"/><stop offset="0.71" stop-color="#42ffbd" stop-opacity="1"/><stop offset="0.74" stop-color="#05fffa" stop-opacity="1"/><stop offset="0.76" stop-color="#00b2ff" stop-opacity="1"/><stop offset="0.78" stop-color="#0061ff" stop-opacity="1"/><stop offset="0.81" stop-color="#0000fa" stop-opacity="1"/><stop offset="0.84" stop-color="#0000c7" stop-opacity="1"/><stop offset="0.86" stop-color="#0000c2" stop-opacity="1"/><stop offset="0.89" stop-color="#0000bd" stop-opacity="1"/><stop offset="0.91" stop-color="#0000b8" stop-opacity="1"/><stop offset="0.93" stop-color="#0000b2" stop-opacity="0.92"/><stop offset="0.95" stop-color="#0000db" stop-opacity="1"/><stop offset="0.97" stop-color="#0000b2" stop-opacity="0.92"/><stop offset="1" stop-color="#0000a8" stop-opacity="0.72"/></linearGradient>
<linearGradient id="g108" gradientUnits="userSpaceOnUse" x1="246.2" x2="362.6" y1="0" y2="0"><stop offset="-0" stop-color="#ff0000" stop-opacity="1"/><stop offset="0.03" stop-color="#ff0000" stop-opacity="1"/><stop offset="0.05" stop-color="#ff0100" stop-opacity="1"/><stop offset="0.1" stop-color="#ff0100" stop-opacity="1"/><stop offset="0.13" stop-color="#ff0200" stop-opacity="1"/><stop offset="0.21" stop-color="#ff0200" stop-opacity="1"/><stop offset="0.24" stop-color="#ff0300" stop-opacity="1"/><stop offset="0.29" stop-color="#ff0300" stop-opacity="1"/><stop offset="0.31" stop-color="#ff0400" stop-opacity="1"/><stop offset="0.37" stop-color="#ff0400" stop-opacity="1"/><stop offset="0.39" stop-color="#ff0500" stop-opacity="1"/><stop offset="0.45" stop-color="#ff0500" stop-opacity="1"/><stop offset="0.47" stop-color="#ff1d00" stop-opacity="1"/><stop offset="0.49" stop-color="#ff3500" stop-opacity="1"/><stop offset="0.51" stop-color="#ff4c00" stop-opacity="1"/><stop offset="0.54" stop-color="#ff7500" stop-opacity="1"/><stop offset="0.57" stop-color="#ff9e00" stop-opacity="1"/><stop offset="0.6" stop-color="#ffd100" stop-opacity="1"/><stop offset="0.63" stop-color="#faff05" stop-opacity="1"/><stop offset="0.64" stop-color="#e1ff1e" stop-opacity="1"/><stop offset="0.66" stop-color="#bdff42" stop-opacity="1"/><stop offset="0.69" stop-color="#80ff80" stop-opacity="1"/><stop offset="0.71" stop-color="#42ffbd" stop-opacity="1"/><stop offset="0.74" stop-color="#05fffa" stop-opacity="1"/><stop offset="0.76" stop-color="#00b2ff" stop-opacity="1"/><stop offset="0.78" stop-color="#0061ff" stop-opacity="1"/><stop offset="0.81" stop-color="#0000fa" stop-opacity="1"/><stop offset="0.84" stop-color="#0000c7" stop-opacity="1"/><stop offset="0.86" stop-color="#0000c2" stop-opacity="1"/><stop offset="0.89" stop-color="#0000bd" stop-opacity="1"/><stop offset="0.91" stop-color="#0000b8" stop-opacity="1"/><stop offset="0.93" stop-color="#0000b2" stop-opacity="0.92"/><stop offset="0.95" stop-color="#0000db" stop-opacity="1"/><stop offset="0.97" stop-color="#0000b2" stop-opacity="0.92"/><stop offset="1" stop-color="#0000a8" stop-opacity="0.72"/></linearGradient>
<linearGradient id="g109" gradientUnits="userSpaceOnUse" x1="246.2" x2="362.6" y1="0" y2="0"><stop offset="-0" stop-color="#ff0000" stop-opacity="1"/><stop offset="0.03" stop-color="#ff0000" stop-opacity="1"/><stop offset="0.05" stop-color="#ff0100" stop-opacity="1"/><stop offset="0.1" stop-color="#ff0100" stop-opacity="1"/><stop offset="0.13" stop-color="#ff0200" stop-opacity="1"/><stop offset="0.21" stop-color="#ff0200" stop-opacity="1"/><stop offset="0.24" stop-color="#ff0300" stop-opacity="1"/><stop offset="0.29" stop-color="#ff0300" stop-opacity="1"/><stop offset="0.31" stop-color="#ff0400" stop-opacity="1"/><stop offset="0.37" stop-color="#ff0400" stop-opacity="1"/><stop offset="0.39" stop-color="#ff0500" stop-opacity="1"/><stop offset="0.43" stop-color="#ff0500" stop-opacity="1"/><stop offset="0.45" stop-color="#ff0900" stop-opacity="1"/><stop offset="0.47" stop-color="#ff2500" stop-opacity="1"/><stop offset="0.49" stop-color="#ff4100" stop-opacity="1"/><stop offset="0.51" stop-color="#ff5d00" stop-opacity="1"/><stop offset="0.54" stop-color="#ff8900" stop-opacity="1"/><stop offset="0.57" stop-color="#ffb600" stop-opacity="1"/><stop offset="0.6" stop-color="#ffec00" stop-opacity="1"/><stop offset="0.63" stop-color="#dcff23" stop-opacity="1"/><stop offset="0.64" stop-color="#c3ff3c" stop-opacity="1"/><stop offset="0.66" stop-color="#a0ff5f" stop-opacity="1"/><stop offset="0.69" stop-color="#66ff99" stop-opacity="1"/><stop offset="0.71" stop-color="#2cffd3" stop-opacity="1"/><stop offset="0.74" stop-color="#00f1ff" stop-opacity="1"/><stop offset="0.76" stop-color="#00a3ff" stop-opacity="1"/><stop offset="0.78" stop-color="#0056ff" stop-opacity="1"/><stop offset="0.81" stop-color="#0000f4" stop-opacity="1"/><stop offset="0.84" stop-color="#0000c3" stop-opacity="1"/><stop offset="0.86" stop-color="#0000be" stop-opacity="1"/><stop offset="0.89" stop-color="#0000ba" stop-opacity="1"/><stop offset="0.91" stop-color="#0000b5" stop-opacity="0.96"/><stop offset="0.93" stop-color="#0000b0" stop-opacity="0.87"/><stop offset="0.95" stop-color="#0000d7" stop-opacity="1"/><stop offset="0.97" stop-color="#0000b0" stop-opacity="0.87"/><stop offset="1" stop-color="#0000a6" stop-opacity="0.68"/></linearGradient>
<linearGradient id="g110" gradientUnits="userSpaceOnUse" x1="246.2" x2="362.6" y1="0" y2="0"><stop offset="-0" stop-color="#ff7d00" stop-opacity="1"/><stop offset="0.05" stop-color="#ff7d00" stop-opacity="1"/><stop offset="0.08" stop-color="#ff7e00" stop-opacity="1"/><stop offset="0.13" stop-color="#ff7e00" stop-opacity="1"/><stop offset="0.16" stop-color="#ff7f00" stop-opacity="1"/><stop offset="0.24" stop-color="#ff7f00" stop-opacity="1"/><stop offset="0.26" stop-color="#ff8000" stop-opacity="1"/><stop offset="0.34" stop-color="#ff8000" stop-opacity="1"/><stop offset="0.37" stop-color="#ff8100" stop-opacity="1"/><stop offset="0.43" stop-color="#ff8100" stop-opacity="1"/><stop offset="0.45" stop-color="#ff8b00" stop-opacity="1"/><stop offset="0.47" stop-color="#ffac00" stop-opacity="1"/><stop offset="0.49" stop-color="#ffcc00" stop-opacity="1"/><stop offset="0.51" stop-color="#ffec00" stop-opacity="1"/><stop offset="0.54" stop-color="#e4ff1b" stop-opacity="1"/><stop offset="0.57" stop-color="#b7ff48" stop-opacity="1"/><stop offset="0.6" stop-color="#82ff7d" stop-opacity="1"/><stop offset="0.63" stop-color="#4effb1" stop-opacity="1"/><stop offset="0.64" stop-color="#37ffc8" stop-opacity="1"/><stop offset="0.66" stop-color="#1dffe2" stop-opacity="1"/><stop offset="0.69" stop-color="#00f0ff" stop-opacity="1"/><stop offset="0.71" stop-color="#00c4ff" stop-opacity="1"/><stop offset="0.74" stop-color="#0098ff" stop-opacity="1"/><stop offset="0.76" stop-color="#005dff" stop-opacity="1"/><stop offset="0.78" stop-color="#0022ff" stop-opacity="1"/><stop offset="0.81" stop-color="#0000d8" stop-opacity="1"/><stop offset="0.84" stop-color="#0000b3" stop-opacity="0.93"/><stop offset="0.86" stop-color="#0000af" stop-opacity="0.86"/><stop offset="0.89" stop-color="#0000ac" stop-opacity="0.78"/><stop offset="0.91" stop-color="#0000a8" stop-opacity="0.71"/><stop offset="0.93" stop-color="#0000a4" stop-opacity="0.64"/><stop offset="0.95" stop-color="#0000c2" stop-opacity="1"/><stop offset="0.97" stop-color="#0000a4" stop-opacity="0.64"/><stop offset="1" stop-color="#00009d" stop-opacity="0.5"/></linearGradient>
<linearGradient id="g111" gradientUnits="userSpaceOnUse" x1="246.2" x2="362.6" y1="0" y2="0"><stop offset="-0" stop-color="#7eff81" stop-opacity="1"/><stop offset="0.1" stop-color="#7eff81" stop-opacity="1"/><stop offset="0.13" stop-color="#7dff82" stop-opacity="1"/><stop offset="0.26" stop-color="#7dff82" stop-opacity="1"/><stop offset="0.29" stop-color="#7cff83" stop-opacity="1"/><stop offset="0.39" stop-color="#7cff83" stop-opacity="1"/><stop offset="0.42" stop-color="#7bff84" stop-opacity="1"/><stop offset="0.43" stop-color="#7bff84" stop-opacity="1"/><stop offset="0.45" stop-color="#73ff8c" stop-opacity="1"/><stop offset="0.47" stop-color="#5bffa4" stop-opacity="1"/><stop offset="0.49" stop-color="#43ffbc" stop-opacity="1"/><stop offset="0.51" stop-color="#2cffd3" stop-opacity="1"/><stop offset="0.54" stop-color="#0bfff4" stop-opacity="1"/><stop offset="0.57" stop-color="#00ebff" stop-opacity="1"/><stop offset="0.6" stop-color="#00c5ff" stop-opacity="1"/><stop offset="0.63" stop-color="#00a2ff" stop-opacity="1"/><stop offset="0.64" stop-color="#0092ff" stop-opacity="1"/><stop offset="0.66" stop-color="#0082ff" stop-opacity="1"/><stop offset="0.69" stop-color="#0066ff" stop-opacity="1"/><stop offset="0.71" stop-color="#004aff" stop-opacity="1"/><stop offset="0.74" stop-color="#002fff" stop-opacity="1"/><stop offset="0.76" stop-color="#000aff" stop-opacity="1"/><stop offset="0.78" stop-color="#0000e4" stop-opacity="1"/><stop offset="0.81" stop-color="#0000b7" stop-opacity="1"/><stop offset="0.84" stop-color="#0000a0" stop-opacity="0.55"/><stop offset="0.86" stop-color="#00009d" stop-opacity="0.51"/><stop offset="0.89" stop-color="#00009b" stop-opacity="0.46"/><stop offset="0.91" stop-color="#000099" stop-opacity="0.42"/><stop offset="0.93" stop-color="#000096" stop-opacity="0.37"/><stop offset="0.95" stop-color="#0000a9" stop-opacity="0.73"/><stop offset="0.97" stop-color="#000096" stop-opacity="0.37"/><stop offset="1" stop-color="#000092" stop-opacity="0.28"/></linearGradient>
<linearGradient id="g112" gradientUnits="userSpaceOnUse" x1="246.2" x2="362.6" y1="0" y2="0"><stop offset="-0" stop-color="#00bdff" stop-opacity="1"/><stop offset="0.18" stop-color="#00bdff" stop-opacity="1"/><stop offset="0.21" stop-color="#00bcff" stop-opacity="1"/><stop offset="0.43" stop-color="#00bcff" stop-opacity="1"/><stop offset="0.45" stop-color="#00b6ff" stop-opacity="1"/><stop offset="0.47" stop-color="#00a7ff" stop-opacity="1"/><stop offset="0.49" stop-color="#0098ff" stop-opacity="1"/><stop offset="0.51" stop-color="#0089ff" stop-opacity="1"/><stop offset="0.54" stop-color="#0075ff" stop-opacity="1"/><stop offset="0.57" stop-color="#0061ff" stop-opacity="1"/><stop offset="0.6" stop-color="#0049ff" stop-opacity="1"/><stop offset="0.63" stop-color="#0033ff" stop-opacity="1"/><stop offset="0.64" stop-color="#0029ff" stop-opacity="1"/><stop offset="0.66" stop-color="#001fff" stop-opacity="1"/><stop offset="0.69" stop-color="#000eff" stop-opacity="1"/><stop offset="0.71" stop-color="#0000fc" stop-opacity="1"/><stop offset="0.74" stop-color="#0000eb" stop-opacity="1"/><stop offset="0.76" stop-color="#0000d4" stop-opacity="1"/><stop offset="0.78" stop-color="#0000be" stop-opacity="1"/><stop offset="0.81" stop-color="#0000a1" stop-opacity="0.59"/><stop offset="0.84" stop-color="#000093" stop-opacity="0.31"/><stop offset="0.86" stop-color="#000092" stop-opacity="0.28"/><stop offset="0.89" stop-color="#000090" stop-opacity="0.25"/><stop offset="0.91" stop-color="#00008f" stop-opacity="0.23"/><stop offset="0.93" stop-color="#00008e" stop-opacity="0.2"/><stop offset="0.95" stop-color="#000099" stop-opacity="0.42"/><stop offset="0.97" stop-color="#00008e" stop-opacity="0.2"/><stop offset="1" stop-color="#00008b" stop-opacity="0.14"/></linearGradient>
<linearGradient id="g113" gradientUnits="userSpaceOnUse" x1="246.2" x2="362.6" y1="0" y2="0"><stop offset="-0" stop-color="#0033ff" stop-opacity="1"/><stop offset="0.21" stop-color="#0033ff" stop-opacity="1"/><stop offset="0.24" stop-color="#0032ff" stop-opacity="1"/><stop offset="0.43" stop-color="#0032ff" stop-opacity="1"/><stop offset="0.45" stop-color="#002fff" stop-opacity="1"/><stop offset="0.47" stop-color="#0027ff" stop-opacity="1"/><stop offset="0.49" stop-color="#001fff" stop-opacity="1"/><stop offset="0.51" stop-color="#0018ff" stop-opacity="1"/><stop offset="0.54" stop-color="#000cff" stop-opacity="1"/><stop offset="0.57" stop-color="#0002ff" stop-opacity="1"/><stop offset="0.6" stop-color="#0000f4" stop-opacity="1"/><stop offset="0.63" stop-color="#0000e8" stop-opacity="1"/><stop offset="0.64" stop-color="#0000e2" stop-opacity="1"/><stop offset="0.66" stop-color="#0000dc" stop-opacity="1"/><stop offset="0.69" stop-color="#0000d2" stop-opacity="1"/><stop offset="0.71" stop-color="#0000c8" stop-opacity="1"/><stop offset="0.74" stop-color="#0000be" stop-opacity="1"/><stop offset="0.76" stop-color="#0000b1" stop-opacity="0.89"/><stop offset="0.78" stop-color="#0000a4" stop-opacity="0.64"/><stop offset="0.81" stop-color="#000093" stop-opacity="0.31"/><stop offset="0.84" stop-color="#00008b" stop-opacity="0.15"/><stop offset="0.86" stop-color="#00008a" stop-opacity="0.13"/><stop offset="0.89" stop-color="#000089" stop-opacity="0.12"/><stop offset="0.91" stop-color="#000089" stop-opacity="0.1"/><stop offset="0.93" stop-color="#000088" stop-opacity="0.08"/><stop offset="0.95" stop-color="#00008e" stop-opacity="0.21"/><stop offset="0.97" stop-color="#000088" stop-opacity="0.08"/><stop offset="1" stop-color="#000086" stop-opacity="0.05"/></linearGradient>
<linearGradient id="g114" gradientUnits="userSpaceOnUse" x1="246.2" x2="362.6" y1="0" y2="0"><stop offset="-0" stop-color="#0000ef" stop-opacity="1"/><stop offset="0.37" stop-color="#0000ef" stop-opacity="1"/><stop offset="0.39" stop-color="#0000ee" stop-opacity="1"/><stop offset="0.43" stop-color="#0000ee" stop-opacity="1"/><stop offset="0.45" stop-color="#0000ed" stop-opacity="1"/><stop offset="0.47" stop-color="#0000e8" stop-opacity="1"/><stop offset="0.49" stop-color="#0000e3" stop-opacity="1"/><stop offset="0.51" stop-color="#0000de" stop-opacity="1"/><stop offset="0.54" stop-color="#0000d7" stop-opacity="1"/><stop offset="0.57" stop-color="#0000d1" stop-opacity="1"/><stop offset="0.6" stop-color="#0000c9" stop-opacity="1"/><stop offset="0.63" stop-color="#0000c1" stop-opacity="1"/><stop offset="0.64" stop-color="#0000be" stop-opacity="1"/><stop offset="0.66" stop-color="#0000ba" stop-opacity="1"/><stop offset="0.69" stop-color="#0000b4" stop-opacity="0.94"/><stop offset="0.71" stop-color="#0000ae" stop-opacity="0.82"/><stop offset="0.74" stop-color="#0000a7" stop-opacity="0.7"/><stop offset="0.76" stop-color="#00009f" stop-opacity="0.53"/><stop offset="0.78" stop-color="#000097" stop-opacity="0.37"/><stop offset="0.81" stop-color="#00008c" stop-opacity="0.17"/><stop offset="0.84" stop-color="#000087" stop-opacity="0.06"/><stop offset="0.86" stop-color="#000086" stop-opacity="0.05"/><stop offset="0.89" stop-color="#000086" stop-opacity="0.04"/><stop offset="0.91" stop-color="#000085" stop-opacity="0.03"/><stop offset="0.93" stop-color="#000085" stop-opacity="0.02"/><stop offset="0.95" stop-color="#000089" stop-opacity="0.1"/><stop offset="0.97" stop-color="#000085" stop-opacity="0.02"/><stop offset="1" stop-color="#000084" stop-opacity="0"/></linearGradient>
<linearGradient id="g115" gradientUnits="userSpaceOnUse" x1="246.2" x2="362.6" y1="0" y2="0"><stop offset="-0" stop-color="#0000c7" stop-opacity="1"/><stop offset="0.43" stop-color="#0000c7" stop-opacity="1"/><stop offset="0.45" stop-color="#0000c5" stop-opacity="1"/><stop offset="0.47" stop-color="#0000c2" stop-opacity="1"/><stop offset="0.49" stop-color="#0000be" stop-opacity="1"/><stop offset="0.51" stop-color="#0000bb" stop-opacity="1"/><stop offset="0.54" stop-color="#0000b6" stop-opacity="1"/><stop offset="0.57" stop-color="#0000b2" stop-opacity="0.91"/><stop offset="0.6" stop-color="#0000ad" stop-opacity="0.81"/><stop offset="0.63" stop-color="#0000a8" stop-opacity="0.71"/><stop offset="0.64" stop-color="#0000a5" stop-opacity="0.66"/><stop offset="0.66" stop-color="#0000a3" stop-opacity="0.62"/><stop offset="0.69" stop-color="#00009f" stop-opacity="0.54"/><stop offset="0.71" stop-color="#00009c" stop-opacity="0.47"/><stop offset="0.74" stop-color="#000098" stop-opacity="0.39"/><stop offset="0.76" stop-color="#000093" stop-opacity="0.29"/><stop offset="0.78" stop-color="#00008e" stop-opacity="0.19"/><stop offset="0.81" stop-color="#000087" stop-opacity="0.07"/><stop offset="0.84" stop-color="#000084" stop-opacity="0.01"/><stop offset="0.86" stop-color="#000084" stop-opacity="0"/><stop offset="0.89" stop-color="#000083" stop-opacity="0"/><stop offset="0.93" stop-color="#000083" stop-opacity="0"/><stop offset="0.95" stop-color="#000085" stop-opacity="0.03"/><stop offset="0.97" stop-color="#000083" stop-opacity="0"/><stop offset="1" stop-color="#000082" stop-opacity="0"/></linearGradient>
<linearGradient id="g116" gradientUnits="userSpaceOnUse" x1="246.2" x2="362.6" y1="0" y2="0"><stop offset="-0" stop-color="#0000a8" stop-opacity="0.71"/><stop offset="0.24" stop-color="#0000a8" stop-opacity="0.71"/><stop offset="0.26" stop-color="#0000a8" stop-opacity="0.7"/><stop offset="0.31" stop-color="#0000a8" stop-opacity="0.7"/><stop offset="0.34" stop-color="#0000a7" stop-opacity="0.7"/><stop offset="0.43" stop-color="#0000a7" stop-opacity="0.7"/><stop offset="0.45" stop-color="#0000a6" stop-opacity="0.68"/><stop offset="0.47" stop-color="#0000a4" stop-opacity="0.63"/><stop offset="0.49" stop-color="#0000a2" stop-opacity="0.59"/><stop offset="0.51" stop-color="#00009f" stop-opacity="0.54"/><stop offset="0.54" stop-color="#00009c" stop-opacity="0.49"/><stop offset="0.57" stop-color="#000099" stop-opacity="0.43"/><stop offset="0.6" stop-color="#000096" stop-opacity="0.36"/><stop offset="0.63" stop-color="#000093" stop-opacity="0.3"/><stop offset="0.64" stop-color="#000092" stop-opacity="0.28"/><stop offset="0.66" stop-color="#000091" stop-opacity="0.26"/><stop offset="0.69" stop-color="#00008f" stop-opacity="0.22"/><stop offset="0.71" stop-color="#00008d" stop-opacity="0.18"/><stop offset="0.74" stop-color="#00008b" stop-opacity="0.15"/><stop offset="0.76" stop-color="#000089" stop-opacity="0.1"/><stop offset="0.78" stop-color="#000086" stop-opacity="0.05"/><stop offset="0.81" stop-color="#000083" stop-opacity="0"/><stop offset="0.84" stop-color="#000082" stop-opacity="0"/><stop offset="0.86" stop-color="#000081" stop-opacity="0"/><stop offset="0.93" stop-color="#000081" stop-opacity="0"/><stop offset="0.95" stop-color="#000082" stop-opacity="0"/><stop offset="0.97" stop-color="#000081" stop-opacity="0"/><stop offset="1" stop-color="#000081" stop-opacity="0"/></linearGradient>
<linearGradient id="g117" gradientUnits="userSpaceOnUse" x1="246.2" x2="362.6" y1="0" y2="0"><stop offset="-0" stop-color="#00008d" stop-opacity="0.18"/><stop offset="0.43" stop-color="#00008d" stop-opacity="0.18"/><stop offset="0.45" stop-color="#00008c" stop-opacity="0.16"/><stop offset="0.47" stop-color="#00008a" stop-opacity="0.13"/><stop offset="0.49" stop-color="#000088" stop-opacity="0.1"/><stop offset="0.51" stop-color="#000087" stop-opacity="0.06"/><stop offset="0.54" stop-color="#000085" stop-opacity="0.03"/><stop offset="0.57" stop-color="#000083" stop-opacity="0"/><stop offset="0.6" stop-color="#000082" stop-opacity="0"/><stop offset="0.63" stop-color="#000080" stop-opacity="0"/><stop offset="1" stop-color="#000080" stop-opacity="0"/></linearGradient>
<linearGradient id="g119" x1="0" x2="0" y1="0" y2="1"><stop offset="0" stop-color="#800000"/><stop offset="0.03" stop-color="#9f0000"/><stop offset="0.06" stop-color="#bf0000"/><stop offset="0.09" stop-color="#df0000"/><stop offset="0.12" stop-color="#ff0000"/><stop offset="0.16" stop-color="#ff2000"/><stop offset="0.19" stop-color="#ff4000"/><stop offset="0.22" stop-color="#ff6000"/><stop offset="0.25" stop-color="#ff8000"/><stop offset="0.28" stop-color="#ff9f00"/><stop offset="0.31" stop-color="#ffbf00"/><stop offset="0.34" stop-color="#ffdf00"/><stop offset="0.38" stop-color="#ffff00"/><stop offset="0.41" stop-color="#dfff20"/><stop offset="0.44" stop-color="#bfff40"/><stop offset="0.47" stop-color="#9fff60"/><stop offset="0.5" stop-color="#80ff80"/><stop offset="0.53" stop-color="#60ff9f"/><stop offset="0.56" stop-color="#40ffbf"/><stop offset="0.59" stop-color="#20ffdf"/><stop offset="0.62" stop-color="#00ffff"/><stop offset="0.66" stop-color="#00dfff"/><stop offset="0.69" stop-color="#00bfff"/><stop offset="0.72" stop-color="#009fff"/><stop offset="0.75" stop-color="#0080ff"/><stop offset="0.78" stop-color="#0060ff"/><stop offset="0.81" stop-color="#0040ff"/><stop offset="0.84" stop-color="#0020ff"/><stop offset="0.88" stop-color="#0000ff"/><stop offset="0.91" stop-color="#0000df"/><stop offset="0.94" stop-color="#0000bf"/><stop offset="0.97" stop-color="#00009f"/><stop offset="1" stop-color="#000080"/></linearGradient>
</defs>
<rect width="405" height="550" fill="#fff"/>
<polygon points="108.8,7.4 112.5,9.2 117,10.6 123,12 129.4,13.1 141.7,14.8 154,16.1 166.4,17.1 180,17.9 199.4,18.6 224,19.5 250,20.1 284.4,20.9 284.4,27.4 250,27.5 224,27.9 199.4,28.8 180,29.6 166.4,30.3 154,31.2 141.7,32.4 129.4,34.1 123,35.2 117,36.5 112.5,37.7 108.8,39" fill="#3abcf2"/>
<g stroke="#808080" stroke-width="0.9" fill="none">
<path d="M96 7.8H108.8M96 39H108.8M108.8 39V54.8M284.3 27.2V54.3M284.3 21.2H297.4M284.3 27.2H297.4"/>
</g>
<g stroke="#4b8be0" stroke-width="0.7" fill="none">
<path d="M103.4 8.4V38.4M109.2 51.8H283.9M290.5 6.3V20.8M290.5 27.6V41.4"/>
<path d="M102 10.8L103.4 8.2L104.8 10.8M102 36L103.4 38.6L104.8 36"/>
<path d="M111.8 50.4L109.2 51.8L111.8 53.2M281.4 50.4L284 51.8L281.4 53.2"/>
<path d="M289.3 18.7L290.5 21L291.7 18.7M289.3 29.7L290.5 27.4L291.7 29.7"/>
</g>
<text transform="translate(199 11.5) scale(0.93 1)" font-family="'Liberation Sans', 'DejaVu Sans', sans-serif" font-size="11.2" text-anchor="middle" fill="#222">(a)</text>
<text transform="translate(87 28.3) scale(1.12 1)" font-family="'Liberation Serif', 'DejaVu Serif', serif" font-style="italic" font-size="12.3" fill="#222" stroke="#222" stroke-width="0.25">w<tspan font-style="normal" font-size="8" dy="2.2">2</tspan></text>
<text transform="translate(298.4 27.8) scale(1.12 1)" font-family="'Liberation Serif', 'DejaVu Serif', serif" font-style="italic" font-size="12.2" fill="#222" stroke="#222" stroke-width="0.25">w<tspan font-style="normal" font-size="8" dy="2.2">1</tspan></text>
<text x="192.6" y="63.6" font-family="'Liberation Serif', 'DejaVu Serif', serif" font-style="italic" font-size="12.4" fill="#222" stroke="#222" stroke-width="0.2">l<tspan font-style="normal" font-size="9" dy="2.4">3</tspan></text>
<g stroke="#ececec" stroke-width="0.6">
<path d="M85.74 72.1V241.9"/>
<path d="M137.29 72.1V241.9"/>
<path d="M188.83 72.1V241.9"/>
<path d="M240.37 72.1V241.9"/>
<path d="M291.91 72.1V241.9"/>
<path d="M343.46 72.1V241.9"/>
<path d="M34.2 223.03H395"/>
<path d="M34.2 204.17H395"/>
<path d="M34.2 185.3H395"/>
<path d="M34.2 166.43H395"/>
<path d="M34.2 147.57H395"/>
<path d="M34.2 128.7H395"/>
<path d="M34.2 109.83H395"/>
<path d="M34.2 90.97H395"/>
</g>
<rect x="34.2" y="72.1" width="360.8" height="169.8" fill="none" stroke="#a8a8a8" stroke-width="1.1"/>
<path d="M85.74 241.9v-2.2M85.74 72.1v2.2M137.29 241.9v-2.2M137.29 72.1v2.2M188.83 241.9v-2.2M188.83 72.1v2.2M240.37 241.9v-2.2M240.37 72.1v2.2M291.91 241.9v-2.2M291.91 72.1v2.2M343.46 241.9v-2.2M343.46 72.1v2.2M34.2 223.03h2.2M395 223.03h-2.2M34.2 204.17h2.2M395 204.17h-2.2M34.2 185.3h2.2M395 185.3h-2.2M34.2 166.43h2.2M395 166.43h-2.2M34.2 147.57h2.2M395 147.57h-2.2M34.2 128.7h2.2M395 128.7h-2.2M34.2 109.83h2.2M395 109.83h-2.2M34.2 90.97h2.2M395 90.97h-2.2" stroke="#9a9a9a" stroke-width="0.7" fill="none"/>
<g clip-path="url(#cpb)">
<polyline fill="none" stroke="#1030d0" stroke-width="1.15" stroke-linejoin="round" points="34.2,243 39.9,243.7 47.79,241 55.69,242 63.58,238.6 71.47,239.5 79.36,236.6 87.26,237.6 95.15,233.9 103.04,236.1 110.94,232 118.83,233.9 126.72,230.2 134.62,231.4 142.51,227.7 150.4,228.9 158.29,225.7 166.19,227.4 174.08,223.2 181.97,225.4 189.87,221.5 197.76,223.5 205.65,219.5 213.55,220.7 221.44,217.8 229.33,219.1 237.22,216.2 245.12,217.7 253.01,214.2 260.9,215.4 268.8,212.5 276.69,213.2 284.58,211 292.48,211 300.37,209.5 308.26,209 316.15,207.3 324.05,207 331.94,205.8 339.83,205.3 347.73,204.3 355.62,203.3 363.51,202.3 371.41,201.4 379.3,200.1 387.19,199.4 395.08,198.6"/>
<path d="M34.2 243h0M39.9 243.7h0M47.79 241h0M55.69 242h0M63.58 238.6h0M71.47 239.5h0M79.36 236.6h0M87.26 237.6h0M95.15 233.9h0M103.04 236.1h0M110.94 232h0M118.83 233.9h0M126.72 230.2h0M134.62 231.4h0M142.51 227.7h0M150.4 228.9h0M158.29 225.7h0M166.19 227.4h0M174.08 223.2h0M181.97 225.4h0M189.87 221.5h0M197.76 223.5h0M205.65 219.5h0M213.55 220.7h0M221.44 217.8h0M229.33 219.1h0M237.22 216.2h0M245.12 217.7h0M253.01 214.2h0M260.9 215.4h0M268.8 212.5h0M276.69 213.2h0M284.58 211h0M292.48 211h0M300.37 209.5h0M308.26 209h0M316.15 207.3h0M324.05 207h0M331.94 205.8h0M339.83 205.3h0M347.73 204.3h0M355.62 203.3h0M363.51 202.3h0M371.41 201.4h0M379.3 200.1h0M387.19 199.4h0M395.08 198.6h0" stroke="#1030d0" stroke-width="2.2" stroke-linecap="round" fill="none"/>
<polyline fill="none" stroke="#10c8dc" stroke-width="1.15" stroke-linejoin="round" points="34.2,241.6 39.9,239.5 47.79,236.1 55.69,232.9 63.58,230.5 71.47,229.7 79.36,228.7 87.26,228.7 95.15,227.5 103.04,227.5 110.94,229.7 118.83,229.9 126.72,228.6 134.62,225.8 142.51,223.2 150.4,222.2 158.29,219.5 166.19,217.3 174.08,214.8 181.97,214.1 189.87,216.5 197.76,218 205.65,218.5 213.55,219 221.44,218 229.33,219.9 237.22,217.4 245.12,214.7 253.01,211 260.9,208 268.8,207.8 276.69,206.8 284.58,206.5 292.48,207.3 300.37,208 308.26,211.4 316.15,213 324.05,212 331.94,210 339.83,207.3 347.73,206.5 355.62,203.3 363.51,200.6 371.41,198.6 379.3,197.9 387.19,200.1 395.08,202.3"/>
<path d="M34.2 241.6h0M39.9 239.5h0M47.79 236.1h0M55.69 232.9h0M63.58 230.5h0M71.47 229.7h0M79.36 228.7h0M87.26 228.7h0M95.15 227.5h0M103.04 227.5h0M110.94 229.7h0M118.83 229.9h0M126.72 228.6h0M134.62 225.8h0M142.51 223.2h0M150.4 222.2h0M158.29 219.5h0M166.19 217.3h0M174.08 214.8h0M181.97 214.1h0M189.87 216.5h0M197.76 218h0M205.65 218.5h0M213.55 219h0M221.44 218h0M229.33 219.9h0M237.22 217.4h0M245.12 214.7h0M253.01 211h0M260.9 208h0M268.8 207.8h0M276.69 206.8h0M284.58 206.5h0M292.48 207.3h0M300.37 208h0M308.26 211.4h0M316.15 213h0M324.05 212h0M331.94 210h0M339.83 207.3h0M347.73 206.5h0M355.62 203.3h0M363.51 200.6h0M371.41 198.6h0M379.3 197.9h0M387.19 200.1h0M395.08 202.3h0" stroke="#10c8dc" stroke-width="2.2" stroke-linecap="round" fill="none"/>
<polyline fill="none" stroke="#77ac30" stroke-width="1.15" stroke-linejoin="round" points="34.2,226.2 39.9,225 47.79,221.3 55.69,215.4 63.58,209 71.47,206.2 79.36,204.7 87.26,200.8 95.15,195.1 103.04,190.5 110.94,188.7 118.83,187.7 126.72,184.2 134.62,178.4 142.51,174.6 150.4,172.8 158.29,171.6 166.19,167.7 174.08,163.5 181.97,161 189.87,160.2 197.76,159 205.65,155.3 213.55,151.6 221.44,148.8 229.33,148 237.22,146.5 245.12,142.8 253.01,139.1 260.9,136.9 268.8,135.9 276.69,134.7 284.58,131.2 292.48,128.3 300.37,126.5 308.26,125.8 316.15,124.3 324.05,121.9 331.94,118.6 339.83,116.9 347.73,115.9 355.62,114.7 363.51,112.5 371.41,110.5 379.3,109.3 387.19,108 395.08,106.8"/>
<path d="M34.2 226.2h0M39.9 225h0M47.79 221.3h0M55.69 215.4h0M63.58 209h0M71.47 206.2h0M79.36 204.7h0M87.26 200.8h0M95.15 195.1h0M103.04 190.5h0M110.94 188.7h0M118.83 187.7h0M126.72 184.2h0M134.62 178.4h0M142.51 174.6h0M150.4 172.8h0M158.29 171.6h0M166.19 167.7h0M174.08 163.5h0M181.97 161h0M189.87 160.2h0M197.76 159h0M205.65 155.3h0M213.55 151.6h0M221.44 148.8h0M229.33 148h0M237.22 146.5h0M245.12 142.8h0M253.01 139.1h0M260.9 136.9h0M268.8 135.9h0M276.69 134.7h0M284.58 131.2h0M292.48 128.3h0M300.37 126.5h0M308.26 125.8h0M316.15 124.3h0M324.05 121.9h0M331.94 118.6h0M339.83 116.9h0M347.73 115.9h0M355.62 114.7h0M363.51 112.5h0M371.41 110.5h0M379.3 109.3h0M387.19 108h0M395.08 106.8h0" stroke="#77ac30" stroke-width="2.2" stroke-linecap="round" fill="none"/>
<polyline fill="none" stroke="#1a2238" stroke-width="1.15" stroke-linejoin="round" points="34.2,216.9 39.9,220.9 47.79,209 55.69,214.9 63.58,203.5 71.47,209.4 79.36,199.8 87.26,204.5 95.15,195.1 103.04,201.3 110.94,189.4 118.83,196.1 126.72,185.7 134.62,189.9 142.51,179.5 150.4,184.4 158.29,176 166.19,180.2 174.08,170.4 181.97,175.1 189.87,168.4 197.76,171.4 205.65,165.4 213.55,167.7 221.44,162.5 229.33,164.8 237.22,159.7 245.12,160 253.01,156.6 260.9,155.4 268.8,153.5 276.69,150.7 284.58,149.5 292.48,145.6 300.37,146.8 308.26,142 316.15,144.8 324.05,138.9 331.94,142.1 339.83,135.9 347.73,140.9 355.62,133 363.51,139.1 371.41,129.8 379.3,135.7 387.19,127.3 395.08,132.2"/>
<path d="M34.2 216.9h0M39.9 220.9h0M47.79 209h0M55.69 214.9h0M63.58 203.5h0M71.47 209.4h0M79.36 199.8h0M87.26 204.5h0M95.15 195.1h0M103.04 201.3h0M110.94 189.4h0M118.83 196.1h0M126.72 185.7h0M134.62 189.9h0M142.51 179.5h0M150.4 184.4h0M158.29 176h0M166.19 180.2h0M174.08 170.4h0M181.97 175.1h0M189.87 168.4h0M197.76 171.4h0M205.65 165.4h0M213.55 167.7h0M221.44 162.5h0M229.33 164.8h0M237.22 159.7h0M245.12 160h0M253.01 156.6h0M260.9 155.4h0M268.8 153.5h0M276.69 150.7h0M284.58 149.5h0M292.48 145.6h0M300.37 146.8h0M308.26 142h0M316.15 144.8h0M324.05 138.9h0M331.94 142.1h0M339.83 135.9h0M347.73 140.9h0M355.62 133h0M363.51 139.1h0M371.41 129.8h0M379.3 135.7h0M387.19 127.3h0M395.08 132.2h0" stroke="#1a2238" stroke-width="2.2" stroke-linecap="round" fill="none"/>
<polyline fill="none" stroke="#ff1a1a" stroke-width="1.15" stroke-linejoin="round" points="34.4,216.7 47.76,208.7 61.12,199.3 74.48,189.4 87.84,181.4 101.2,176.3 114.56,169.1 127.92,159.6 141.28,151 154.64,144.8 168,139.9 181.36,133.7 194.72,126.8 208.08,120.9 221.44,116.6 234.8,114.4 248.16,110.2 261.52,105.8 274.88,102.8 288.24,100.9 301.6,99.1 314.96,97 328.32,94.4 341.68,92.5 355.04,91 368.4,89.3 381.76,88 395.12,86.8"/>
<path d="M34.4 216.7h0M47.76 208.7h0M61.12 199.3h0M74.48 189.4h0M87.84 181.4h0M101.2 176.3h0M114.56 169.1h0M127.92 159.6h0M141.28 151h0M154.64 144.8h0M168 139.9h0M181.36 133.7h0M194.72 126.8h0M208.08 120.9h0M221.44 116.6h0M234.8 114.4h0M248.16 110.2h0M261.52 105.8h0M274.88 102.8h0M288.24 100.9h0M301.6 99.1h0M314.96 97h0M328.32 94.4h0M341.68 92.5h0M355.04 91h0M368.4 89.3h0M381.76 88h0M395.12 86.8h0" stroke="#ff1a1a" stroke-width="2.2" stroke-linecap="round" fill="none"/>
<polyline fill="none" stroke="#1f1fff" stroke-width="1.15" stroke-linejoin="round" points="34.4,197.1 47.76,194.3 61.12,183.1 74.48,170.4 87.84,171.3 101.2,157.8 114.56,150.6 127.92,151.5 141.28,138.6 154.64,136.9 168,135.2 181.36,123.3 194.72,124.8 208.08,118.1 221.44,108.8 234.8,114 248.16,105.3 261.52,100.6 274.88,102.8 288.24,93.7 301.6,94.2 314.96,95.4 328.32,88 341.68,90.7 355.04,89.3 368.4,84.6 381.76,87.8 395.12,84.8"/>
<path d="M34.4 197.1h0M47.76 194.3h0M61.12 183.1h0M74.48 170.4h0M87.84 171.3h0M101.2 157.8h0M114.56 150.6h0M127.92 151.5h0M141.28 138.6h0M154.64 136.9h0M168 135.2h0M181.36 123.3h0M194.72 124.8h0M208.08 118.1h0M221.44 108.8h0M234.8 114h0M248.16 105.3h0M261.52 100.6h0M274.88 102.8h0M288.24 93.7h0M301.6 94.2h0M314.96 95.4h0M328.32 88h0M341.68 90.7h0M355.04 89.3h0M368.4 84.6h0M381.76 87.8h0M395.12 84.8h0" stroke="#1f1fff" stroke-width="2.2" stroke-linecap="round" fill="none"/>
</g>
<polygon points="381.7,83.1 383.46,86.47 387.22,87.11 384.55,89.83 385.11,93.59 381.7,91.9 378.29,93.59 378.85,89.83 376.18,87.11 379.94,86.47" fill="#ff9b10"/>
<g font-family="'Liberation Serif', 'DejaVu Serif', serif" font-weight="bold" font-size="10.4" fill="#111">
<text x="34.5" y="254.9" text-anchor="middle">100</text>
<text x="85.74" y="254.9" text-anchor="middle">200</text>
<text x="137.29" y="254.9" text-anchor="middle">300</text>
<text x="188.83" y="254.9" text-anchor="middle">400</text>
<text x="240.37" y="254.9" text-anchor="middle">500</text>
<text x="291.91" y="254.9" text-anchor="middle">600</text>
<text x="343.46" y="254.9" text-anchor="middle">700</text>
<text x="395" y="254.9" text-anchor="middle">800</text>
<text x="31.6" y="226.93" text-anchor="end">0.2</text>
<text x="31.6" y="208.07" text-anchor="end">0.3</text>
<text x="31.6" y="189.2" text-anchor="end">0.4</text>
<text x="31.6" y="170.33" text-anchor="end">0.5</text>
<text x="31.6" y="151.47" text-anchor="end">0.6</text>
<text x="31.6" y="132.6" text-anchor="end">0.7</text>
<text x="31.6" y="113.73" text-anchor="end">0.8</text>
<text x="31.6" y="94.87" text-anchor="end">0.9</text>
<text x="31.6" y="76" text-anchor="end">1</text>
</g>
<text x="206.6" y="267.8" text-anchor="middle" font-family="'Liberation Serif', 'DejaVu Serif', serif" font-weight="bold" font-size="11.4" fill="#111">Inverse taper length (<tspan font-style="italic">μ</tspan>m)</text>
<text transform="translate(12.4 164.5) rotate(-90)" text-anchor="middle" font-family="'Liberation Serif', 'DejaVu Serif', serif" font-weight="bold" font-size="11.5" fill="#111">Transmission</text>
<text transform="translate(6.9 77.6) scale(0.87 1)" font-family="'Liberation Sans', 'DejaVu Sans', sans-serif" font-size="12.3" fill="#222">(b)</text>
<rect x="38.8" y="75.6" width="78.9" height="67.3" fill="#fff" stroke="#8c8c8c" stroke-width="0.8"/>
<g font-family="'Liberation Serif', 'DejaVu Serif', serif" font-weight="bold" font-size="9.7" fill="#111">
<path d="M41 82.2H52.8" stroke="#ff1a1a" stroke-width="1.1"/>
<circle cx="46.9" cy="82.2" r="1.05" fill="#ff1a1a"/>
<text x="54.6" y="86">Optimized TE</text>
<path d="M41 93.1H52.8" stroke="#1f1fff" stroke-width="1.1"/>
<circle cx="46.9" cy="93.1" r="1.05" fill="#1f1fff"/>
<text x="54.6" y="96.9">Optimized TM</text>
<path d="M41 104.4H52.8" stroke="#77ac30" stroke-width="1.1"/>
<circle cx="46.9" cy="104.4" r="1.05" fill="#77ac30"/>
<text x="54.6" y="108.2">Linear TE</text>
<path d="M41 115.6H52.8" stroke="#1a2238" stroke-width="1.1"/>
<circle cx="46.9" cy="115.6" r="1.05" fill="#1a2238"/>
<text x="54.6" y="119.4">Linear TM</text>
<path d="M41 126.2H52.8" stroke="#1030d0" stroke-width="1.1"/>
<circle cx="46.9" cy="126.2" r="1.05" fill="#1030d0"/>
<text x="54.6" y="130">Parabolic TE</text>
<path d="M41 137.1H52.8" stroke="#10c8dc" stroke-width="1.1"/>
<circle cx="46.9" cy="137.1" r="1.05" fill="#10c8dc"/>
<text x="54.6" y="140.9">Parabolic TM</text>
</g>
<rect x="45.7" y="289.3" width="114.8" height="95.6" fill="#00008f"/>
<g clip-path="url(#c1)">
<ellipse cx="98" cy="337" rx="48" ry="6.5" fill="#0010ff" opacity="0.6" filter="url(#f2)"/>
<ellipse cx="142.5" cy="337.2" rx="9" ry="5.5" fill="#0018ff" opacity="0.7" filter="url(#f3)"/>
<ellipse cx="124" cy="337.2" rx="7" ry="6" fill="#0014ff" opacity="0.35" filter="url(#f4)"/>
<rect x="45.7" y="326" width="114.8" height="1" fill="url(#g6)"/>
<rect x="45.7" y="327" width="114.8" height="1" fill="url(#g7)"/>
<rect x="45.7" y="328" width="114.8" height="1" fill="url(#g8)"/>
<rect x="45.7" y="329" width="114.8" height="1" fill="url(#g9)"/>
<rect x="45.7" y="330" width="114.8" height="1" fill="url(#g10)"/>
<rect x="45.7" y="331" width="114.8" height="1" fill="url(#g11)"/>
<rect x="45.7" y="332" width="114.8" height="1" fill="url(#g12)"/>
<rect x="45.7" y="333" width="114.8" height="1" fill="url(#g13)"/>
<rect x="45.7" y="334" width="114.8" height="1" fill="url(#g14)"/>
<rect x="45.7" y="335" width="114.8" height="1" fill="url(#g15)"/>
<rect x="45.7" y="336" width="114.8" height="1" fill="url(#g16)"/>
<rect x="45.7" y="337" width="114.8" height="1" fill="url(#g17)"/>
<rect x="45.7" y="338" width="114.8" height="1" fill="url(#g18)"/>
<rect x="45.7" y="339" width="114.8" height="1" fill="url(#g19)"/>
<rect x="45.7" y="340" width="114.8" height="1" fill="url(#g20)"/>
<rect x="45.7" y="341" width="114.8" height="1" fill="url(#g21)"/>
<rect x="45.7" y="342" width="114.8" height="1" fill="url(#g22)"/>
<rect x="45.7" y="343" width="114.8" height="1" fill="url(#g23)"/>
<rect x="45.7" y="344" width="114.8" height="1" fill="url(#g24)"/>
<rect x="45.7" y="345" width="114.8" height="1" fill="url(#g25)"/>
<rect x="45.7" y="346" width="114.8" height="1" fill="url(#g26)"/>
<rect x="45.7" y="347" width="114.8" height="1" fill="url(#g27)"/>
</g>
<text x="102.9" y="382.7" font-family="'Liberation Sans', 'DejaVu Sans', sans-serif" font-size="10.4" fill="#fff" stroke="#fff" stroke-width="0.3" text-anchor="middle">TE</text>
<rect x="163.7" y="289.3" width="6.7" height="95.6" fill="url(#g30)"/>
<g font-family="'Liberation Serif', 'DejaVu Serif', serif" font-weight="bold" font-size="9.6" fill="#111">
<text x="172.8" y="292.9">1</text>
<text x="172.8" y="312.02">0.8</text>
<text x="172.8" y="331.14">0.6</text>
<text x="172.8" y="350.26">0.4</text>
<text x="172.8" y="369.38">0.2</text>
<text x="172.8" y="388.5">0</text>
</g>
<text transform="translate(18.5 289) scale(0.87 1)" font-family="'Liberation Sans', 'DejaVu Sans', sans-serif" font-size="12.3" fill="#222">(c)</text>
<g font-family="'Liberation Serif', 'DejaVu Serif', serif" font-weight="bold" font-size="10.3" fill="#111">
<text x="43.1" y="293.1" text-anchor="end">5</text>
<text x="43.1" y="340.9" text-anchor="end">0</text>
<text x="43.1" y="388.7" text-anchor="end">−5</text>
<text x="47.3" y="398" text-anchor="middle">0</text>
<text x="76.4" y="398" text-anchor="middle">200</text>
<text x="105.5" y="398" text-anchor="middle">400</text>
<text x="134.6" y="398" text-anchor="middle">600</text>
</g>
<text x="103.46" y="409.8" text-anchor="middle" font-family="'Liberation Serif', 'DejaVu Serif', serif" font-weight="bold" font-size="10.9" fill="#111">x(microns)</text>
<text transform="translate(28.5 337.6) rotate(-90)" text-anchor="middle" font-family="'Liberation Serif', 'DejaVu Serif', serif" font-weight="bold" font-size="11.4" fill="#111">y(microns)</text>
<rect x="248.1" y="289.2" width="114.5" height="95.1" fill="#00008f"/>
<g clip-path="url(#c31)">
<ellipse cx="337" cy="326" rx="25" ry="38" fill="#0000ee" opacity="0.8" filter="url(#f32)"/>
<ellipse cx="290" cy="359" rx="46" ry="6.5" fill="#0010ff" opacity="0.5" filter="url(#f33)"/>
<ellipse cx="317" cy="350" rx="10" ry="9" fill="#0014ff" opacity="0.8" filter="url(#f34)"/>
<ellipse cx="327" cy="329" rx="6.2" ry="27" fill="#002cff" opacity="1" filter="url(#f35)"/>
<ellipse cx="350.3" cy="334" rx="6.8" ry="29" fill="#002cff" opacity="1" filter="url(#f36)"/>
<ellipse cx="355" cy="303" rx="6" ry="7" fill="#0014ff" opacity="0.7" filter="url(#f37)"/>
<ellipse cx="338.2" cy="343" rx="0.9" ry="19" fill="#0000a0" opacity="0.6" filter="url(#f38)"/>
<rect x="248.1" y="347" width="114.5" height="1" fill="url(#g41)"/>
<rect x="248.1" y="348" width="114.5" height="1" fill="url(#g42)"/>
<rect x="248.1" y="349" width="114.5" height="1" fill="url(#g43)"/>
<rect x="248.1" y="350" width="114.5" height="1" fill="url(#g44)"/>
<rect x="248.1" y="351" width="114.5" height="1" fill="url(#g45)"/>
<rect x="248.1" y="352" width="114.5" height="1" fill="url(#g46)"/>
<rect x="248.1" y="353" width="114.5" height="1" fill="url(#g47)"/>
<rect x="248.1" y="354" width="114.5" height="1" fill="url(#g48)"/>
<rect x="248.1" y="355" width="114.5" height="1" fill="url(#g49)"/>
<rect x="248.1" y="356" width="114.5" height="1" fill="url(#g50)"/>
<rect x="248.1" y="357" width="114.5" height="1" fill="url(#g51)"/>
<rect x="248.1" y="358" width="114.5" height="1" fill="url(#g52)"/>
<rect x="248.1" y="359" width="114.5" height="1" fill="url(#g53)"/>
<rect x="248.1" y="360" width="114.5" height="1" fill="url(#g54)"/>
<rect x="248.1" y="361" width="114.5" height="1" fill="url(#g55)"/>
<rect x="248.1" y="362" width="114.5" height="1" fill="url(#g56)"/>
<rect x="248.1" y="363" width="114.5" height="1" fill="url(#g57)"/>
<rect x="248.1" y="364" width="114.5" height="1" fill="url(#g58)"/>
<rect x="248.1" y="365" width="114.5" height="1" fill="url(#g59)"/>
<rect x="248.1" y="366" width="114.5" height="1" fill="url(#g60)"/>
<rect x="248.1" y="367" width="114.5" height="1" fill="url(#g61)"/>
<rect x="248.1" y="368" width="114.5" height="1" fill="url(#g62)"/>
<rect x="248.1" y="369" width="114.5" height="1" fill="url(#g63)"/>
<rect x="248.1" y="370" width="114.5" height="1" fill="url(#g64)"/>
</g>
<text x="304.3" y="382.1" font-family="'Liberation Sans', 'DejaVu Sans', sans-serif" font-size="10.4" fill="#fff" stroke="#fff" stroke-width="0.3" text-anchor="middle">TE</text>
<rect x="365.8" y="289.2" width="6.7" height="95.1" fill="url(#g68)"/>
<g font-family="'Liberation Serif', 'DejaVu Serif', serif" font-weight="bold" font-size="9.6" fill="#111">
<text x="374.9" y="292.8">1</text>
<text x="374.9" y="311.82">0.8</text>
<text x="374.9" y="330.84">0.6</text>
<text x="374.9" y="349.86">0.4</text>
<text x="374.9" y="368.88">0.2</text>
<text x="374.9" y="387.9">0</text>
</g>
<text transform="translate(218.3 289.5) scale(0.87 1)" font-family="'Liberation Sans', 'DejaVu Sans', sans-serif" font-size="12.3" fill="#222">(d)</text>
<g font-family="'Liberation Serif', 'DejaVu Serif', serif" font-weight="bold" font-size="10.3" fill="#111">
<text x="245.5" y="293" text-anchor="end">6</text>
<text x="245.5" y="316.78" text-anchor="end">4</text>
<text x="245.5" y="340.55" text-anchor="end">2</text>
<text x="245.5" y="364.32" text-anchor="end">0</text>
<text x="245.5" y="388.1" text-anchor="end">−2</text>
<text x="249.1" y="397.4" text-anchor="middle">0</text>
<text x="278.2" y="397.4" text-anchor="middle">200</text>
<text x="307.3" y="397.4" text-anchor="middle">400</text>
<text x="336.4" y="397.4" text-anchor="middle">600</text>
</g>
<text x="305.26" y="409.2" text-anchor="middle" font-family="'Liberation Serif', 'DejaVu Serif', serif" font-weight="bold" font-size="10.9" fill="#111">x(microns)</text>
<text transform="translate(230.1 337.75) rotate(-90)" text-anchor="middle" font-family="'Liberation Serif', 'DejaVu Serif', serif" font-weight="bold" font-size="10.9" fill="#111">z(microns)</text>
<rect x="45.7" y="427.3" width="114.8" height="93.1" fill="#00008f"/>
<g clip-path="url(#c69)">
<ellipse cx="100" cy="474" rx="52" ry="6.5" fill="#0010ff" opacity="0.65" filter="url(#f70)"/>
<ellipse cx="136" cy="474.2" rx="8" ry="5" fill="#0014ff" opacity="0.35" filter="url(#f71)"/>
<rect x="45.7" y="466" width="114.8" height="1" fill="url(#g73)"/>
<rect x="45.7" y="467" width="114.8" height="1" fill="url(#g74)"/>
<rect x="45.7" y="468" width="114.8" height="1" fill="url(#g75)"/>
<rect x="45.7" y="469" width="114.8" height="1" fill="url(#g76)"/>
<rect x="45.7" y="470" width="114.8" height="1" fill="url(#g77)"/>
<rect x="45.7" y="471" width="114.8" height="1" fill="url(#g78)"/>
<rect x="45.7" y="472" width="114.8" height="1" fill="url(#g79)"/>
<rect x="45.7" y="473" width="114.8" height="1" fill="url(#g80)"/>
<rect x="45.7" y="474" width="114.8" height="1" fill="url(#g81)"/>
<rect x="45.7" y="475" width="114.8" height="1" fill="url(#g82)"/>
<rect x="45.7" y="476" width="114.8" height="1" fill="url(#g83)"/>
<rect x="45.7" y="477" width="114.8" height="1" fill="url(#g84)"/>
<rect x="45.7" y="478" width="114.8" height="1" fill="url(#g85)"/>
<rect x="45.7" y="479" width="114.8" height="1" fill="url(#g86)"/>
<rect x="45.7" y="480" width="114.8" height="1" fill="url(#g87)"/>
<rect x="45.7" y="481" width="114.8" height="1" fill="url(#g88)"/>
</g>
<text x="103.3" y="518.2" font-family="'Liberation Sans', 'DejaVu Sans', sans-serif" font-size="10.4" fill="#fff" stroke="#fff" stroke-width="0.3" text-anchor="middle">TM</text>
<rect x="163.7" y="427.3" width="6.7" height="93.1" fill="url(#g91)"/>
<g font-family="'Liberation Serif', 'DejaVu Serif', serif" font-weight="bold" font-size="9.6" fill="#111">
<text x="172.8" y="430.9">1</text>
<text x="172.8" y="449.52">0.8</text>
<text x="172.8" y="468.14">0.6</text>
<text x="172.8" y="486.76">0.4</text>
<text x="172.8" y="505.38">0.2</text>
<text x="172.8" y="524">0</text>
</g>
<text transform="translate(18.5 425) scale(0.87 1)" font-family="'Liberation Sans', 'DejaVu Sans', sans-serif" font-size="12.3" fill="#222">(e)</text>
<g font-family="'Liberation Serif', 'DejaVu Serif', serif" font-weight="bold" font-size="10.3" fill="#111">
<text x="43.1" y="431.1" text-anchor="end">5</text>
<text x="43.1" y="477.65" text-anchor="end">0</text>
<text x="43.1" y="524.2" text-anchor="end">−5</text>
<text x="47.3" y="533.5" text-anchor="middle">0</text>
<text x="76.4" y="533.5" text-anchor="middle">200</text>
<text x="105.5" y="533.5" text-anchor="middle">400</text>
<text x="134.6" y="533.5" text-anchor="middle">600</text>
</g>
<text x="103.46" y="545.3" text-anchor="middle" font-family="'Liberation Serif', 'DejaVu Serif', serif" font-weight="bold" font-size="10.9" fill="#111">x(microns)</text>
<text transform="translate(28.5 474.35) rotate(-90)" text-anchor="middle" font-family="'Liberation Serif', 'DejaVu Serif', serif" font-weight="bold" font-size="11.4" fill="#111">y(microns)</text>
<rect x="246.2" y="427.3" width="116.4" height="92.6" fill="#00008f"/>
<g clip-path="url(#c92)">
<ellipse cx="305" cy="462" rx="60" ry="30" fill="#0000e8" opacity="0.75" filter="url(#f93)"/>
<ellipse cx="290" cy="495.5" rx="50" ry="7.5" fill="#0010ff" opacity="0.6" filter="url(#f94)"/>
<ellipse cx="326" cy="482" rx="13" ry="9" fill="#0018ff" opacity="0.8" filter="url(#f95)"/>
<ellipse cx="345.3" cy="467" rx="6.2" ry="25" fill="#0028ff" opacity="1" filter="url(#f96)"/>
<ellipse cx="345.5" cy="447" rx="8" ry="10" fill="#0010f0" opacity="0.55" filter="url(#f97)"/>
<rect x="246.2" y="486" width="116.4" height="1" fill="url(#g99)"/>
<rect x="246.2" y="487" width="116.4" height="1" fill="url(#g100)"/>
<rect x="246.2" y="488" width="116.4" height="1" fill="url(#g101)"/>
<rect x="246.2" y="489" width="116.4" height="1" fill="url(#g102)"/>
<rect x="246.2" y="490" width="116.4" height="1" fill="url(#g103)"/>
<rect x="246.2" y="491" width="116.4" height="1" fill="url(#g104)"/>
<rect x="246.2" y="492" width="116.4" height="1" fill="url(#g105)"/>
<rect x="246.2" y="493" width="116.4" height="1" fill="url(#g106)"/>
<rect x="246.2" y="494" width="116.4" height="1" fill="url(#g107)"/>
<rect x="246.2" y="495" width="116.4" height="1" fill="url(#g108)"/>
<rect x="246.2" y="496" width="116.4" height="1" fill="url(#g109)"/>
<rect x="246.2" y="497" width="116.4" height="1" fill="url(#g110)"/>
<rect x="246.2" y="498" width="116.4" height="1" fill="url(#g111)"/>
<rect x="246.2" y="499" width="116.4" height="1" fill="url(#g112)"/>
<rect x="246.2" y="500" width="116.4" height="1" fill="url(#g113)"/>
<rect x="246.2" y="501" width="116.4" height="1" fill="url(#g114)"/>
<rect x="246.2" y="502" width="116.4" height="1" fill="url(#g115)"/>
<rect x="246.2" y="503" width="116.4" height="1" fill="url(#g116)"/>
<rect x="246.2" y="504" width="116.4" height="1" fill="url(#g117)"/>
</g>
<text x="305" y="517.7" font-family="'Liberation Sans', 'DejaVu Sans', sans-serif" font-size="10.4" fill="#fff" stroke="#fff" stroke-width="0.3" text-anchor="middle">TM</text>
<rect x="365.8" y="427.3" width="6.7" height="92.6" fill="url(#g119)"/>
<g font-family="'Liberation Serif', 'DejaVu Serif', serif" font-weight="bold" font-size="9.6" fill="#111">
<text x="374.9" y="430.9">1</text>
<text x="374.9" y="449.42">0.8</text>
<text x="374.9" y="467.94">0.6</text>
<text x="374.9" y="486.46">0.4</text>
<text x="374.9" y="504.98">0.2</text>
<text x="374.9" y="523.5">0</text>
</g>
<text transform="translate(221 425) scale(0.87 1)" font-family="'Liberation Sans', 'DejaVu Sans', sans-serif" font-size="12.3" fill="#222">(f)</text>
<g font-family="'Liberation Serif', 'DejaVu Serif', serif" font-weight="bold" font-size="10.3" fill="#111">
<text x="243.6" y="431.1" text-anchor="end">6</text>
<text x="243.6" y="454.25" text-anchor="end">4</text>
<text x="243.6" y="477.4" text-anchor="end">2</text>
<text x="243.6" y="500.55" text-anchor="end">0</text>
<text x="243.6" y="523.7" text-anchor="end">−2</text>
<text x="248.7" y="533" text-anchor="middle">0</text>
<text x="278" y="533" text-anchor="middle">200</text>
<text x="307.3" y="533" text-anchor="middle">400</text>
<text x="336.6" y="533" text-anchor="middle">600</text>
</g>
<text x="305.25" y="544.8" text-anchor="middle" font-family="'Liberation Serif', 'DejaVu Serif', serif" font-weight="bold" font-size="10.9" fill="#111">x(microns)</text>
<text transform="translate(232 474.6) rotate(-90)" text-anchor="middle" font-family="'Liberation Serif', 'DejaVu Serif', serif" font-weight="bold" font-size="10.9" fill="#111">z(microns)</text>
</svg>
</body>
</html>
